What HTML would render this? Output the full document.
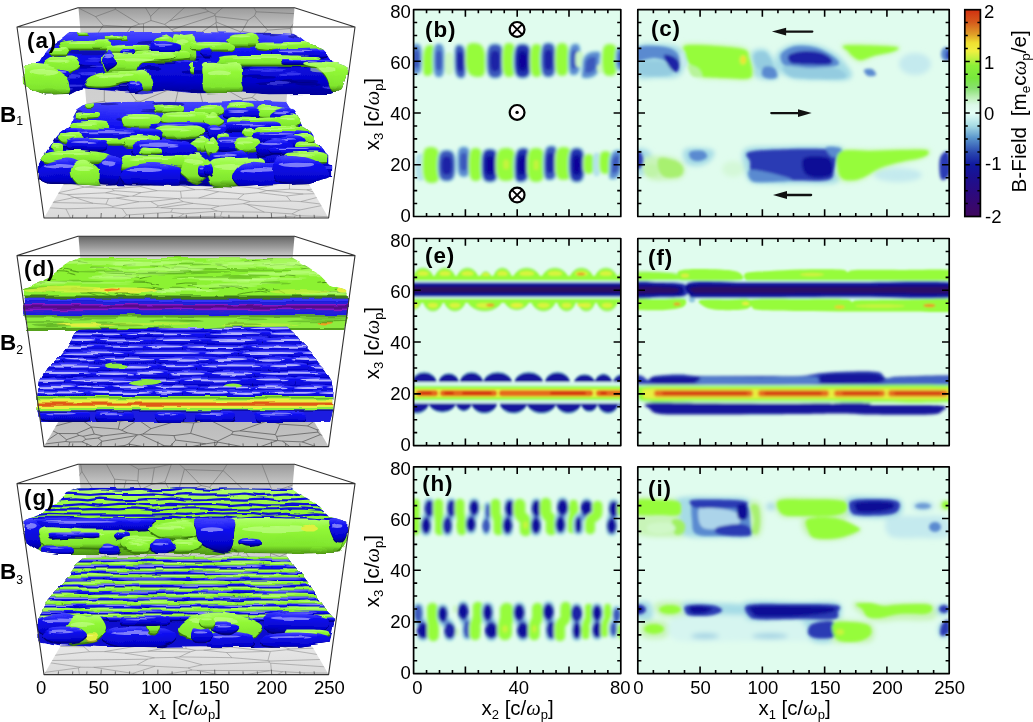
<!DOCTYPE html><html><head><meta charset="utf-8"><title>B-field figure</title>
<style>html,body{margin:0;padding:0;background:#fff;}svg{display:block;}text{font-family:'Liberation Sans', Arial, Helvetica, sans-serif;}</style></head><body>
<svg width="1033" height="722" viewBox="0 0 1033 722">
<defs>
<filter id="bl" x="-20%" y="-20%" width="140%" height="140%"><feGaussianBlur stdDeviation="1.6"/></filter>
<filter id="bl2" x="-20%" y="-20%" width="140%" height="140%"><feGaussianBlur stdDeviation="2.6"/></filter>
<filter id="bl1" x="-20%" y="-20%" width="140%" height="140%"><feGaussianBlur stdDeviation="0.8"/></filter>
<clipPath id="cm0"><rect x="413.6" y="9.6" width="207.2" height="206.9"/></clipPath>
<clipPath id="cr0"><rect x="637.8" y="9.6" width="311.4" height="206.9"/></clipPath>
<clipPath id="cm1"><rect x="413.6" y="238.5" width="207.2" height="207.1"/></clipPath>
<clipPath id="cr1"><rect x="637.8" y="238.5" width="311.4" height="207.1"/></clipPath>
<clipPath id="cm2"><rect x="413.6" y="466.8" width="207.2" height="206.8"/></clipPath>
<clipPath id="cr2"><rect x="637.8" y="466.8" width="311.4" height="206.8"/></clipPath>
<linearGradient id="cbar" x1="0" y1="0" x2="0" y2="1"><stop offset="0" stop-color="#d23010"/><stop offset="0.06" stop-color="#d65a1c"/><stop offset="0.12" stop-color="#e0a028"/><stop offset="0.16" stop-color="#f0e030"/><stop offset="0.2" stop-color="#f0f040"/><stop offset="0.23" stop-color="#c8f040"/><stop offset="0.27" stop-color="#8cf038"/><stop offset="0.33" stop-color="#78e83c"/><stop offset="0.38" stop-color="#88e070"/><stop offset="0.42" stop-color="#b8eeb0"/><stop offset="0.46" stop-color="#dcf8e8"/><stop offset="0.5" stop-color="#e4fff6"/><stop offset="0.56" stop-color="#a8dce4"/><stop offset="0.62" stop-color="#5a96cc"/><stop offset="0.69" stop-color="#2a48b0"/><stop offset="0.75" stop-color="#1018a0"/><stop offset="0.81" stop-color="#1c1090"/><stop offset="0.88" stop-color="#2a0a80"/><stop offset="0.94" stop-color="#360870"/><stop offset="1" stop-color="#40085e"/></linearGradient>
<linearGradient id="gB" x1="0" y1="0" x2="0" y2="1"><stop offset="0" stop-color="#4848ff"/><stop offset="0.3" stop-color="#1010f2"/><stop offset="0.78" stop-color="#0404cc"/><stop offset="1" stop-color="#000090"/></linearGradient><linearGradient id="gG" x1="0" y1="0" x2="0" y2="1"><stop offset="0" stop-color="#b4ff70"/><stop offset="0.3" stop-color="#92f836"/><stop offset="0.78" stop-color="#80e62e"/><stop offset="1" stop-color="#4a9010"/></linearGradient><linearGradient id="wallA" x1="0" y1="0" x2="0" y2="1"><stop offset="0" stop-color="#9a9a9a"/><stop offset="0.16" stop-color="#cacaca"/><stop offset="1" stop-color="#d4d4d4"/></linearGradient><linearGradient id="floorD" x1="0" y1="0" x2="0" y2="1"><stop offset="0" stop-color="#a0a0a0"/><stop offset="0.7" stop-color="#bcbcbc"/><stop offset="1" stop-color="#c4c4c4"/></linearGradient><linearGradient id="wallD" x1="0" y1="0" x2="0" y2="1"><stop offset="0" stop-color="#666"/><stop offset="0.08" stop-color="#9a9a9a"/><stop offset="0.16" stop-color="#d2d2d2"/><stop offset="1" stop-color="#d8d8d8"/></linearGradient><linearGradient id="floor" x1="0" y1="0" x2="0" y2="1"><stop offset="0" stop-color="#cccccc"/><stop offset="0.6" stop-color="#e8e8e8"/><stop offset="1" stop-color="#dadada"/></linearGradient><filter id="soft3" x="-5%" y="-5%" width="110%" height="110%"><feTurbulence type="fractalNoise" baseFrequency="0.035 0.09" numOctaves="2" seed="4" result="n"/><feDisplacementMap in="SourceGraphic" in2="n" scale="5" xChannelSelector="R" yChannelSelector="G" result="d"/><feGaussianBlur in="d" stdDeviation="0.4"/></filter>
<clipPath id="wallclip"><path d="M78.5 7.7H294.5L283.1 140H89.3Z"/></clipPath><clipPath id="floorclip"><path d="M89.3 140H283.1L328.6 218H44Z"/></clipPath>
</defs>
<rect width="1033" height="722" fill="#fff"/>
<g transform="translate(0 0)"><path d="M78.5 7.7H294.5L283.1 140H89.3Z" fill="url(#wallA)"/><path clip-path="url(#wallclip)" d="M-435.7 73.8L-318.7 -17.8M-318.7 -17.8L-188.5 -124.8M187.4 -406.7L126.6 -364.7M126.6 -364.7L-117.2 -182.7M-188.5 -124.8L-117.2 -182.7M-117.2 -182.7L113.2 -1.8M126.6 -364.7L143.8 4.8M143.8 4.8L113.2 -1.8M187.4 -406.7L238.6 -367.6M238.6 -367.6L325.6 -303.8M325.6 -303.8L543.5 -145.1M543.5 -145.1L816.1 73.9M113.2 -1.8L115.5 9.3M-188.5 -124.8L95.6 16.6M115.5 9.3L95.6 16.6M325.6 -303.8L244.1 -10.6M299.5 13.9L543.5 -145.1M299.5 13.9L256.1 11.8M256.1 11.8L244.1 -10.6M185.3 552.1L222.3 496.3M816.1 73.9L767.3 94.7M767.3 94.7L432.1 293.8M222.3 496.3L432.1 293.8M103.2 25.3L95.6 16.6M115.5 9.3L139.5 24.1M103.2 25.3L130.9 27M139.5 24.1L130.9 27M-435.7 73.8L-212 187M185.3 552.1L148.5 497.1M148.5 497.1L-60.9 296.6M-212 187L-60.9 296.6M-318.7 -17.8L37.9 44.8M-24.1 138.8L-212 187M37.9 44.8L88.1 83.2M-24.1 138.8L41.1 112.1M88.1 83.2L41.1 112.1M143.8 4.8L150.6 16.3M139.5 24.1L143.5 23.7M143.5 23.7L151 20.5M150.6 16.3L151 20.5M299.5 13.9L290.4 28.5M767.3 94.7L521.1 84.3M521.1 84.3L293.2 43.2M293.2 43.2L290.4 28.5M256.1 11.8L254.6 15.7M254.6 15.7L267.7 30.1M290.4 28.5L267.7 30.1M145.3 161.1L129.8 145.6M148.5 497.1L145.3 161.1M-60.9 296.6L116.3 138.7M129.8 145.6L116.3 138.7M41.1 133.1L111.4 135.1M41.1 133.1L105 116.5M105 116.5L112.2 131.2M111.4 135.1L112.2 131.2M-24.1 138.8L41.1 133.1M116.3 138.7L111.4 135.1M113.2 108.6L104.3 101.2M41.1 112.1L104.3 101.2M113.2 108.6L105 116.5M432.1 293.8L309.6 162.1M309.6 162.1L276.5 145.8M222.3 496.3L220.7 197.3M220.7 197.3L244.4 137.2M276.5 145.8L244.4 137.2M223.4 115.1L204.1 108.1M223.4 115.1L221.6 122.9M221.6 122.9L214.2 124.5M214.2 124.5L201.8 117.7M204.1 108.1L201.8 117.7M134.9 102.1L114.1 108.7M134.9 102.1L132.4 122.7M114.1 108.7L122.4 120.8M122.4 120.8L131 123.3M132.4 122.7L131 123.3M113.2 108.6L114.1 108.7M112.2 131.2L122.4 120.8M129.8 145.6L131 123.3M145.3 161.1L163.3 135.9M139.1 122.7L163.3 135.9M139.1 122.7L132.4 122.7M88.1 83.2L93.1 82.3M104.3 101.2L104.3 85.3M93.1 82.3L104.3 85.3M136.6 101.1L120.2 79.2M136.6 101.1L134.9 102.1M104.3 85.3L120.2 79.2M55.1 46.5L90.3 66.1M55.1 46.5L91.8 42.5M91.8 42.5L98.3 45.2M98.3 45.2L103.6 63.6M90.3 66.1L103.6 63.6M37.9 44.8L55.1 46.5M93.1 82.3L90.3 66.1M103.2 25.3L91.8 42.5M130.9 27L116.9 47.2M116.9 47.2L98.3 45.2M121 51.3L114.7 67.6M114.7 67.6L103.6 63.6M116.9 47.2L121 51.3M248.1 20.2L242.1 31.2M254.6 15.7L248.1 20.2M267.7 30.1L260.8 35.5M260.8 35.5L242.1 31.2M248.1 20.2L215.6 16.5M216.3 22.1L215.6 16.5M216.3 22.1L240.6 31.9M242.1 31.2L240.6 31.9M309.6 162.1L278.4 117M521.1 84.3L455.2 85.3M455.2 85.3L278.4 117M245.1 128.7L259.1 125M245.1 128.7L240.1 106.7M259.1 125L276.3 115.4M240.1 106.7L242.8 98.9M276.3 115.4L275.7 111M275.7 111L252 97.5M242.8 98.9L252 97.5M276.5 145.8L259.1 125M244.4 137.2L243.3 131M243.3 131L245.1 128.7M233.7 130.3L221.6 122.9M233.7 130.3L243.3 131M223.4 115.1L240.1 106.7M278.4 117L276.3 115.4M455.2 85.3L307.3 84M307.3 84L275.7 111M242.8 98.9L230.2 91.9M204.1 108.1L198.5 86.2M230.2 91.9L198.5 86.2M174.3 36.1L199 58.2M174.3 36.1L161 53M161 53L186 82.8M199 58.2L191.8 78.5M186 82.8L190.1 82.2M191.8 78.5L190.1 82.2M269.1 67.4L256.3 68.7M269.1 67.4L285.4 82.5M256.3 68.7L262 87.2M285.4 82.5L262 87.2M252 97.5L262 87.2M306.4 83.6L307.3 84M306.4 83.6L285.4 82.5M279 51.2L275.3 63.3M279 51.2L281.4 49.2M281.4 49.2L289.8 46.2M289.8 46.2L295.8 70.2M295.8 70.2L275.3 63.3M293.2 43.2L289.8 46.2M260.8 35.5L260.3 41.2M260.3 41.2L281.4 49.2M306.4 83.6L295.8 70.2M269.1 67.4L275.3 63.3M211.8 133.2L219.7 136.6M211.8 133.2L210.6 133.6M210.6 133.6L210.7 171.4M219.7 136.6L216.8 184.2M216.8 184.2L210.7 171.4M214.2 124.5L211.8 133.2M233.7 130.3L219.7 136.6M195.9 135.4L208 166.7M195.9 135.4L210.6 133.6M208 166.7L210.7 171.4M220.7 197.3L216.8 184.2M139.1 122.7L146.2 110.5M136.6 101.1L140.8 101.4M140.8 101.4L146.2 110.5M190.8 132.2L167.9 132.9M190.8 132.2L201 118.3M201 118.3L172.7 114.4M167.3 132.8L167 125.8M167.3 132.8L167.9 132.9M167 125.8L172.7 114.4M208 166.7L167.9 132.9M195.9 135.4L190.8 132.2M201.8 117.7L201 118.3M179.7 85.1L186 82.8M179.7 85.1L179.3 85.4M198.3 86L190.1 82.2M179.3 85.4L172.7 114.4M198.5 86.2L198.3 86M146.2 110.5L167 125.8M163.3 135.9L167.3 132.8M179.3 85.4L140.8 101.4M143.5 23.7L143.5 51.3M121 51.3L133.6 53.5M133.6 53.5L143.5 51.3M201.6 32.1L215.9 22.8M201.6 32.1L208.7 52M215.9 22.8L221.5 48.1M208.7 52L221.5 48.1M173 31.4L201.6 32.1M174.3 36.1L173 31.4M199 58.2L208.7 52M238.6 -367.6L196.6 -99.5M150.6 16.3L181.1 -12.7M196.6 -99.5L181.1 -12.7M143.5 51.3L147 53.1M161 53L147 53.1M151 20.5L164.6 24.4M173 31.4L171.6 29.7M164.6 24.4L171.6 29.7M215.6 16.5L215.1 15.5M216.3 22.1L215.9 22.8M171.6 29.7L215.1 15.5M244.1 -10.6L215 14.2M215 14.2L215.1 15.5M224.2 48.1L235.2 42.9M224.2 48.1L236.7 60.6M235.2 42.9L252.8 47.3M252.8 47.3L255.2 56.5M236.7 60.6L242.7 64.3M255.2 56.5L250.2 65.5M242.7 64.3L248.6 65.8M250.2 65.5L248.6 65.8M221.5 48.1L224.2 48.1M240.6 31.9L235.2 42.9M191.8 78.5L236.7 60.6M260.3 41.2L252.8 47.3M279 51.2L255.2 56.5M198.3 86L242.7 64.3M256.3 68.7L250.2 65.5M230.2 91.9L248.6 65.8M133.5 62.8L148 66.4M133.5 62.8L121.2 77.4M121.2 77.5L121.2 77.4M121.2 77.5L152.7 75.3M152.7 75.3L148 66.4M133.6 53.5L133.5 62.8M147 53.1L148 66.4M114.7 67.6L121.2 77.4M120.2 79.2L121.2 77.5M179.7 85.1L152.7 75.3M188.7 3.8L205.5 9.2M188.7 3.8L169.7 20.9M169.7 20.9L208.6 11.4M205.5 9.2L208.6 11.4M181.1 -12.7L188.7 3.8M196.6 -99.5L205.5 9.2M164.6 24.4L169.7 20.9M215 14.2L208.6 11.4" stroke="#6a6a6a" stroke-width="0.8" fill="none" opacity="0.7"/><path d="M89.3 140H283.1L328.6 218H44Z" fill="url(#floor)"/><path clip-path="url(#floorclip)" d="M186.1 45.8L160.5 58.9M160.5 58.9L-406 150.1M-778.9 179L-766.9 178.2M-406 150.1L-766.9 178.2M-778.9 179L-687.8 192.7M186.4 315.5L105.1 304.9M105.1 304.9L-601.9 206.8M-687.8 192.7L-601.9 206.8M160.5 58.9L154.6 103.7M-406 150.1L-69.5 150.8M154.6 103.7L121.8 133.9M121.8 133.9L61.7 145M-69.5 150.8L61.7 145M-9.5 173.2L-4 172.9M-9.5 173.2L65.5 177.5M65.5 177.5L103 175.1M103 175.1L64 170M-4 172.9L64 170M-174.6 209.6L21.6 206.2M-174.6 209.6L71.6 220.1M71.6 220.1L65.9 208.8M21.6 206.2L65.9 208.8M346.8 296.1L285.6 239.2M346.8 296.1L815.1 231.8M815.1 231.8L297.6 215.7M297.6 215.7L294.9 216.1M285.6 239.2L294.9 216.1M200.6 135.8L192.8 142.1M175.2 123.7L200.6 135.8M175.2 123.7L168.4 143M192.8 142.1L168.4 143M-766.9 178.2L-9.5 173.2M76.8 163.3L-4 172.9M-69.5 150.8L-34.3 152.5M76.8 163.3L57.4 158.6M57.4 158.6L-34.3 152.5M61.7 145L115.8 147.9M-34.3 152.5L113.2 152.3M115.8 147.9L113.2 152.3M121.8 133.9L131.6 145.1M115.8 147.9L131.6 145.1M285.6 239.2L245.9 222.2M294.9 216.1L271.6 217.5M245.9 222.2L271.6 217.5M111.4 261.3L110.7 226.5M111.4 261.3L221.7 220.4M110.7 226.5L220.7 220.2M221.7 220.4L220.7 220.2M-601.9 206.8L-174.6 209.6M105.1 304.9L111.4 261.3M71.6 220.1L108.4 224M108.4 224L110.7 226.5M186.4 315.5L346.8 296.1M245.9 222.2L221.7 220.4M65.9 208.8L112.8 207.6M108.4 224L116.9 222.2M122.2 208.6L112.8 207.6M122.2 208.6L126.7 215M116.9 222.2L126.7 215M64 170L95.7 166.7M103 175.1L118.5 174.7M118.5 174.7L95.7 166.7M76.8 163.3L98 164.9M95.7 166.7L98 164.9M110.8 160.9L75.8 157.6M110.8 160.9L105.2 164.1M57.4 158.6L75.8 157.6M105.2 164.1L98 164.9M154.6 103.7L175.2 123.7M168.4 143L165.3 143.8M131.6 145.1L152.7 145.7M165.3 143.8L152.7 145.7M75.8 157.6L113.8 153.7M113.2 152.3L113.6 152.6M113.8 153.7L113.6 152.6M110.8 160.9L124.5 156.9M113.8 153.7L124.5 156.9M152.7 145.7L155.6 146.4M155.6 146.4L171.3 151.5M113.6 152.6L171.3 151.5M112.9 206.4L112.8 207.6M21.6 206.2L50.2 202.5M106 204.2L93 203.3M106 204.2L112.9 206.4M50.2 202.5L93 203.3M-687.8 192.7L-130.9 190.6M65.5 177.5L68.8 180.9M68.8 180.9L-113.6 190.1M-130.9 190.6L-113.6 190.1M56.9 193L-130.9 190.6M56.9 193L67.2 194.6M50.2 202.5L74.4 197.5M67.2 194.6L74.4 197.5M93 203.3L74.5 197.5M74.4 197.5L74.5 197.5M106 204.2L108.5 198.5M74.5 197.5L108.5 198.5M112.9 206.4L138.9 201.7M138.9 201.7L116.3 198.1M116.3 198.1L108.5 198.5M220.7 220.2L220.4 219.9M116.9 222.2L169.5 218M169.5 218L220.4 219.9M271.6 217.5L224.5 217M224.5 217L220.4 219.9M243.4 147.8L261.6 144.5M243.4 147.8L237 147.7M223.3 143L255.3 140M223.3 143L221.7 146M237 147.7L221.7 146M261.6 144.5L255.3 140M215.8 138.8L223.3 143M215.8 138.8L256.1 138.7M256.1 138.7L255.3 140M186.1 45.8L350.3 94.4M200.6 135.8L215.8 138.8M256.1 138.7L350.3 94.4M205.8 148.1L214.7 146.2M205.8 148.1L185.4 149.7M185.4 149.7L185.7 146.5M185.7 146.5L191 145.4M214.7 146.2L201.2 144.9M201.2 144.9L191 145.4M237 147.7L218.4 155.6M209.5 156.2L218.4 155.6M209.5 156.2L205.8 148.1M221.7 146L214.7 146.2M155.6 146.4L185.7 146.5M172.6 151.7L171.3 151.5M172.6 151.7L185.4 149.7M165.3 143.8L191 145.4M192.8 142.1L201.2 144.9M125.2 164.7L105.2 164.1M125.2 164.7L158.7 161.1M124.5 156.9L136 157.3M158.7 161.1L136 157.3M172.6 151.7L174 152.6M136 157.3L174 152.6M209.5 156.2L200.7 157.2M174 152.6L200.7 157.2M169.5 218L179 216.9M224.5 217L220.5 216.3M179 216.9L220.5 216.3M126.7 215L170.8 212.2M170.8 212.2L183.9 213.8M179 216.9L183.9 213.8M118.5 174.7L125.8 175.1M125.8 175.1L139.8 174.2M125.2 164.7L140 167.2M139.8 174.2L140 167.2M261.6 144.5L285 145.3M350.3 94.4L395.9 102.6M285 145.3L395.9 102.6M1136.9 179L1019.7 171.7M395.9 102.6L1019.7 171.7M243.4 147.8L265.1 151.9M285 145.3L292.2 147.9M292.2 147.9L267.7 151.9M265.1 151.9L267.7 151.9M292.2 147.9L338.7 152.2M338.7 152.2L278.6 153.6M267.7 151.9L278.6 153.6M334 162.4L621.3 165.5M334 162.4L281.9 155.6M338.7 152.2L621.3 165.5M281.9 155.6L278.6 153.6M200.7 157.2L199 158.6M199 158.6L198.9 158.6M158.7 161.1L162.3 161.3M162.3 161.3L198.9 158.6M140 167.2L163.9 165.2M162.3 161.3L163.9 165.2M147.5 174.2L139.8 174.2M147.5 174.2L168.9 166.1M168.9 166.1L163.9 165.2M199 158.6L228.5 160.7M228.5 160.7L249.5 164.2M249.5 164.2L208.5 165.1M198.9 158.6L208.5 165.1M123.3 179.3L129.2 182.1M123.3 179.3L74.3 183.6M129.2 182.1L85.2 187.1M74.3 183.6L73.7 184.1M73.7 184.1L84.7 187.1M84.7 187.1L85.2 187.1M125.8 175.1L123.3 179.3M68.8 180.9L74.3 183.6M-113.6 190.1L73.7 184.1M56.9 193L84.7 187.1M67.2 194.6L105.5 192.8M116.3 198.1L128.7 196.3M105.5 192.8L128.7 196.3M150.6 201.5L177.5 198.6M138.9 201.7L150.6 201.5M177.5 198.6L132.6 196.1M128.7 196.3L132.6 196.1M1019.7 171.7L995.9 171.6M621.3 165.5L777.1 169.3M995.9 171.6L777.1 169.3M194.9 189.7L180.5 191.2M181.5 198.1L180.5 191.2M198.5 198.1L181.5 198.1M198.5 198.1L218.6 191.7M194.9 189.7L203.7 189.6M203.7 189.6L218.6 191.7M259.3 164.5L249.5 164.2M208.5 165.1L208.3 165.3M259.3 164.5L243.2 169.2M243.2 169.2L208.3 165.3M230.5 185.5L203.7 189.6M230.5 185.5L230.5 185.5M194.9 189.7L180.6 185.2M230.5 185.5L206.9 180.8M206.9 180.8L180.6 185.2M240.8 160.2L261.5 159.7M240.8 160.2L218.8 155.6M218.8 155.6L246.3 156.3M246.3 156.3L261.3 159.6M261.3 159.6L261.5 159.7M228.5 160.7L240.8 160.2M218.4 155.6L218.8 155.6M265.1 151.9L246.3 156.3M281.9 155.6L261.3 159.6M193 203.4L183.2 201.6M193 203.4L160.8 207.7M183.2 201.6L158.5 205.9M158.5 205.9L156.2 207.5M160.8 207.7L156.2 207.5M150.6 201.5L158.5 205.9M177.9 198.6L183.2 201.6M177.5 198.6L177.9 198.6M122.2 208.6L156.2 207.5M172.7 208.6L170.8 212.2M172.7 208.6L160.8 207.7M141 192.6L114.3 190.7M141 192.6L157.4 190.7M157.4 190.7L140.2 186.6M140.2 186.6L111.8 188.8M111.8 188.8L114.3 190.7M132.6 196.1L141 192.6M105.5 192.8L114.3 190.7M177.9 198.6L181.5 198.1M180.5 191.2L157.4 190.7M180.6 185.2L159.5 183.9M143.6 184.5L159.5 183.9M143.6 184.5L140.2 186.6M129.2 182.1L143.6 184.5M85.2 187.1L111.8 188.8M224.2 175.1L208 165.3M224.2 175.1L202 176.4M202 176.4L186.4 175.8M189 167.3L208 165.3M189 167.3L179.7 175.1M179.7 175.1L186.4 175.8M243.2 169.2L243.2 173.3M243.2 173.3L228.1 175M228.1 175L224.2 175.1M208.3 165.3L208 165.3M206.9 180.8L202 176.4M230.5 185.5L263.4 181.2M228.1 175L263.4 181.2M159.5 183.9L186.4 175.8M168.9 166.1L189 167.3M147.5 174.2L179.7 175.1M815.1 231.8L953.4 209.6M1136.9 179L1050.9 194.1M953.4 209.6L1050.9 194.1M328.6 194.5L1050.9 194.1M328.6 194.5L300.8 201.6M953.4 209.6L326 204.7M326 204.7L300.8 201.6M310.1 176L281.2 181.6M281.2 181.6L283.5 182.5M995.9 171.6L333.6 186.3M777.1 169.3L344.9 175.3M344.9 175.3L310.1 176M333.6 186.3L289.6 183.6M283.5 182.5L289.6 183.6M263.4 181.2L281.2 181.6M230.5 185.5L257.6 188.4M283.5 182.5L257.6 188.4M273 173L280.7 173.4M273 173L269.4 163.9M280.7 173.4L289.5 168.5M289.5 168.5L285.8 163.6M285.8 163.6L273 163.4M269.4 163.9L273 163.4M243.2 173.3L273 173M310.1 176L280.7 173.4M259.3 164.5L269.4 163.9M344.9 175.3L289.5 168.5M334 162.4L285.8 163.6M261.5 159.7L273 163.4M172.7 208.6L210.8 208.7M193 203.4L219.1 206.1M219.1 206.1L210.8 208.7M183.9 213.8L217.4 211.1M210.8 208.7L217.4 211.1M220.5 216.3L221.9 211.7M221.9 211.7L217.4 211.1M198.5 198.1L237.8 199M218.6 191.7L244 194M244 194L237.8 199M219.1 206.1L243.4 203.7M243.4 203.7L250.3 201.5M237.8 199L250.3 201.5M333.6 186.3L306.8 189.8M289.6 183.6L289.4 189.2M289.4 189.2L306.8 189.8M328.6 194.5L318.2 193.6M318.2 193.6L306.8 189.8M299.6 210L247.3 204.5M299.6 210L291.9 213.9M247.3 204.5L264.5 212.2M291.9 213.9L264.5 212.2M250.3 201.5L290.8 201.1M300.8 201.6L290.8 201.1M326 204.7L299.6 210M243.4 203.7L247.3 204.5M297.6 215.7L291.9 213.9M221.9 211.7L264.5 212.2M266.9 190.6L267.1 190.6M266.9 190.6L259.2 192.6M267.1 190.6L303.3 194M259.2 192.6L286.5 196M286.5 196L303.3 194M257.6 188.4L266.9 190.6M289.4 189.2L267.1 190.6M244 194L259.2 192.6M318.2 193.6L303.3 194M290.8 201.1L286.5 196" stroke="#8a8a8a" stroke-width="0.8" fill="none" opacity="0.7"/><path d="M58.2 218l0.3 -3.2M72.5 218l0.3 -3.2M86.7 218l0.3 -3.2M100.9 218l0.4 -5M115.2 218l0.2 -3.2M129.4 218l0.2 -3.2M143.6 218l0.1 -3.2M157.8 218l0.1 -5M172.1 218l0 -3.2M186.3 218l-0 -3.2M200.5 218l-0 -3.2M214.8 218l-0.1 -5M229 218l-0.1 -3.2M243.2 218l-0.2 -3.2M257.5 218l-0.2 -3.2M271.7 218l-0.4 -5M285.9 218l-0.3 -3.2M300.1 218l-0.3 -3.2M314.4 218l-0.3 -3.2" stroke="#555" stroke-width="0.8"/><g filter="url(#soft3)"><clipPath id="a_top"><path d="M70.4 32.8L120 31.9L195 31.9L250 32.5L280 33L293.3 33.8L301 37.7L306.9 42.5L322.4 48.4L327.2 54.2L332 61L347.6 66.8L346.6 74.6L341.8 89.1L331 94L270 94.5L241 92.5L195 93.5L168 90.5L143 93.5L127 92.5L105 90.5L83 88.5L70.4 95L44.2 95.5L31.6 91L23.9 82.3L23.9 65.8L39.4 61L44.2 53.2L49 47.4L60.7 40.6Z"/></clipPath><clipPath id="a_bot"><path d="M84.9 104.2L93 103L120 101.7L200 101.7L250 100.5L286.2 101.7L290 108L293.7 109.8L296 114.2L301 123L302.4 128L311 131.6L313.6 135.4L314.8 142.8L319.8 144L324.8 151.5L328.5 155.3L328.5 164L332.3 165.2L332.3 177.7L307.4 184L270 185.2L233.7 187.5L182 185.5L97.3 185.5L47.5 182.8L38.7 179L38.7 164L42.5 156.6L46.2 151.6L51.2 144.1L57.4 135.4L60 133L70 125.4L72.4 118L77.4 109.2Z"/></clipPath><g clip-path="url(#a_top)"><path d="M70.4 32.8L120 31.9L195 31.9L250 32.5L280 33L293.3 33.8L301 37.7L306.9 42.5L322.4 48.4L327.2 54.2L332 61L347.6 66.8L346.6 74.6L341.8 89.1L331 94L270 94.5L241 92.5L195 93.5L168 90.5L143 93.5L127 92.5L105 90.5L83 88.5L70.4 95L44.2 95.5L31.6 91L23.9 82.3L23.9 65.8L39.4 61L44.2 53.2L49 47.4L60.7 40.6Z" fill="url(#gB)"/><ellipse cx="68" cy="84.7" rx="18.2" ry="1.2" fill="#5a5aff" opacity="0.55"/><ellipse cx="183.5" cy="60.4" rx="16.4" ry="2.3" fill="#00006e" opacity="0.45"/><ellipse cx="55" cy="34.7" rx="19.4" ry="1.4" fill="#5a5aff" opacity="0.55"/><ellipse cx="268.9" cy="33.1" rx="13.1" ry="2.2" fill="#00006e" opacity="0.45"/><ellipse cx="98.2" cy="90.7" rx="20.4" ry="0.8" fill="#5a5aff" opacity="0.55"/><ellipse cx="33.1" cy="66" rx="21" ry="1.6" fill="#00006e" opacity="0.45"/><ellipse cx="94.3" cy="58.7" rx="6.5" ry="1.1" fill="#5a5aff" opacity="0.55"/><ellipse cx="165.1" cy="63.2" rx="9.7" ry="1.3" fill="#00006e" opacity="0.45"/><ellipse cx="95" cy="61" rx="10.6" ry="0.8" fill="#5a5aff" opacity="0.55"/><ellipse cx="293" cy="66.9" rx="16.3" ry="1.3" fill="#00006e" opacity="0.45"/><ellipse cx="342.6" cy="85.5" rx="7.9" ry="1.3" fill="#5a5aff" opacity="0.55"/><ellipse cx="255.9" cy="76.4" rx="21" ry="1.7" fill="#00006e" opacity="0.45"/><ellipse cx="290.6" cy="73.9" rx="10.9" ry="1.6" fill="#5a5aff" opacity="0.55"/><ellipse cx="307.4" cy="84.6" rx="14.1" ry="1.9" fill="#00006e" opacity="0.45"/><ellipse cx="36" cy="47.8" rx="18.8" ry="1.4" fill="#5a5aff" opacity="0.55"/><ellipse cx="80.4" cy="66.5" rx="17.2" ry="2.1" fill="#00006e" opacity="0.45"/><ellipse cx="144.9" cy="59.8" rx="14.1" ry="1.9" fill="#5a5aff" opacity="0.55"/><ellipse cx="191.7" cy="57" rx="13.8" ry="1" fill="#00006e" opacity="0.45"/><ellipse cx="38.9" cy="75.9" rx="21.7" ry="1.6" fill="#5a5aff" opacity="0.55"/><ellipse cx="151" cy="43.4" rx="14" ry="2.6" fill="#00006e" opacity="0.45"/><ellipse cx="271.6" cy="65.9" rx="19.8" ry="1.1" fill="#5a5aff" opacity="0.55"/><ellipse cx="189.4" cy="91.1" rx="15.2" ry="1.7" fill="#00006e" opacity="0.45"/><ellipse cx="111.2" cy="66.4" rx="21.3" ry="0.8" fill="#5a5aff" opacity="0.55"/><ellipse cx="275.8" cy="83" rx="20.2" ry="2.2" fill="#00006e" opacity="0.45"/><ellipse cx="283.9" cy="64.6" rx="15" ry="1.4" fill="#5a5aff" opacity="0.55"/><ellipse cx="43" cy="86.1" rx="15.1" ry="1.3" fill="#00006e" opacity="0.45"/><ellipse cx="186.5" cy="62.6" rx="11.7" ry="1.3" fill="#5a5aff" opacity="0.55"/><ellipse cx="197.3" cy="71" rx="15.8" ry="1.7" fill="#00006e" opacity="0.45"/><ellipse cx="34" cy="47" rx="8.8" ry="1.6" fill="#5a5aff" opacity="0.55"/><ellipse cx="300.5" cy="81.7" rx="18.8" ry="2.3" fill="#00006e" opacity="0.45"/><ellipse cx="106.7" cy="84.3" rx="16.8" ry="0.9" fill="#5a5aff" opacity="0.55"/><ellipse cx="30.3" cy="33.9" rx="18.1" ry="1.4" fill="#00006e" opacity="0.45"/><ellipse cx="60" cy="71.1" rx="11.5" ry="0.9" fill="#5a5aff" opacity="0.55"/><ellipse cx="76.1" cy="65.2" rx="8.7" ry="1.4" fill="#00006e" opacity="0.45"/><ellipse cx="252.7" cy="60.7" rx="11.2" ry="1.5" fill="#5a5aff" opacity="0.55"/><ellipse cx="32.6" cy="56.6" rx="12.7" ry="1.3" fill="#00006e" opacity="0.45"/><ellipse cx="59.8" cy="87.9" rx="14.2" ry="1.1" fill="#5a5aff" opacity="0.55"/><ellipse cx="218.8" cy="82.8" rx="6.3" ry="1" fill="#00006e" opacity="0.45"/><ellipse cx="71.9" cy="76.8" rx="8.6" ry="1.8" fill="#5a5aff" opacity="0.55"/><ellipse cx="242" cy="66.2" rx="9.5" ry="2.6" fill="#00006e" opacity="0.45"/><ellipse cx="280.3" cy="64.5" rx="9.6" ry="1.7" fill="#5a5aff" opacity="0.55"/><ellipse cx="151.4" cy="68.1" rx="11.1" ry="2" fill="#00006e" opacity="0.45"/><ellipse cx="43.8" cy="51.2" rx="21.5" ry="2" fill="#5a5aff" opacity="0.55"/><ellipse cx="123" cy="85.4" rx="11" ry="2.5" fill="#00006e" opacity="0.45"/><ellipse cx="263" cy="58.4" rx="10" ry="0.8" fill="#5a5aff" opacity="0.55"/><ellipse cx="306.2" cy="35.3" rx="19.1" ry="2.6" fill="#00006e" opacity="0.45"/><ellipse cx="207.5" cy="43.5" rx="19.9" ry="2.2" fill="#5a5aff" opacity="0.55"/><ellipse cx="250.3" cy="64" rx="12" ry="1.5" fill="#00006e" opacity="0.45"/><ellipse cx="90.8" cy="74.1" rx="12.9" ry="1.1" fill="#5a5aff" opacity="0.55"/><ellipse cx="58.4" cy="73.6" rx="10.7" ry="1.8" fill="#00006e" opacity="0.45"/><ellipse cx="129.1" cy="86.2" rx="20.4" ry="0.8" fill="#5a5aff" opacity="0.55"/><ellipse cx="89.3" cy="53" rx="21.8" ry="2.3" fill="#00006e" opacity="0.45"/><ellipse cx="133.5" cy="46" rx="16.8" ry="2" fill="#5a5aff" opacity="0.55"/><ellipse cx="323.3" cy="54" rx="20.1" ry="2.1" fill="#00006e" opacity="0.45"/><ellipse cx="180" cy="93.1" rx="9.8" ry="1.8" fill="#5a5aff" opacity="0.55"/><ellipse cx="52.1" cy="43.4" rx="20.6" ry="1.3" fill="#00006e" opacity="0.45"/><ellipse cx="267.9" cy="69.6" rx="19.5" ry="1.3" fill="#5a5aff" opacity="0.55"/><ellipse cx="133.9" cy="50.8" rx="19.9" ry="2" fill="#00006e" opacity="0.45"/><ellipse cx="330.4" cy="87.1" rx="8.2" ry="1.6" fill="#5a5aff" opacity="0.55"/><ellipse cx="58.4" cy="35.4" rx="7.2" ry="2.4" fill="#00006e" opacity="0.45"/><ellipse cx="277.2" cy="83.5" rx="11.5" ry="1.7" fill="#5a5aff" opacity="0.55"/><ellipse cx="275.2" cy="56.1" rx="15.1" ry="1.3" fill="#00006e" opacity="0.45"/><ellipse cx="51.2" cy="49.3" rx="20.3" ry="1.6" fill="#5a5aff" opacity="0.55"/><ellipse cx="321" cy="60.9" rx="10.4" ry="2.3" fill="#00006e" opacity="0.45"/><ellipse cx="289.9" cy="33.8" rx="16.7" ry="0.9" fill="#5a5aff" opacity="0.55"/><ellipse cx="61.8" cy="87" rx="6.6" ry="1.4" fill="#00006e" opacity="0.45"/><ellipse cx="341.2" cy="58.7" rx="7.8" ry="1" fill="#5a5aff" opacity="0.55"/><ellipse cx="102.3" cy="78.4" rx="7.6" ry="2.5" fill="#00006e" opacity="0.45"/><ellipse cx="146" cy="92.2" rx="20.5" ry="1.2" fill="#5a5aff" opacity="0.55"/><ellipse cx="106.1" cy="62.1" rx="7.6" ry="2.1" fill="#00006e" opacity="0.45"/><defs><path id="q1" d="M78 34C78 33 78 33 79 33C80 32 82 32 83 32C84 32 86 32 86 33C87 33 88 33 88 34C88 34 88 35 87 35C86 35 85 35 83 35C82 35 80 35 79 35C78 35 78 34 78 34Z"/></defs><use href="#q1" fill="#3a7a0c" y="0.9"/><use href="#q1" fill="url(#gG)"/><ellipse cx="82" cy="32.9" rx="3" ry="0.6" fill="#d4ffa8" opacity="0.5"/><defs><path id="q2" d="M105 38C105 37 104 36 106 36C108 36 114 35 117 35C121 35 126 36 128 36C130 36 129 37 129 37C129 37 130 38 128 39C126 39 121 39 117 39C114 39 109 39 106 39C104 39 105 38 105 38Z"/></defs><use href="#q2" fill="#3a7a0c" y="1"/><use href="#q2" fill="url(#gG)"/><ellipse cx="115.1" cy="36.5" rx="7.1" ry="0.6" fill="#d4ffa8" opacity="0.5"/><defs><path id="q3" d="M153 41C153 40 156 38 157 37C159 36 163 35 164 35C166 34 166 35 168 36C170 37 174 39 174 41C175 42 171 44 169 45C167 45 165 45 163 46C161 46 159 46 157 45C155 44 153 43 153 41Z"/></defs><use href="#q3" fill="#3a7a0c" y="1.6"/><use href="#q3" fill="url(#gG)"/><ellipse cx="162.1" cy="37.9" rx="6.3" ry="1" fill="#d4ffa8" opacity="0.5"/><defs><path id="q4" d="M227 40C227 39 230 36 233 35C236 34 240 34 244 34C247 33 251 31 253 33C256 34 259 38 259 40C259 43 257 44 254 45C251 46 247 45 243 45C240 45 236 46 233 45C231 44 227 42 227 40Z"/></defs><use href="#q4" fill="#3a7a0c" y="1.6"/><use href="#q4" fill="url(#gG)"/><ellipse cx="240.7" cy="36.3" rx="9.6" ry="1.1" fill="#d4ffa8" opacity="0.5"/><defs><path id="q5" d="M60 44C60 43 62 43 66 42C70 41 78 41 85 41C92 41 103 40 108 40C112 41 111 44 111 46C112 47 113 48 109 49C105 49 94 49 87 49C80 49 70 50 66 49C61 48 60 46 60 44Z"/></defs><use href="#q5" fill="#3a7a0c" y="1.6"/><use href="#q5" fill="url(#gG)"/><ellipse cx="81.8" cy="43.1" rx="15.3" ry="0.8" fill="#d4ffa8" opacity="0.5"/><defs><path id="q6" d="M106 49C106 48 104 47 107 46C111 46 120 45 126 45C133 45 143 45 146 45C150 46 148 47 148 48C148 49 150 50 146 51C143 51 133 52 126 52C119 52 111 52 107 52C104 51 106 50 106 49Z"/></defs><use href="#q6" fill="#3a7a0c" y="1.4"/><use href="#q6" fill="url(#gG)"/><ellipse cx="123.5" cy="46.9" rx="12.7" ry="0.6" fill="#d4ffa8" opacity="0.5"/><defs><path id="q7" d="M173 35C175 33 181 35 185 36C189 36 193 34 195 36C197 38 196 46 196 50C196 54 197 58 195 60C193 62 188 61 185 60C182 59 178 54 176 52C174 50 174 48 173 45C172 42 171 37 173 35Z"/></defs><use href="#q7" fill="#3a7a0c" y="1.6"/><use href="#q7" fill="url(#gG)"/><ellipse cx="182.7" cy="42.5" rx="6.9" ry="2.2" fill="#d4ffa8" opacity="0.5"/><defs><path id="q8" d="M191 46C191 45 190 44 193 43C197 42 206 42 212 42C218 42 227 42 230 43C234 44 235 45 235 46C235 48 234 50 230 50C226 51 217 50 211 50C205 50 198 51 194 50C191 49 191 47 191 46Z"/></defs><use href="#q8" fill="#3a7a0c" y="1.5"/><use href="#q8" fill="url(#gG)"/><ellipse cx="209.2" cy="44.7" rx="13.1" ry="0.7" fill="#d4ffa8" opacity="0.5"/><defs><path id="q9" d="M256 45C256 44 254 44 259 43C264 42 278 43 288 42C298 42 313 42 319 42C325 43 322 45 322 46C322 47 325 49 319 49C314 50 300 51 289 51C279 51 264 50 258 49C253 48 256 46 256 45Z"/></defs><use href="#q9" fill="#3a7a0c" y="1.5"/><use href="#q9" fill="url(#gG)"/><ellipse cx="283.9" cy="44.7" rx="19.9" ry="0.8" fill="#d4ffa8" opacity="0.5"/><defs><path id="q10" d="M49 52C49 51 50 49 52 48C53 47 57 47 60 47C62 47 65 47 67 47C69 48 70 50 70 51C70 53 68 54 67 55C65 55 63 55 60 55C58 55 54 56 52 55C51 55 50 53 49 52Z"/></defs><use href="#q10" fill="#3a7a0c" y="1.5"/><use href="#q10" fill="url(#gG)"/><ellipse cx="58.1" cy="49.3" rx="6.2" ry="0.8" fill="#d4ffa8" opacity="0.5"/><defs><path id="q11" d="M119 52C119 51 121 50 122 49C124 49 125 49 126 49C128 49 131 49 132 49C133 50 134 51 134 52C134 53 133 54 132 55C131 55 129 55 127 55C126 55 123 56 122 55C120 55 119 53 119 52Z"/></defs><use href="#q11" fill="#00007a" y="1.2"/><use href="#q11" fill="url(#gB)"/><ellipse cx="125.3" cy="50.8" rx="4.4" ry="0.6" fill="#c4c4ff" opacity="0.6"/><defs><path id="q12" d="M150 47C150 46 149 43 152 42C155 41 161 41 166 41C170 42 177 43 179 44C182 45 182 45 182 47C182 48 182 51 179 52C177 53 171 52 166 52C162 52 154 52 152 51C149 50 150 49 150 47Z"/></defs><use href="#q12" fill="#00007a" y="1.6"/><use href="#q12" fill="url(#gB)"/><ellipse cx="163.1" cy="44.7" rx="9.6" ry="1" fill="#c4c4ff" opacity="0.6"/><defs><path id="q13" d="M200 52C200 51 201 49 202 49C203 48 204 48 205 48C207 48 209 47 210 48C211 49 210 52 210 53C210 54 211 56 210 57C209 57 206 57 205 57C204 57 204 56 203 55C202 54 201 53 200 52Z"/></defs><use href="#q13" fill="#00007a" y="1.6"/><use href="#q13" fill="url(#gB)"/><defs><path id="q14" d="M271 54C270 52 269 51 274 50C278 49 290 49 298 49C306 49 318 48 323 49C328 50 327 52 327 53C327 54 329 55 324 56C320 57 308 57 299 58C291 58 279 58 274 57C269 57 271 55 271 54Z"/></defs><use href="#q14" fill="#00007a" y="1.6"/><use href="#q14" fill="url(#gB)"/><ellipse cx="294.3" cy="51.4" rx="17" ry="0.8" fill="#c4c4ff" opacity="0.6"/><defs><path id="q15" d="M135 56C135 54 132 53 136 52C141 51 153 51 161 51C170 51 182 51 187 52C192 53 190 55 190 56C190 58 191 59 187 59C182 60 170 61 161 61C153 61 142 61 138 60C133 59 135 57 135 56Z"/></defs><use href="#q15" fill="#3a7a0c" y="1.6"/><use href="#q15" fill="url(#gG)"/><ellipse cx="158" cy="53.7" rx="16.4" ry="0.9" fill="#d4ffa8" opacity="0.5"/><defs><path id="q16" d="M219 59C219 58 215 57 223 56C231 55 252 55 268 55C283 55 307 56 316 56C324 57 320 57 319 59C319 60 323 64 315 65C306 66 283 65 267 65C252 65 231 65 222 64C214 64 218 61 219 59Z"/></defs><use href="#q16" fill="#3a7a0c" y="1.6"/><use href="#q16" fill="url(#gG)"/><ellipse cx="260.9" cy="58.2" rx="30.3" ry="0.9" fill="#d4ffa8" opacity="0.5"/><defs><path id="q17" d="M105 54C111 51 129 54 140 54C151 54 168 53 173 54C178 55 177 57 173 58C169 59 156 59 150 60C144 61 142 61 140 63C138 65 139 69 136 71C133 72 125 71 120 71C115 71 108 74 105 71C102 68 99 57 105 54Z"/></defs><use href="#q17" fill="#3a7a0c" y="1.6"/><use href="#q17" fill="url(#gG)"/><ellipse cx="133.6" cy="58.8" rx="20.4" ry="1.6" fill="#d4ffa8" opacity="0.5"/><defs><path id="q18" d="M103 60C103 57 106 53 107 51C107 49 106 50 107 50C107 50 109 49 110 51C112 53 117 59 117 62C117 64 112 67 110 68C109 69 109 68 108 69C107 69 106 70 105 68C104 67 102 63 103 60Z"/></defs><use href="#q18" fill="#00007a" y="1.6"/><use href="#q18" fill="url(#gB)"/><ellipse cx="108.7" cy="55.5" rx="4.3" ry="1.7" fill="#c4c4ff" opacity="0.6"/><defs><path id="q19" d="M282 61C282 61 279 59 283 59C287 59 298 59 306 59C314 59 326 59 330 59C334 59 331 60 331 61C331 62 334 63 330 64C326 64 315 64 307 64C300 64 288 64 284 64C280 63 282 62 282 61Z"/></defs><use href="#q19" fill="#00007a" y="1.1"/><use href="#q19" fill="url(#gB)"/><ellipse cx="302.6" cy="60.4" rx="14.9" ry="0.6" fill="#c4c4ff" opacity="0.6"/><defs><path id="q20" d="M44 64C43 62 47 60 50 58C53 57 58 57 62 57C66 57 70 56 74 57C77 58 80 63 80 65C80 67 75 70 72 71C69 72 65 74 62 74C58 74 55 72 52 71C49 69 44 66 44 64Z"/></defs><use href="#q20" fill="#3a7a0c" y="1.6"/><use href="#q20" fill="url(#gG)"/><ellipse cx="59" cy="62" rx="10.9" ry="1.5" fill="#d4ffa8" opacity="0.5"/><defs><path id="q21" d="M55 74C55 73 56 70 56 69C57 68 59 69 60 69C62 69 64 69 66 70C67 71 69 73 69 74C69 75 68 77 66 78C65 79 62 79 60 79C58 79 57 78 56 77C55 76 55 76 55 74Z"/></defs><use href="#q21" fill="#00007a" y="1.6"/><use href="#q21" fill="url(#gB)"/><ellipse cx="61.1" cy="71.9" rx="4.3" ry="0.9" fill="#c4c4ff" opacity="0.6"/><defs><path id="q22" d="M24 66C26 63 32 63 35 63C38 63 42 63 45 64C48 65 52 67 54 68C56 69 58 70 60 72C62 74 66 76 68 78C70 80 70 83 70 85C71 87 72 90 70 92C69 94 64 94 60 95C56 96 49 96 44 95C39 94 35 93 32 91C29 89 25 86 24 82C23 78 22 69 24 66Z"/></defs><use href="#q22" fill="#3a7a0c" y="1.6"/><use href="#q22" fill="url(#gG)"/><ellipse cx="43.5" cy="72.6" rx="13.9" ry="2.9" fill="#d4ffa8" opacity="0.5"/><defs><path id="q23" d="M190 68C189 67 189 65 189 65C190 64 192 64 193 64C193 64 193 65 193 66C193 67 194 68 194 69C194 70 194 71 194 72C194 72 193 72 193 72C192 72 191 71 191 71C190 70 190 69 190 68Z"/></defs><use href="#q23" fill="#3a7a0c" y="1.4"/><use href="#q23" fill="url(#gG)"/><defs><path id="q24" d="M204 64C207 62 216 63 222 64C228 64 238 62 241 64C245 67 242 75 242 80C242 85 246 90 242 92C238 94 221 93 215 93C209 93 206 93 204 90C202 87 203 80 203 76C203 72 201 66 204 64Z"/></defs><use href="#q24" fill="#3a7a0c" y="1.6"/><use href="#q24" fill="url(#gG)"/><ellipse cx="219.4" cy="72.3" rx="11.7" ry="2.7" fill="#d4ffa8" opacity="0.5"/><defs><path id="q25" d="M305 62C310 61 325 61 332 62C339 62 345 65 348 67C350 69 348 71 347 75C346 78 344 87 342 89C340 92 335 92 333 90C331 88 330 82 328 78C326 74 322 70 318 68C314 66 307 66 305 65C303 64 300 63 305 62Z"/></defs><use href="#q25" fill="#3a7a0c" y="1.6"/><use href="#q25" fill="url(#gG)"/><ellipse cx="322.9" cy="70" rx="12.8" ry="2.6" fill="#d4ffa8" opacity="0.5"/><defs><path id="q26" d="M88 78C91 76 98 73 105 72C112 71 123 71 130 71C137 71 142 69 145 70C148 71 149 73 150 76C151 79 154 86 153 88C152 90 147 90 143 89C139 88 132 82 127 82C122 82 116 85 110 86C104 87 92 87 88 86C84 85 85 81 88 78Z"/></defs><use href="#q26" fill="#3a7a0c" y="1.6"/><use href="#q26" fill="url(#gG)"/><ellipse cx="115.3" cy="75.7" rx="19.5" ry="1.7" fill="#d4ffa8" opacity="0.5"/><defs><path id="q27" d="M128 87C128 86 130 83 131 82C132 81 135 83 136 83C137 83 137 82 138 82C139 83 143 87 143 88C143 90 140 90 139 91C137 92 136 93 134 93C133 93 132 93 131 92C130 91 128 89 128 87Z"/></defs><use href="#q27" fill="#00007a" y="1.6"/><use href="#q27" fill="url(#gB)"/><ellipse cx="134.3" cy="85.3" rx="4.5" ry="1" fill="#c4c4ff" opacity="0.6"/></g><g clip-path="url(#a_bot)"><path d="M84.9 104.2L93 103L120 101.7L200 101.7L250 100.5L286.2 101.7L290 108L293.7 109.8L296 114.2L301 123L302.4 128L311 131.6L313.6 135.4L314.8 142.8L319.8 144L324.8 151.5L328.5 155.3L328.5 164L332.3 165.2L332.3 177.7L307.4 184L270 185.2L233.7 187.5L182 185.5L97.3 185.5L47.5 182.8L38.7 179L38.7 164L42.5 156.6L46.2 151.6L51.2 144.1L57.4 135.4L60 133L70 125.4L72.4 118L77.4 109.2Z" fill="url(#gB)"/><ellipse cx="317.2" cy="180.7" rx="6.9" ry="0.9" fill="#5a5aff" opacity="0.55"/><ellipse cx="282.3" cy="163.1" rx="16.7" ry="1.5" fill="#00006e" opacity="0.45"/><ellipse cx="215.7" cy="152.4" rx="15.3" ry="1" fill="#5a5aff" opacity="0.55"/><ellipse cx="164.9" cy="134.7" rx="17.6" ry="2.6" fill="#00006e" opacity="0.45"/><ellipse cx="315.3" cy="147.2" rx="13.1" ry="1.2" fill="#5a5aff" opacity="0.55"/><ellipse cx="50.4" cy="104.3" rx="13.4" ry="1.5" fill="#00006e" opacity="0.45"/><ellipse cx="150.2" cy="176" rx="14.4" ry="1.6" fill="#5a5aff" opacity="0.55"/><ellipse cx="108.5" cy="104" rx="11.2" ry="1.2" fill="#00006e" opacity="0.45"/><ellipse cx="188" cy="184.9" rx="16.8" ry="1.1" fill="#5a5aff" opacity="0.55"/><ellipse cx="299.1" cy="168.1" rx="17.8" ry="2.5" fill="#00006e" opacity="0.45"/><ellipse cx="261.2" cy="167.5" rx="11.7" ry="2.2" fill="#5a5aff" opacity="0.55"/><ellipse cx="319" cy="115.4" rx="18.1" ry="2.2" fill="#00006e" opacity="0.45"/><ellipse cx="173.8" cy="146" rx="13.8" ry="2.1" fill="#5a5aff" opacity="0.55"/><ellipse cx="185.2" cy="171" rx="11.7" ry="2.4" fill="#00006e" opacity="0.45"/><ellipse cx="300.9" cy="140.3" rx="15.1" ry="2.1" fill="#5a5aff" opacity="0.55"/><ellipse cx="249.9" cy="142.4" rx="9.5" ry="1.5" fill="#00006e" opacity="0.45"/><ellipse cx="242.9" cy="115.8" rx="20.5" ry="1.2" fill="#5a5aff" opacity="0.55"/><ellipse cx="304.3" cy="127.7" rx="21.3" ry="2.1" fill="#00006e" opacity="0.45"/><ellipse cx="186.2" cy="145" rx="16.4" ry="1.6" fill="#5a5aff" opacity="0.55"/><ellipse cx="130.4" cy="119.2" rx="14.2" ry="2.5" fill="#00006e" opacity="0.45"/><ellipse cx="220.7" cy="108.3" rx="19.1" ry="1.8" fill="#5a5aff" opacity="0.55"/><ellipse cx="303.2" cy="117.9" rx="17.9" ry="1.1" fill="#00006e" opacity="0.45"/><ellipse cx="229.3" cy="124.7" rx="9.6" ry="2" fill="#5a5aff" opacity="0.55"/><ellipse cx="70.8" cy="145.4" rx="19.7" ry="1.4" fill="#00006e" opacity="0.45"/><ellipse cx="101" cy="175.1" rx="12.8" ry="1.8" fill="#5a5aff" opacity="0.55"/><ellipse cx="49.2" cy="132.1" rx="8.8" ry="2.1" fill="#00006e" opacity="0.45"/><ellipse cx="64" cy="181.2" rx="6.4" ry="1.8" fill="#5a5aff" opacity="0.55"/><ellipse cx="46.1" cy="123.2" rx="19" ry="1.2" fill="#00006e" opacity="0.45"/><ellipse cx="93.3" cy="159.4" rx="12.2" ry="0.9" fill="#5a5aff" opacity="0.55"/><ellipse cx="327.1" cy="114.6" rx="6.6" ry="1.5" fill="#00006e" opacity="0.45"/><ellipse cx="218.4" cy="163.6" rx="7.8" ry="1.3" fill="#5a5aff" opacity="0.55"/><ellipse cx="48.9" cy="139.2" rx="18.3" ry="2.2" fill="#00006e" opacity="0.45"/><ellipse cx="301.6" cy="164.7" rx="19.8" ry="1.8" fill="#5a5aff" opacity="0.55"/><ellipse cx="177.1" cy="120.7" rx="16.6" ry="1.5" fill="#00006e" opacity="0.45"/><ellipse cx="69.6" cy="139.2" rx="20" ry="1" fill="#5a5aff" opacity="0.55"/><ellipse cx="209.6" cy="134.6" rx="14.2" ry="1.2" fill="#00006e" opacity="0.45"/><ellipse cx="318.3" cy="123.5" rx="15.7" ry="1.4" fill="#5a5aff" opacity="0.55"/><ellipse cx="45.2" cy="148.3" rx="8.2" ry="1.1" fill="#00006e" opacity="0.45"/><ellipse cx="49.7" cy="115.4" rx="7.5" ry="1.7" fill="#5a5aff" opacity="0.55"/><ellipse cx="187.4" cy="183.6" rx="20.9" ry="2.6" fill="#00006e" opacity="0.45"/><ellipse cx="107.4" cy="138.9" rx="10" ry="1.6" fill="#5a5aff" opacity="0.55"/><ellipse cx="221" cy="168.4" rx="17.4" ry="1.4" fill="#00006e" opacity="0.45"/><ellipse cx="162.7" cy="145.7" rx="6.1" ry="0.8" fill="#5a5aff" opacity="0.55"/><ellipse cx="158.5" cy="111.2" rx="17.6" ry="1.4" fill="#00006e" opacity="0.45"/><ellipse cx="68.9" cy="117.1" rx="9.7" ry="1.1" fill="#5a5aff" opacity="0.55"/><ellipse cx="191" cy="140.5" rx="11" ry="2" fill="#00006e" opacity="0.45"/><ellipse cx="101.6" cy="177.2" rx="21.4" ry="1.8" fill="#5a5aff" opacity="0.55"/><ellipse cx="165.8" cy="144.5" rx="15.3" ry="1" fill="#00006e" opacity="0.45"/><ellipse cx="161.2" cy="145.6" rx="8.9" ry="0.9" fill="#5a5aff" opacity="0.55"/><ellipse cx="272.8" cy="132.4" rx="14.3" ry="2.5" fill="#00006e" opacity="0.45"/><ellipse cx="217" cy="126" rx="21.7" ry="1.3" fill="#5a5aff" opacity="0.55"/><ellipse cx="45.5" cy="158.9" rx="7.6" ry="1.5" fill="#00006e" opacity="0.45"/><ellipse cx="283.8" cy="157.8" rx="6.3" ry="1.4" fill="#5a5aff" opacity="0.55"/><ellipse cx="159.1" cy="142.3" rx="9.3" ry="1.9" fill="#00006e" opacity="0.45"/><ellipse cx="61.4" cy="125.6" rx="12" ry="2.1" fill="#5a5aff" opacity="0.55"/><ellipse cx="62.2" cy="164.7" rx="9.1" ry="1.9" fill="#00006e" opacity="0.45"/><ellipse cx="153.6" cy="140.4" rx="18.1" ry="1.4" fill="#5a5aff" opacity="0.55"/><ellipse cx="75.3" cy="112.1" rx="7.3" ry="2.4" fill="#00006e" opacity="0.45"/><ellipse cx="225.9" cy="181.7" rx="17.1" ry="0.8" fill="#5a5aff" opacity="0.55"/><ellipse cx="231.2" cy="166.5" rx="17.6" ry="1.8" fill="#00006e" opacity="0.45"/><ellipse cx="143.7" cy="139.9" rx="18.8" ry="1.2" fill="#5a5aff" opacity="0.55"/><ellipse cx="192.6" cy="141.6" rx="21.3" ry="2.3" fill="#00006e" opacity="0.45"/><ellipse cx="310.3" cy="171.4" rx="10.7" ry="1.1" fill="#5a5aff" opacity="0.55"/><ellipse cx="181.7" cy="123.5" rx="12.8" ry="2.1" fill="#00006e" opacity="0.45"/><ellipse cx="306.4" cy="150.6" rx="19.1" ry="0.9" fill="#5a5aff" opacity="0.55"/><ellipse cx="143.3" cy="184.8" rx="8.3" ry="1.7" fill="#00006e" opacity="0.45"/><ellipse cx="59.4" cy="109.2" rx="20.3" ry="2.2" fill="#5a5aff" opacity="0.55"/><ellipse cx="227.9" cy="112.7" rx="10.7" ry="1.3" fill="#00006e" opacity="0.45"/><ellipse cx="234.5" cy="158.5" rx="13" ry="1.5" fill="#5a5aff" opacity="0.55"/><ellipse cx="72.5" cy="146.9" rx="21.2" ry="2.2" fill="#00006e" opacity="0.45"/><ellipse cx="67.9" cy="144.9" rx="17.4" ry="1.2" fill="#5a5aff" opacity="0.55"/><ellipse cx="299.5" cy="140.3" rx="17.3" ry="1.6" fill="#00006e" opacity="0.45"/><ellipse cx="328.6" cy="167" rx="15.2" ry="1" fill="#5a5aff" opacity="0.55"/><ellipse cx="167.9" cy="104.4" rx="15.5" ry="2.4" fill="#00006e" opacity="0.45"/><ellipse cx="92.3" cy="144.3" rx="13.7" ry="1.4" fill="#5a5aff" opacity="0.55"/><ellipse cx="246" cy="179.7" rx="17.3" ry="1.8" fill="#00006e" opacity="0.45"/><ellipse cx="319" cy="129.5" rx="17.9" ry="1.7" fill="#5a5aff" opacity="0.55"/><ellipse cx="260.9" cy="172.7" rx="9.6" ry="2" fill="#00006e" opacity="0.45"/><ellipse cx="156.8" cy="157.4" rx="21.6" ry="1.7" fill="#5a5aff" opacity="0.55"/><ellipse cx="43.4" cy="140.6" rx="17.4" ry="2.4" fill="#00006e" opacity="0.45"/><defs><path id="q28" d="M85 105C85 105 86 104 87 103C87 103 88 103 89 103C90 103 92 103 92 103C93 104 94 104 94 105C94 106 93 108 92 108C91 109 90 108 90 108C89 108 88 108 87 108C86 107 85 106 85 105Z"/></defs><use href="#q28" fill="#3a7a0c" y="1.1"/><use href="#q28" fill="url(#gG)"/><defs><path id="q29" d="M153 108C153 107 152 107 154 106C157 106 165 105 169 105C174 105 180 106 182 106C185 107 184 107 184 108C184 109 184 111 182 112C179 112 173 111 168 112C164 112 158 113 155 112C153 111 153 109 153 108Z"/></defs><use href="#q29" fill="#3a7a0c" y="1.3"/><use href="#q29" fill="url(#gG)"/><ellipse cx="166.2" cy="107.3" rx="9.3" ry="0.6" fill="#d4ffa8" opacity="0.5"/><defs><path id="q30" d="M194 110C194 109 196 108 198 107C201 106 206 105 209 105C213 104 217 104 219 105C222 106 224 108 224 110C224 111 222 113 219 114C217 114 212 115 209 115C205 115 200 115 198 115C195 114 194 112 194 110Z"/></defs><use href="#q30" fill="#3a7a0c" y="1.6"/><use href="#q30" fill="url(#gG)"/><ellipse cx="206.6" cy="107.8" rx="8.8" ry="0.9" fill="#d4ffa8" opacity="0.5"/><defs><path id="q31" d="M227 107C227 106 228 105 230 104C233 103 237 103 241 103C244 103 247 103 249 104C251 104 253 105 253 107C253 108 252 110 250 111C248 111 243 110 240 110C237 110 232 111 230 110C228 110 227 108 227 107Z"/></defs><use href="#q31" fill="#3a7a0c" y="1.5"/><use href="#q31" fill="url(#gG)"/><ellipse cx="238.2" cy="105.2" rx="7.7" ry="0.7" fill="#d4ffa8" opacity="0.5"/><defs><path id="q32" d="M254 113C254 111 256 108 259 107C262 105 267 106 271 106C275 106 282 107 285 108C288 109 291 111 291 113C291 114 288 116 285 117C282 118 276 117 271 117C267 117 261 116 258 115C256 115 254 114 254 113Z"/></defs><use href="#q32" fill="#3a7a0c" y="1.6"/><use href="#q32" fill="url(#gG)"/><ellipse cx="269.6" cy="109.1" rx="11.1" ry="1" fill="#d4ffa8" opacity="0.5"/><defs><path id="q33" d="M224 114C224 112 225 109 229 108C232 107 238 108 243 108C247 108 252 107 254 108C257 109 260 111 260 113C260 115 258 117 255 118C252 119 248 118 244 118C240 118 233 117 229 117C226 116 224 115 224 114Z"/></defs><use href="#q33" fill="#00007a" y="1.6"/><use href="#q33" fill="url(#gB)"/><ellipse cx="238.9" cy="111" rx="10.8" ry="0.9" fill="#c4c4ff" opacity="0.6"/><defs><path id="q34" d="M270 115C270 114 272 112 274 111C277 110 282 108 285 108C288 108 291 109 293 110C295 111 297 114 297 116C297 117 293 119 291 120C289 121 287 121 284 121C281 121 277 121 275 120C273 119 270 117 270 115Z"/></defs><use href="#q34" fill="#00007a" y="1.6"/><use href="#q34" fill="url(#gB)"/><ellipse cx="281.4" cy="112.1" rx="8" ry="1.2" fill="#c4c4ff" opacity="0.6"/><defs><path id="q35" d="M76 116C76 115 75 113 77 113C79 112 84 113 87 113C91 113 96 113 98 113C100 114 100 114 100 115C100 116 100 117 98 118C96 118 91 119 87 119C84 118 79 118 77 117C75 117 76 116 76 116Z"/></defs><use href="#q35" fill="#3a7a0c" y="1.2"/><use href="#q35" fill="url(#gG)"/><ellipse cx="85.9" cy="114.4" rx="7.3" ry="0.6" fill="#d4ffa8" opacity="0.5"/><defs><path id="q36" d="M122 120C121 118 122 116 125 115C128 114 136 114 141 114C146 114 153 114 156 115C159 116 161 118 160 120C160 122 157 126 154 127C151 128 146 128 141 128C137 127 130 127 126 126C123 125 122 121 122 120Z"/></defs><use href="#q36" fill="#3a7a0c" y="1.6"/><use href="#q36" fill="url(#gG)"/><ellipse cx="137.9" cy="117.9" rx="11.6" ry="1.2" fill="#d4ffa8" opacity="0.5"/><defs><path id="q37" d="M160 118C161 116 162 113 166 113C170 112 179 112 186 112C192 112 203 112 207 113C211 114 210 116 210 118C209 119 210 122 206 123C202 124 192 124 185 124C178 124 168 123 164 122C160 121 160 119 160 118Z"/></defs><use href="#q37" fill="#3a7a0c" y="1.6"/><use href="#q37" fill="url(#gG)"/><ellipse cx="181" cy="115.7" rx="14.8" ry="1.1" fill="#d4ffa8" opacity="0.5"/><defs><path id="q38" d="M203 119C204 117 208 116 210 114C211 113 211 112 213 112C214 112 217 113 218 114C220 116 224 119 224 121C224 122 221 124 219 125C217 126 215 126 213 126C212 126 210 127 209 126C207 125 203 121 203 119Z"/></defs><use href="#q38" fill="#3a7a0c" y="1.6"/><use href="#q38" fill="url(#gG)"/><ellipse cx="212" cy="115.9" rx="6.1" ry="1.3" fill="#d4ffa8" opacity="0.5"/><defs><path id="q39" d="M227 121C227 119 227 117 232 116C236 116 247 117 254 117C262 117 273 116 277 117C282 118 280 120 280 121C280 123 281 125 276 126C272 127 261 125 254 125C247 125 237 126 232 125C227 124 227 122 227 121Z"/></defs><use href="#q39" fill="#3a7a0c" y="1.6"/><use href="#q39" fill="url(#gG)"/><ellipse cx="249" cy="119.1" rx="16" ry="0.9" fill="#d4ffa8" opacity="0.5"/><defs><path id="q40" d="M276 122C276 120 277 117 280 116C282 114 287 114 290 114C293 113 295 114 297 115C299 116 302 119 301 121C301 123 297 126 295 127C293 128 292 128 290 128C288 128 284 130 282 129C280 128 277 124 276 122Z"/></defs><use href="#q40" fill="#3a7a0c" y="1.6"/><use href="#q40" fill="url(#gG)"/><ellipse cx="286.8" cy="118.1" rx="7.4" ry="1.4" fill="#d4ffa8" opacity="0.5"/><defs><path id="q41" d="M150 126C150 125 148 124 152 124C157 123 169 123 178 122C187 122 201 122 206 123C212 124 210 126 210 127C210 129 212 130 207 131C201 131 189 130 180 130C171 130 158 131 153 130C148 130 150 127 150 126Z"/></defs><use href="#q41" fill="#00007a" y="1.5"/><use href="#q41" fill="url(#gB)"/><ellipse cx="175" cy="124.9" rx="18.2" ry="0.7" fill="#c4c4ff" opacity="0.6"/><defs><path id="q42" d="M225 127C225 126 224 123 229 122C233 121 245 122 253 122C261 122 272 121 277 122C281 123 281 125 281 127C280 128 279 129 274 130C269 131 258 131 251 131C243 132 231 132 227 131C223 130 225 129 225 127Z"/></defs><use href="#q42" fill="#00007a" y="1.6"/><use href="#q42" fill="url(#gB)"/><ellipse cx="248.3" cy="124.7" rx="16.7" ry="0.9" fill="#c4c4ff" opacity="0.6"/><defs><path id="q43" d="M70 126C70 125 70 123 73 122C77 122 84 121 89 121C95 121 104 121 107 122C110 123 109 126 109 127C109 128 110 129 107 130C103 130 95 131 90 131C84 131 77 130 74 129C71 129 71 127 70 126Z"/></defs><use href="#q43" fill="#3a7a0c" y="1.6"/><use href="#q43" fill="url(#gG)"/><ellipse cx="86.7" cy="124.1" rx="11.6" ry="0.8" fill="#d4ffa8" opacity="0.5"/><defs><path id="q44" d="M153 132C154 130 156 127 161 126C165 125 173 125 180 126C186 126 195 125 199 126C203 127 205 130 204 132C204 133 203 135 199 136C194 138 186 138 179 138C172 138 163 137 158 136C154 135 153 133 153 132Z"/></defs><use href="#q44" fill="#3a7a0c" y="1.6"/><use href="#q44" fill="url(#gG)"/><ellipse cx="174.8" cy="129.3" rx="15.3" ry="1.2" fill="#d4ffa8" opacity="0.5"/><defs><path id="q45" d="M255 130C255 129 254 127 259 126C263 126 275 126 283 126C291 126 302 127 307 128C311 128 310 129 310 130C311 131 312 133 308 133C303 134 292 134 283 134C275 134 262 134 257 133C253 132 255 131 255 130Z"/></defs><use href="#q45" fill="#3a7a0c" y="1.5"/><use href="#q45" fill="url(#gG)"/><ellipse cx="278.2" cy="128.6" rx="16.7" ry="0.7" fill="#d4ffa8" opacity="0.5"/><defs><path id="q46" d="M242 133C242 132 244 130 245 129C247 129 249 128 250 128C252 128 252 128 253 129C255 130 258 132 258 134C258 135 255 136 254 137C252 138 251 139 250 139C248 139 246 138 245 137C243 136 242 134 242 133Z"/></defs><use href="#q46" fill="#3a7a0c" y="1.6"/><use href="#q46" fill="url(#gG)"/><ellipse cx="248.6" cy="131.5" rx="5" ry="1" fill="#d4ffa8" opacity="0.5"/><defs><path id="q47" d="M66 134C66 132 63 129 71 128C79 128 98 129 112 129C126 129 148 128 157 129C165 130 162 133 162 135C162 137 164 140 156 141C148 142 129 140 115 140C101 139 80 141 72 140C63 139 66 136 66 134Z"/></defs><use href="#q47" fill="#00007a" y="1.6"/><use href="#q47" fill="url(#gB)"/><ellipse cx="106.1" cy="132.2" rx="28.7" ry="1.1" fill="#c4c4ff" opacity="0.6"/><defs><path id="q48" d="M207 131C206 129 207 128 208 127C209 126 211 125 213 125C215 125 217 125 219 127C221 128 225 129 225 131C226 133 222 137 221 138C219 139 217 139 216 139C214 138 212 138 210 137C209 136 207 132 207 131Z"/></defs><use href="#q48" fill="#00007a" y="1.6"/><use href="#q48" fill="url(#gB)"/><ellipse cx="214.4" cy="128.8" rx="5.6" ry="1.3" fill="#c4c4ff" opacity="0.6"/><defs><path id="q49" d="M252 136C252 134 253 133 257 132C262 131 273 131 281 131C289 131 302 131 307 132C313 133 312 135 312 136C311 138 312 140 307 140C302 141 291 141 282 141C274 141 261 142 256 142C251 141 252 138 252 136Z"/></defs><use href="#q49" fill="#00007a" y="1.6"/><use href="#q49" fill="url(#gB)"/><ellipse cx="277.1" cy="133.9" rx="17.8" ry="1" fill="#c4c4ff" opacity="0.6"/><defs><path id="q50" d="M58 137C58 136 59 135 61 134C63 134 67 134 70 133C73 133 77 133 79 133C81 134 84 137 84 139C83 140 80 141 78 142C75 143 71 143 69 143C66 143 65 143 63 142C61 141 58 138 58 137Z"/></defs><use href="#q50" fill="#3a7a0c" y="1.6"/><use href="#q50" fill="url(#gG)"/><ellipse cx="68.7" cy="136.3" rx="7.7" ry="0.9" fill="#d4ffa8" opacity="0.5"/><defs><path id="q51" d="M120 140C120 138 120 137 123 136C126 135 134 134 139 134C145 134 151 135 155 136C158 137 160 138 160 139C160 141 159 145 155 146C152 147 144 146 139 146C134 146 127 147 124 146C121 144 120 141 120 140Z"/></defs><use href="#q51" fill="#3a7a0c" y="1.6"/><use href="#q51" fill="url(#gG)"/><ellipse cx="137" cy="137.6" rx="12" ry="1.1" fill="#d4ffa8" opacity="0.5"/><defs><path id="q52" d="M83 141C83 140 82 139 85 138C88 137 97 137 103 137C109 137 120 137 123 138C127 139 124 141 124 142C124 143 125 144 122 144C118 145 109 144 103 144C97 144 88 145 84 144C81 144 82 142 83 141Z"/></defs><use href="#q52" fill="#3a7a0c" y="1.3"/><use href="#q52" fill="url(#gG)"/><ellipse cx="100.1" cy="139.3" rx="12.5" ry="0.6" fill="#d4ffa8" opacity="0.5"/><defs><path id="q53" d="M190 145C190 143 193 141 195 140C196 138 198 138 199 138C201 137 204 136 206 138C208 139 211 143 211 144C211 146 209 148 207 149C205 150 202 151 200 151C198 151 196 150 195 149C193 148 190 146 190 145Z"/></defs><use href="#q53" fill="#3a7a0c" y="1.6"/><use href="#q53" fill="url(#gG)"/><ellipse cx="199" cy="141.5" rx="6.3" ry="1.2" fill="#d4ffa8" opacity="0.5"/><defs><path id="q54" d="M217 137C217 136 218 134 219 134C220 133 223 132 224 133C226 133 227 133 228 134C229 134 229 136 229 137C229 138 230 140 229 141C228 142 225 141 224 141C222 141 221 141 219 141C218 140 217 138 217 137Z"/></defs><use href="#q54" fill="#3a7a0c" y="1.5"/><use href="#q54" fill="url(#gG)"/><ellipse cx="222.2" cy="135.1" rx="3.7" ry="0.8" fill="#d4ffa8" opacity="0.5"/><defs><path id="q55" d="M291 139C291 138 293 136 295 135C296 135 300 135 302 134C305 134 308 134 310 134C312 135 315 138 315 139C315 141 313 142 311 142C309 143 305 143 302 143C300 143 297 144 295 143C293 142 291 140 291 139Z"/></defs><use href="#q55" fill="#3a7a0c" y="1.6"/><use href="#q55" fill="url(#gG)"/><ellipse cx="301" cy="136.9" rx="7.1" ry="0.8" fill="#d4ffa8" opacity="0.5"/><defs><path id="q56" d="M67 146C66 144 67 140 71 139C75 137 84 138 89 138C95 138 102 139 105 140C108 141 108 144 108 145C108 147 108 149 104 150C101 151 93 151 88 151C83 151 77 150 73 149C69 148 67 148 67 146Z"/></defs><use href="#q56" fill="#00007a" y="1.6"/><use href="#q56" fill="url(#gB)"/><ellipse cx="84.2" cy="142" rx="12.5" ry="1.2" fill="#c4c4ff" opacity="0.6"/><defs><path id="q57" d="M131 148C130 145 134 141 139 140C145 138 154 140 162 141C170 141 183 141 188 143C194 145 197 148 197 151C197 153 193 154 187 156C181 157 171 158 163 158C155 159 145 159 140 157C135 156 131 151 131 148Z"/></defs><use href="#q57" fill="#00007a" y="1.6"/><use href="#q57" fill="url(#gB)"/><ellipse cx="158.5" cy="145.3" rx="20" ry="1.7" fill="#c4c4ff" opacity="0.6"/><defs><path id="q58" d="M214 145C215 143 216 140 219 139C223 137 231 138 236 138C241 138 246 137 249 138C252 139 256 141 256 143C256 145 252 149 248 150C245 151 240 150 235 150C230 150 222 150 219 149C215 148 214 147 214 145Z"/></defs><use href="#q58" fill="#00007a" y="1.6"/><use href="#q58" fill="url(#gB)"/><ellipse cx="232" cy="141.5" rx="12.5" ry="1.1" fill="#c4c4ff" opacity="0.6"/><defs><path id="q59" d="M271 143C271 141 273 140 276 139C279 138 285 137 289 136C293 136 297 136 300 137C303 138 305 141 305 142C305 144 303 147 300 147C296 148 291 148 286 148C282 148 276 149 273 148C271 147 270 144 271 143Z"/></defs><use href="#q59" fill="#00007a" y="1.6"/><use href="#q59" fill="url(#gB)"/><ellipse cx="285.1" cy="139.9" rx="10.2" ry="1" fill="#c4c4ff" opacity="0.6"/><defs><path id="q60" d="M51 147C51 146 52 144 53 143C54 143 56 143 58 143C59 143 61 143 62 144C63 145 63 145 63 147C63 148 63 151 62 152C61 153 59 153 57 152C56 152 55 152 54 151C53 150 51 148 51 147Z"/></defs><use href="#q60" fill="#3a7a0c" y="1.6"/><use href="#q60" fill="url(#gG)"/><ellipse cx="56.1" cy="145.8" rx="3.6" ry="0.9" fill="#d4ffa8" opacity="0.5"/><defs><path id="q61" d="M204 144C204 142 207 141 208 140C210 139 212 137 213 137C214 137 215 139 216 140C217 142 219 144 219 146C219 148 216 151 215 152C213 153 211 152 210 152C209 153 209 155 208 154C207 152 204 146 204 144Z"/></defs><use href="#q61" fill="#3a7a0c" y="1.6"/><use href="#q61" fill="url(#gG)"/><ellipse cx="210" cy="142.2" rx="4.6" ry="1.5" fill="#d4ffa8" opacity="0.5"/><defs><path id="q62" d="M234 144C234 143 236 140 238 139C240 138 245 139 248 138C252 138 256 138 258 139C260 140 261 143 260 145C260 147 258 150 256 151C254 152 251 152 248 152C246 151 241 150 239 149C236 147 234 146 234 144Z"/></defs><use href="#q62" fill="#3a7a0c" y="1.6"/><use href="#q62" fill="url(#gG)"/><ellipse cx="245" cy="142.4" rx="8" ry="1.2" fill="#d4ffa8" opacity="0.5"/><defs><path id="q63" d="M295 147C295 146 296 143 298 143C300 142 305 143 308 143C311 143 314 143 316 143C318 144 319 145 320 147C320 148 319 150 318 151C316 151 311 150 308 150C305 150 301 150 299 149C297 149 295 148 295 147Z"/></defs><use href="#q63" fill="#3a7a0c" y="1.4"/><use href="#q63" fill="url(#gG)"/><ellipse cx="305.4" cy="145.2" rx="7.3" ry="0.7" fill="#d4ffa8" opacity="0.5"/><defs><path id="q64" d="M138 151C139 151 139 149 141 148C143 147 148 148 151 148C154 148 156 148 158 148C160 149 161 149 161 151C161 152 160 154 158 154C156 155 152 154 149 154C146 154 142 154 141 153C139 153 138 152 138 151Z"/></defs><use href="#q64" fill="#3a7a0c" y="1.3"/><use href="#q64" fill="url(#gG)"/><ellipse cx="147.8" cy="149.9" rx="6.6" ry="0.6" fill="#d4ffa8" opacity="0.5"/><defs><path id="q65" d="M255 149C256 146 259 143 263 142C266 140 272 138 276 138C281 138 285 141 288 143C291 144 293 145 293 147C293 149 292 153 289 154C286 155 280 154 275 154C270 155 264 157 260 156C257 155 255 151 255 149Z"/></defs><use href="#q65" fill="#00007a" y="1.6"/><use href="#q65" fill="url(#gB)"/><ellipse cx="271.1" cy="143.6" rx="11.4" ry="1.6" fill="#c4c4ff" opacity="0.6"/><defs><path id="q66" d="M269 151C269 151 267 149 272 149C277 148 289 148 298 148C306 148 317 147 322 148C326 148 325 149 325 150C325 152 326 154 322 154C317 155 306 154 298 154C290 154 278 154 273 154C269 153 270 152 269 151Z"/></defs><use href="#q66" fill="#00007a" y="1.3"/><use href="#q66" fill="url(#gB)"/><ellipse cx="292.8" cy="149.5" rx="16.8" ry="0.6" fill="#c4c4ff" opacity="0.6"/><defs><path id="q67" d="M46 152C46 151 47 151 48 151C48 151 49 150 50 150C51 150 52 150 53 150C54 151 55 152 55 153C55 153 54 153 53 154C52 154 52 154 51 154C50 155 49 154 48 154C47 153 46 152 46 152Z"/></defs><use href="#q67" fill="#00007a" y="1"/><use href="#q67" fill="url(#gB)"/><defs><path id="q68" d="M42 158C42 157 42 154 47 153C53 151 66 150 76 150C85 150 99 152 105 153C110 154 111 156 111 157C111 159 111 162 105 163C99 164 85 164 76 163C67 163 54 163 48 162C43 161 42 160 42 158Z"/></defs><use href="#q68" fill="#3a7a0c" y="1.6"/><use href="#q68" fill="url(#gG)"/><ellipse cx="70.9" cy="154" rx="20.6" ry="1.2" fill="#d4ffa8" opacity="0.5"/><defs><path id="q69" d="M120 163C121 161 120 156 126 155C133 154 149 156 159 156C169 156 183 155 188 155C194 156 193 158 194 160C194 162 197 166 191 167C185 168 170 167 159 167C147 167 130 169 123 168C117 167 120 165 120 163Z"/></defs><use href="#q69" fill="#3a7a0c" y="1.6"/><use href="#q69" fill="url(#gG)"/><ellipse cx="151.2" cy="159.1" rx="22" ry="1.2" fill="#d4ffa8" opacity="0.5"/><defs><path id="q70" d="M283 159C284 157 283 155 287 153C291 152 300 152 306 152C312 151 321 152 324 153C328 154 328 156 327 158C327 160 328 162 324 162C320 163 311 163 305 163C299 163 290 163 286 163C283 162 283 160 283 159Z"/></defs><use href="#q70" fill="#3a7a0c" y="1.6"/><use href="#q70" fill="url(#gG)"/><ellipse cx="301.9" cy="154.9" rx="13.2" ry="1" fill="#d4ffa8" opacity="0.5"/><defs><path id="q71" d="M207 159C207 157 210 154 213 152C216 151 221 152 226 151C231 151 238 149 241 150C245 151 249 156 249 159C249 161 245 164 242 165C238 166 231 167 226 167C221 167 214 166 211 164C208 163 207 161 207 159Z"/></defs><use href="#q71" fill="#00007a" y="1.6"/><use href="#q71" fill="url(#gB)"/><ellipse cx="224.5" cy="155.1" rx="12.5" ry="1.6" fill="#c4c4ff" opacity="0.6"/><defs><path id="q72" d="M180 169C181 165 187 158 190 155C192 153 193 154 195 154C196 154 198 152 201 155C204 157 213 164 213 168C212 172 204 177 201 180C197 182 197 183 194 182C192 182 188 179 185 176C183 174 179 172 180 169Z"/></defs><use href="#q72" fill="#3a7a0c" y="1.6"/><use href="#q72" fill="url(#gG)"/><ellipse cx="193.8" cy="162.2" rx="9.7" ry="2.6" fill="#d4ffa8" opacity="0.5"/><defs><path id="q73" d="M211 160C216 157 228 158 236 158C244 158 256 157 261 158C266 159 267 162 265 165C263 168 254 172 250 175C246 178 246 183 240 185C234 187 220 188 215 186C210 184 208 179 207 175C206 171 206 163 211 160Z"/></defs><use href="#q73" fill="#3a7a0c" y="1.6"/><use href="#q73" fill="url(#gG)"/><ellipse cx="231.4" cy="166.4" rx="17.4" ry="2.5" fill="#d4ffa8" opacity="0.5"/><defs><path id="q74" d="M39 173C39 170 43 166 48 163C52 161 60 159 64 159C69 158 73 159 77 161C80 163 86 167 87 171C87 175 83 182 79 183C75 185 69 182 64 182C58 181 50 182 46 181C42 180 39 176 39 173Z"/></defs><use href="#q74" fill="#00007a" y="1.6"/><use href="#q74" fill="url(#gB)"/><ellipse cx="59.1" cy="166.2" rx="14.3" ry="2.2" fill="#c4c4ff" opacity="0.6"/><defs><path id="q75" d="M71 173C70 170 72 166 74 164C76 162 81 160 85 161C88 161 93 165 96 167C99 170 102 173 103 176C103 180 100 185 98 187C95 189 92 187 89 187C86 186 81 186 78 184C75 181 71 177 71 173Z"/></defs><use href="#q75" fill="#3a7a0c" y="1.6"/><use href="#q75" fill="url(#gG)"/><ellipse cx="84.1" cy="168.7" rx="9.5" ry="2.4" fill="#d4ffa8" opacity="0.5"/><defs><path id="q76" d="M99 171C99 167 100 164 102 162C104 159 106 155 109 155C112 155 119 158 121 160C124 162 122 165 122 169C121 172 119 178 118 181C116 184 116 184 113 184C110 185 103 185 100 183C98 181 99 175 99 171Z"/></defs><use href="#q76" fill="#00007a" y="1.6"/><use href="#q76" fill="url(#gB)"/><ellipse cx="108.5" cy="163.8" rx="6.8" ry="2.6" fill="#c4c4ff" opacity="0.6"/><defs><path id="q77" d="M120 175C120 172 124 169 129 167C134 165 143 163 151 163C159 163 172 165 177 167C182 169 180 172 180 175C180 178 181 185 175 186C170 188 156 184 149 184C141 183 133 185 128 184C124 183 120 178 120 175Z"/></defs><use href="#q77" fill="#00007a" y="1.6"/><use href="#q77" fill="url(#gB)"/><ellipse cx="145.2" cy="169.9" rx="18" ry="2.1" fill="#c4c4ff" opacity="0.6"/><defs><path id="q78" d="M198 171C198 170 198 167 199 166C200 165 203 166 204 166C205 166 206 165 206 166C207 166 209 169 209 171C209 172 207 175 206 176C205 177 205 176 204 176C202 176 199 175 199 174C198 173 198 172 198 171Z"/></defs><use href="#q78" fill="#00007a" y="1.6"/><use href="#q78" fill="url(#gB)"/><ellipse cx="202.6" cy="168.6" rx="3.2" ry="0.9" fill="#c4c4ff" opacity="0.6"/><defs><path id="q79" d="M233 177C233 173 238 165 244 163C251 160 263 163 270 163C278 163 285 160 290 162C294 165 299 173 299 177C298 182 292 185 287 187C282 188 275 187 268 188C261 188 252 191 246 189C240 187 234 182 233 177Z"/></defs><use href="#q79" fill="#00007a" y="1.6"/><use href="#q79" fill="url(#gB)"/><ellipse cx="260.8" cy="170.3" rx="19.5" ry="2.4" fill="#c4c4ff" opacity="0.6"/><defs><path id="q80" d="M273 173C273 169 275 159 279 157C284 154 294 155 301 156C307 156 313 158 318 161C323 164 329 170 330 173C331 177 329 180 324 182C320 184 312 185 304 185C297 185 285 184 279 182C274 180 273 177 273 173Z"/></defs><use href="#q80" fill="#00007a" y="1.6"/><use href="#q80" fill="url(#gB)"/><ellipse cx="296.9" cy="164.5" rx="17.2" ry="2.7" fill="#c4c4ff" opacity="0.6"/><defs><path id="q81" d="M204 170C204 169 205 167 206 166C208 165 209 164 210 164C211 163 211 164 212 165C212 166 213 168 213 169C213 171 212 174 211 175C211 176 210 175 209 174C208 174 207 175 206 174C205 174 204 171 204 170Z"/></defs><use href="#q81" fill="#00007a" y="1.6"/><use href="#q81" fill="url(#gB)"/></g></g><path d="M17 27L78 7.7H294.5L355 27ZM17 27L44 218H328.6L355 27" fill="none" stroke="#333" stroke-width="1.1" stroke-linejoin="round"/></g>
<g transform="translate(0 228.6)"><path d="M78.5 7.7H294.5L283.1 140H89.3Z" fill="url(#wallD)"/><path d="M89.3 140H283.1L328.6 218H44Z" fill="url(#floorD)"/><path clip-path="url(#floorclip)" d="M185.9 -88.9L194.5 -42.1M-544.6 179L-512.1 174.4M194.5 -42.1L-512.1 174.4M194.5 -42.1L108.3 129.2M108.3 129.2L15.2 157M-512.1 174.4L-60.3 165.1M15.2 157L-52.8 164.6M-60.3 165.1L-52.8 164.6M15.2 157L50 155.2M108.3 129.2L111.2 136.6M50 155.2L111.2 136.6M50 155.2L50.4 155.2M50.4 155.2L101 147.9M101 147.9L111.9 143M111.2 136.6L114 139.2M114 139.2L111.9 143M-544.6 179L-526 223.3M186.6 447.2L-53.4 396M-526 223.3L-399.9 295.4M-399.9 295.4L-203.1 357.1M-53.4 396L-203.1 357.1M-526 223.3L47.6 199.6M-399.9 295.4L41.4 215.8M47.6 199.6L57.8 204.7M41.4 215.8L57.8 204.7M111.9 143L123.8 153.4M101 147.9L101.2 152.6M123.8 153.4L101.2 152.6M147.7 135.5L161.4 139.2M147.7 135.5L137.3 140.1M161.4 139.2L150.1 143.7M150.1 143.7L139.2 142.2M137.3 140.1L139.2 142.2M185.9 -62L192 108.5M185.9 -62L147.7 135.5M192 108.5L162.5 139.3M162.5 139.3L161.4 139.2M185.9 -88.9L185.6 -88.4M185.6 -88.4L185.9 -62M114 139.2L137.3 140.1M170.2 143.1L158.3 148.3M158.3 148.3L150.1 143.7M162.5 139.3L170.2 143.1M158.3 148.3L153.8 153M135.7 156L153.8 153M135.7 156L139.2 142.2M135.7 156L131.9 157.4M123.8 153.4L131.9 157.4M186.6 447.2L196.6 445M196.6 445L404.3 400.5M404.3 400.5L916.3 225M923 179L916.3 225M76.7 205L58.9 204.9M76.7 205L79 206.8M58.9 204.9L66.5 211.1M79 206.8L66.5 211.1M41.4 215.8L65.6 212.9M57.8 204.7L58.9 204.9M65.6 212.9L66.5 211.1M-52.8 164.6L89.1 171.4M54 155.6L88.2 160.4M93 164.1L88.2 160.4M50.4 155.2L54 155.6M93 164.1L93.1 170.5M93.1 170.5L89.1 171.4M193.8 134.8L200.3 151.6M193.8 134.8L175 143.1M175 143.1L185.7 151.7M200.3 151.6L185.7 151.7M174.1 156.1L153.8 153M170.2 143.1L175 143.1M174.1 156.1L185.7 151.7M94.2 158.7L97.1 154M94.2 158.7L104.2 157.2M104.2 157.2L100.7 153M97.1 154L100.7 153M54 155.6L97.1 154M88.2 160.4L94.2 158.7M93 164.1L118.1 158.1M118.1 158.1L104.2 157.2M118.1 158.1L131.8 157.5M131.8 157.5L131.9 157.4M101.2 152.6L100.7 153M69.8 213.4L82 213.2M69.8 213.4L64.2 236.7M82 213.2L95.2 219M64.2 236.7L96 220M96 220L95.2 219M79 206.8L83 207.7M83 207.7L85.9 210.7M85.9 210.7L82 213.2M65.6 212.9L69.8 213.4M-203.1 357.1L64.2 236.7M85.9 210.7L98.1 209.4M102.2 212.7L98.1 209.4M102.2 212.7L95.2 219M129.8 222L124.6 216.9M124.6 216.9L96 220M-53.4 396L129.8 222M128.4 215.5L136.5 207M102.2 212.7L136.5 207M124.6 216.9L128.4 215.5M76.7 205L91.5 198.6M83 207.7L94.3 205.5M91.5 198.6L94.3 205.5M98.1 209.4L102.7 207.3M94.3 205.5L102.7 207.3M106.3 168.8L93.6 170.5M93.1 170.5L93.6 170.5M131.8 157.5L132.1 160.1M106.3 168.8L130.4 163M130.4 163L132.1 160.1M209.4 139.2L241.5 143.7M209.4 139.2L196.3 132.2M196.7 126.1L196.3 132.2M196.7 126.1L242.3 142.4M242.3 142.4L241.5 143.7M204.8 152.4L215.9 150.6M215.9 150.6L209.4 139.2M200.3 151.6L204.8 152.4M193.8 134.8L196.3 132.2M192 108.5L196.7 126.1M185.6 -88.4L222 6.7M752.2 153.1L889.3 174.4M912.5 177.6L889.3 174.4M923 179L912.5 177.6M752.2 153.1L413.1 81.5M222 6.7L413.1 81.5M215.9 150.6L232.9 150.6M232.9 150.6L240.5 149.1M241.5 143.7L241.2 148.6M240.5 149.1L241.2 148.6M134.8 167.7L130.4 163M106.3 168.8L117.1 174.6M134.8 167.7L124.3 172.2M124.3 172.2L117.1 174.6M174.1 156.1L174.9 159.4M204.8 152.4L205.8 160.2M174.9 159.4L188.6 160.4M188.6 160.4L205.8 160.2M228.4 166.6L232.9 150.6M228.4 166.6L206.4 160.8M205.8 160.2L206.4 160.8M181.5 167.9L173.9 161.1M181.5 167.9L163.2 171M163.2 171L158.7 169.3M158.7 169.3L162.1 163.4M162.1 163.4L173.9 161.1M135.6 168L158.7 169.3M134.8 167.7L135.6 168M132.1 160.1L162.1 163.4M174.9 159.4L173.9 161.1M254.2 220.3L277 212.1M254.2 220.3L217.7 213.5M231.5 205.8L277 212.1M231.5 205.8L217.5 212.6M217.7 213.5L217.5 212.6M281.5 176.8L288.1 178.8M288.1 178.8L269.7 192.3M235.3 183.4L239.1 178M239.1 178L281.5 176.8M235.3 183.4L267.9 192.1M267.9 192.1L269.7 192.3M281.1 151.7L249.6 137.3M281.1 151.7L282.8 149.7M282.8 149.7L257.9 128.5M249.6 137.3L257.9 128.5M241.2 148.6L280.6 152.7M280.6 152.7L281.1 151.7M242.3 142.4L249.6 137.3M413.1 81.5L282.8 149.7M222 6.7L257.9 128.5M234.1 170.1L228.4 166.6M235.4 170.6L234.1 170.1M235.4 170.6L254.9 165.6M240.5 149.1L256.9 161.2M254.9 165.6L256.9 161.2M150.4 175L162.2 173.8M150.4 175L158.8 184.5M162.2 173.8L170.7 179.8M158.8 184.5L170.7 179.8M139.2 175.3L135.6 168M139.2 175.3L150.4 175M163.2 171L162.2 173.8M235.4 170.6L239.1 178M197.9 171L203.9 179.8M234.1 170.1L197.9 171M235.3 183.4L226.1 184.9M203.9 179.8L226.1 184.9M239.9 202.2L267.9 192.1M233.2 203L239.9 202.2M233.2 203L210.9 192.1M226.1 184.9L210.9 192.1M190.6 204.8L217.5 212.6M233.2 203L231.5 205.8M193.8 194.3L198.3 193.4M193.8 194.3L190.6 204.8M210.9 192.1L198.3 193.4M203.9 179.8L185.1 179.5M198.3 193.4L180 179.9M180 179.9L185.1 179.5M205.2 161.4L190.9 164.6M205.2 161.4L197.4 170.9M190.9 164.6L181.6 167.9M197.4 170.9L194.1 170.7M194.1 170.7L184.7 169.2M181.6 167.9L184.7 169.2M188.6 160.4L190.9 164.6M206.4 160.8L205.2 161.4M197.9 171L197.4 170.9M181.5 167.9L181.6 167.9M185.1 179.5L194.1 170.7M174.7 179.5L180 179.9M174.7 179.5L184.7 169.2M170.7 179.8L174.7 179.5M404.3 400.5L338.9 306M254.2 220.3L338.9 306M196.6 445L184.2 274.6M217.7 213.5L217.6 213.5M184.2 274.6L217.6 213.5M311.6 180.3L288.1 178.8M311.6 180.3L316 181.3M269.7 192.3L272.6 193.1M272.6 193.1L316 181.3M311.6 180.3L305.1 173.4M331.3 160.8L305.1 173.4M889.3 174.4L327 183.2M752.2 153.1L331.3 160.8M327 183.2L316 181.3M325.6 244.6L282.4 212.5M338.9 306L325.6 244.6M277 212.1L277.8 211.9M282.4 212.5L277.8 211.9M305.1 173.4L300.4 170.1M331.3 160.8L302.8 160.6M300.4 170.1L302.8 160.6M286.1 157.3L275.5 159M286.1 157.3L289.6 158.5M275.5 159L272.1 168.7M289.6 158.5L280 168.9M280 168.9L277 169.8M277 169.8L272.1 168.7M280.6 152.7L286.1 157.3M256.9 161.2L275.5 159M302.8 160.6L289.6 158.5M254.9 165.6L272.1 168.7M300.4 170.1L280 168.9M281.5 176.8L277 169.8M93.6 170.5L110.1 178.9M117.1 174.6L112.5 179M110.1 178.9L112.5 179M89.1 171.4L76.2 185.4M110.1 178.9L76.2 185.4M-60.3 165.1L75.4 185.8M47.6 199.6L78.7 191.3M78.7 191.3L75.4 185.8M75.4 185.8L76.2 185.4M102.7 207.3L127.4 204.3M136.5 207L137.7 206.2M127.4 204.3L137.7 206.2M112.5 179L119.9 181.1M124.3 172.2L125.1 179.4M125.1 179.4L119.9 181.1M139.2 175.3L138.9 175.6M125.1 179.4L138.9 175.6M190.6 204.8L173.9 207M173.9 207L175.7 211.5M217.6 213.5L205.8 215.2M175.7 211.5L205.8 215.2M275.3 206L279.9 195.5M275.3 206L276.6 207.8M276.6 207.8L318 203.5M279.9 195.5L307.5 197.3M307.5 197.3L317 201.2M317 201.2L318 203.5M239.9 202.2L275.3 206M272.6 193.1L279.9 195.5M277.8 211.9L276.6 207.8M327 183.2L307.5 197.3M912.5 177.6L423.7 198.6M423.7 198.6L317 201.2M302.2 213.3L320.1 206.1M302.2 213.3L325.5 221.2M325.5 221.2L346.9 214.9M346.9 214.9L328.2 208.2M328.2 208.2L320.1 206.1M318 203.5L320.1 206.1M282.4 212.5L302.2 213.3M325.6 244.6L325.5 221.2M916.3 225L346.9 214.9M423.7 198.6L328.2 208.2M119.9 181.1L120.7 182.9M120.7 182.9L103.4 189.7M78.7 191.3L82.5 191.9M82.5 191.9L103.4 189.7M91.5 198.6L91.6 198.4M82.5 191.9L91.6 198.4M138.9 175.6L153.5 185.3M120.7 182.9L140.3 187.3M140.3 187.3L153.5 185.3M193.8 194.3L173.9 193.3M158.8 184.5L157.3 185.2M173.9 193.3L157.3 185.2M173.9 207L142.9 205.4M142.9 205.4L151 200.1M173.9 193.3L151 200.1M157.3 185.2L153.5 185.3M164.3 217.1L170.4 217.4M164.3 217.1L151.6 219.5M170.4 217.4L181.3 220.1M181.3 220.1L176.2 247.6M151.6 219.5L149.4 222.4M149.4 222.4L176.2 247.6M142.9 205.4L140.4 206M140.4 206L164.3 217.1M175.7 211.5L170.4 217.4M128.4 215.5L151.6 219.5M137.7 206.2L140.4 206M205.8 215.2L181.3 220.1M184.2 274.6L176.2 247.6M129.8 222L149.4 222.4M120 192.8L118.2 200.5M120 192.8L137.3 189.6M137.3 189.6L138.2 191.2M138.2 191.2L121.6 201.6M121.6 201.6L118.2 200.5M103.4 189.7L120 192.8M91.6 198.4L118.2 200.5M140.3 187.3L137.3 189.6M151 200.1L138.2 191.2M127.4 204.3L121.6 201.6" stroke="#555" stroke-width="0.9" fill="none" opacity="0.8"/><path d="M58.2 218l0.3 -3.2M72.5 218l0.3 -3.2M86.7 218l0.3 -3.2M100.9 218l0.4 -5M115.2 218l0.2 -3.2M129.4 218l0.2 -3.2M143.6 218l0.1 -3.2M157.8 218l0.1 -5M172.1 218l0 -3.2M186.3 218l-0 -3.2M200.5 218l-0 -3.2M214.8 218l-0.1 -5M229 218l-0.1 -3.2M243.2 218l-0.2 -3.2M257.5 218l-0.2 -3.2M271.7 218l-0.4 -5M285.9 218l-0.3 -3.2M300.1 218l-0.3 -3.2M314.4 218l-0.3 -3.2" stroke="#555" stroke-width="0.8"/><g filter="url(#soft3)"><clipPath id="d_top"><path d="M79.5 29.2L291.5 29.6L305.4 37.1L319.4 45.8L329.8 56.2L347.2 61.4L348 70L347.2 87.6L344 101.4L27.2 101.4L24.6 87.6L23.7 69L23.7 59.7L32.4 56.2L49.8 47.4L60.3 40.4L70.7 33.4Z"/></clipPath><g clip-path="url(#d_top)"><path d="M79.5 29.2L291.5 29.6L305.4 37.1L319.4 45.8L329.8 56.2L347.2 61.4L348 70L347.2 87.6L344 101.4L27.2 101.4L24.6 87.6L23.7 69L23.7 59.7L32.4 56.2L49.8 47.4L60.3 40.4L70.7 33.4Z" fill="#8cf232"/><path d="M218.1 57q13.2 -0.8 26.3 3.6M254.4 63.3q6.3 -1.4 12.5 0.3M317.4 53.7q14.1 -1.9 28.2 -2.2M170.4 39.6q10.9 -1.3 21.8 1M29.1 38.6q8.5 -0.8 17 3.4M262.4 36.6q13.2 -1.9 26.3 -2M216.4 35.4q6 -0.9 12 3.1M89.9 38.5q14.8 -0.9 29.7 3.1M114.7 64.7q10.9 -1.2 21.7 1.7M88.5 63.9q12.2 -0.7 24.4 3.8M302.1 41.5q9.3 -1.9 18.5 -1.8M70.2 33.3q8.7 -1.3 17.4 1.2M26 54.7q9 -1.7 18.1 -0.8M278.7 47.8q8.8 -1.4 17.7 0.4M243.4 33q14.8 -2.1 29.6 -2.8M257.4 60.6q6.2 -1 12.3 2.5M138.5 51.2q6.1 -2 12.2 -2.7M81.1 64.4q7.8 -1 15.5 2.3M313.2 64q9.1 -1.6 18.2 -0.5M187.7 58.1q7 -1.1 13.9 2.2M272.1 61.1q6.3 -0.8 12.7 3.6M53.3 42.9q11.5 -0.8 23 3.4M130.4 63.3q10.9 -1.7 21.8 -0.8M123.2 37.2q6.7 -1.9 13.4 -2M238.6 65.9q7.5 -2 14.9 -2.7M330.9 49.7q9.7 -1.8 19.3 -1.3M209.1 59.9q10.1 -1.5 20.2 -0M42.3 63.1q6.3 -1.4 12.6 0.5M284.9 35.6q12.6 -0.8 25.2 3.6M220.4 58.6q7 -1.5 13.9 0M71.3 60.6q8.7 -1.5 17.3 0.2M334.8 60.8q14.8 -1.5 29.6 0.2M176.3 56.5q10.3 -1.7 20.6 -1M150.2 36.1q9.4 -0.7 18.8 3.9M322.5 52.9q10.5 -1.6 21 -0.6M52.6 40.5q13 -0.9 26.1 3.1M137 58.5q13 -1.1 25.9 1.9M230.8 57.6q9.3 -1.1 18.5 1.9M112.1 48q12.9 -1.1 25.9 1.8M116.1 64.1q11.8 -1.3 23.7 1.1M28.6 50.1q8.3 -1.2 16.5 1.7M168.5 59.6q11.8 -1 23.7 2.6M132.8 53.5q12.6 -0.9 25.3 2.8M133.5 60.5q13.8 -1.1 27.7 1.8M327.6 64.5q10.7 -1.4 21.3 0.7" stroke="#3a7a10" stroke-width="1" fill="none" opacity="0.65"/><ellipse cx="81.5" cy="61.1" rx="43.1" ry="1" fill="#4e9a1c" opacity="0.45"/><ellipse cx="244.3" cy="55.4" rx="36.9" ry="1.1" fill="#c0ff88" opacity="0.45"/><ellipse cx="271.9" cy="50.4" rx="35" ry="1.3" fill="#c0ff88" opacity="0.45"/><ellipse cx="223.4" cy="57.4" rx="34.1" ry="1.7" fill="#c0ff88" opacity="0.45"/><ellipse cx="38.6" cy="36.8" rx="28.2" ry="1.2" fill="#4e9a1c" opacity="0.45"/><ellipse cx="97.9" cy="54.2" rx="33.9" ry="0.9" fill="#c0ff88" opacity="0.45"/><ellipse cx="176.2" cy="37.6" rx="16.6" ry="1" fill="#c0ff88" opacity="0.45"/><ellipse cx="128.4" cy="36" rx="20.8" ry="0.9" fill="#c0ff88" opacity="0.45"/><ellipse cx="174.3" cy="44.7" rx="33.4" ry="1.1" fill="#4e9a1c" opacity="0.45"/><ellipse cx="103.7" cy="62" rx="15" ry="1.3" fill="#c0ff88" opacity="0.45"/><ellipse cx="116.3" cy="44.3" rx="18.5" ry="1.8" fill="#c0ff88" opacity="0.45"/><ellipse cx="145.9" cy="30.8" rx="33.4" ry="1" fill="#c0ff88" opacity="0.45"/><ellipse cx="199" cy="43.2" rx="32.4" ry="1.4" fill="#4e9a1c" opacity="0.45"/><ellipse cx="283.7" cy="44.6" rx="39.4" ry="1.6" fill="#c0ff88" opacity="0.45"/><ellipse cx="144.5" cy="34.6" rx="32.9" ry="1.5" fill="#c0ff88" opacity="0.45"/><ellipse cx="326.7" cy="64.3" rx="33.3" ry="1.3" fill="#c0ff88" opacity="0.45"/><ellipse cx="307" cy="31" rx="18.2" ry="1.1" fill="#4e9a1c" opacity="0.45"/><ellipse cx="220.7" cy="34.6" rx="33.9" ry="1.9" fill="#c0ff88" opacity="0.45"/><ellipse cx="146.5" cy="45" rx="21.8" ry="1.2" fill="#c0ff88" opacity="0.45"/><ellipse cx="331.5" cy="43.2" rx="43.8" ry="1.9" fill="#c0ff88" opacity="0.45"/><ellipse cx="214.7" cy="40.4" rx="44.4" ry="1" fill="#4e9a1c" opacity="0.45"/><ellipse cx="158.8" cy="41" rx="44.5" ry="1.4" fill="#c0ff88" opacity="0.45"/><ellipse cx="118.8" cy="46.7" rx="18.7" ry="1.6" fill="#c0ff88" opacity="0.45"/><ellipse cx="167.5" cy="40.1" rx="38.5" ry="1.8" fill="#c0ff88" opacity="0.45"/><ellipse cx="34.1" cy="50.2" rx="23.2" ry="1.4" fill="#4e9a1c" opacity="0.45"/><ellipse cx="272.4" cy="38.3" rx="23" ry="1.1" fill="#c0ff88" opacity="0.45"/><ellipse cx="336.5" cy="40.1" rx="33.2" ry="1.4" fill="#c0ff88" opacity="0.45"/><ellipse cx="229.9" cy="51.2" rx="37.3" ry="1" fill="#c0ff88" opacity="0.45"/><ellipse cx="265.7" cy="41.8" rx="31" ry="0.9" fill="#4e9a1c" opacity="0.45"/><ellipse cx="122" cy="48.6" rx="28.9" ry="1.3" fill="#c0ff88" opacity="0.45"/><ellipse cx="261" cy="50.8" rx="16.1" ry="1.2" fill="#c0ff88" opacity="0.45"/><ellipse cx="171.2" cy="62.5" rx="41.6" ry="1.5" fill="#c0ff88" opacity="0.45"/><ellipse cx="34.5" cy="59" rx="27.8" ry="1.1" fill="#4e9a1c" opacity="0.45"/><ellipse cx="249.5" cy="52.3" rx="29.5" ry="1.9" fill="#c0ff88" opacity="0.45"/><ellipse cx="149.5" cy="43.6" rx="40.6" ry="1.1" fill="#c0ff88" opacity="0.45"/><ellipse cx="121.9" cy="59.4" rx="17" ry="1.8" fill="#c0ff88" opacity="0.45"/><ellipse cx="245.3" cy="46.6" rx="23.6" ry="1.3" fill="#4e9a1c" opacity="0.45"/><ellipse cx="312.3" cy="34.6" rx="29.4" ry="1.5" fill="#c0ff88" opacity="0.45"/><ellipse cx="184.3" cy="41.4" rx="19.6" ry="1.5" fill="#c0ff88" opacity="0.45"/><ellipse cx="281.7" cy="32" rx="21.9" ry="1.8" fill="#c0ff88" opacity="0.45"/><ellipse cx="275.4" cy="54.9" rx="15.8" ry="1.2" fill="#4e9a1c" opacity="0.45"/><ellipse cx="333.4" cy="65.4" rx="36" ry="0.9" fill="#c0ff88" opacity="0.45"/><ellipse cx="291" cy="37.4" rx="34.4" ry="1.9" fill="#c0ff88" opacity="0.45"/><ellipse cx="250.9" cy="34.3" rx="23.8" ry="1.9" fill="#c0ff88" opacity="0.45"/><ellipse cx="76.4" cy="53" rx="27.4" ry="0.8" fill="#4e9a1c" opacity="0.45"/><ellipse cx="222.9" cy="31.1" rx="18.2" ry="1.3" fill="#c0ff88" opacity="0.45"/><ellipse cx="52.3" cy="31.6" rx="32.3" ry="1.7" fill="#c0ff88" opacity="0.45"/><ellipse cx="302.3" cy="34.3" rx="28" ry="1.2" fill="#c0ff88" opacity="0.45"/><ellipse cx="216.1" cy="48.6" rx="43.2" ry="0.9" fill="#4e9a1c" opacity="0.45"/><ellipse cx="47.3" cy="54.6" rx="19.5" ry="1.6" fill="#c0ff88" opacity="0.45"/><ellipse cx="186.8" cy="62.3" rx="31.6" ry="1.6" fill="#c0ff88" opacity="0.45"/><ellipse cx="111.6" cy="49.4" rx="22.6" ry="1.7" fill="#c0ff88" opacity="0.45"/><ellipse cx="190.3" cy="35.8" rx="22" ry="0.9" fill="#4e9a1c" opacity="0.45"/><ellipse cx="258.4" cy="36" rx="36.4" ry="1.6" fill="#c0ff88" opacity="0.45"/><ellipse cx="56.4" cy="53.5" rx="17.7" ry="1" fill="#c0ff88" opacity="0.45"/><ellipse cx="214.1" cy="38.1" rx="41.3" ry="1.4" fill="#c0ff88" opacity="0.45"/><ellipse cx="130.2" cy="59.7" rx="15.9" ry="1.2" fill="#4e9a1c" opacity="0.45"/><ellipse cx="46.6" cy="34.9" rx="43.6" ry="1.6" fill="#c0ff88" opacity="0.45"/><ellipse cx="99.2" cy="33.7" rx="44.2" ry="1.6" fill="#c0ff88" opacity="0.45"/><ellipse cx="284.4" cy="34.5" rx="33.7" ry="1.3" fill="#c0ff88" opacity="0.45"/><ellipse cx="102.9" cy="43" rx="33.4" ry="0.9" fill="#4e9a1c" opacity="0.45"/><ellipse cx="149.6" cy="34.4" rx="39.9" ry="1.6" fill="#c0ff88" opacity="0.45"/><ellipse cx="279.4" cy="45.1" rx="40.5" ry="1.4" fill="#c0ff88" opacity="0.45"/><ellipse cx="213.7" cy="50.1" rx="37.2" ry="1.3" fill="#c0ff88" opacity="0.45"/><ellipse cx="60.1" cy="32.2" rx="21.1" ry="0.7" fill="#4e9a1c" opacity="0.45"/><ellipse cx="305.7" cy="46.8" rx="37.8" ry="0.9" fill="#c0ff88" opacity="0.45"/><ellipse cx="175.8" cy="61.5" rx="33.6" ry="1.4" fill="#c0ff88" opacity="0.45"/><ellipse cx="174.3" cy="33.1" rx="19.6" ry="1.1" fill="#c0ff88" opacity="0.45"/><ellipse cx="146.1" cy="44.9" rx="41.4" ry="0.8" fill="#4e9a1c" opacity="0.45"/><ellipse cx="108.8" cy="39.5" rx="19.8" ry="1.2" fill="#c0ff88" opacity="0.45"/><ellipse cx="70" cy="61" rx="45" ry="3" fill="#d8f040" opacity="0.8"/><ellipse cx="125" cy="61" rx="32" ry="3" fill="#e8f040" opacity="0.9"/><ellipse cx="113" cy="60.5" rx="8" ry="1.6" fill="#f08020"/><ellipse cx="300" cy="63" rx="30" ry="2.5" fill="#d0f040" opacity="0.6"/><ellipse cx="343" cy="61" rx="6" ry="3" fill="#e8f040"/><rect x="20" y="67" width="330" height="4.5" rx="2" fill="#3d7a18"/><rect x="20" y="70.2" width="330" height="17.4" rx="3" fill="#1a1ae0"/><rect x="20" y="73" width="330" height="12" rx="2" fill="#2020d8"/><rect x="20" y="75.4" width="330" height="6.2" rx="2" fill="#8416c8"/><rect x="20" y="77" width="330" height="3" rx="1" fill="#520a88"/><rect x="20" y="70.2" width="330" height="2.3" rx="1" fill="#4040ff" opacity="0.7"/><rect x="20" y="86.7" width="330" height="14.7" rx="3" fill="#8eec3e"/><rect x="20" y="86.7" width="330" height="2.3" rx="1" fill="#3d7a18" opacity="0.6"/><ellipse cx="85" cy="96.5" rx="30" ry="1.8" fill="#e8f040" opacity="0.9"/><ellipse cx="150" cy="95" rx="40" ry="1.5" fill="#d0f040" opacity="0.6"/><ellipse cx="324.6" cy="94" rx="8" ry="1.8" fill="#f0a020"/><ellipse cx="260" cy="96" rx="40" ry="1.5" fill="#d0f040" opacity="0.5"/><ellipse cx="102.9" cy="93.8" rx="10.6" ry="1" fill="#4e9a1c" opacity="0.5"/><ellipse cx="316.6" cy="92.7" rx="28.8" ry="1" fill="#4e9a1c" opacity="0.5"/><ellipse cx="243.2" cy="95.7" rx="19.4" ry="1" fill="#4e9a1c" opacity="0.5"/><ellipse cx="323.1" cy="90.2" rx="23.4" ry="1" fill="#4e9a1c" opacity="0.5"/><ellipse cx="120.2" cy="95.7" rx="24.6" ry="1" fill="#4e9a1c" opacity="0.5"/><ellipse cx="80.6" cy="91" rx="10.5" ry="1" fill="#4e9a1c" opacity="0.5"/><ellipse cx="101.4" cy="89.8" rx="18" ry="1" fill="#4e9a1c" opacity="0.5"/><ellipse cx="331.8" cy="92.6" rx="16.2" ry="1" fill="#4e9a1c" opacity="0.5"/><ellipse cx="175.1" cy="91.8" rx="24.6" ry="1" fill="#4e9a1c" opacity="0.5"/><ellipse cx="252.6" cy="90.6" rx="14.8" ry="1" fill="#4e9a1c" opacity="0.5"/><ellipse cx="238.4" cy="98.4" rx="22.9" ry="1" fill="#4e9a1c" opacity="0.5"/><ellipse cx="163.5" cy="98.8" rx="10.1" ry="1" fill="#4e9a1c" opacity="0.5"/><ellipse cx="48.9" cy="96.8" rx="18.2" ry="1" fill="#4e9a1c" opacity="0.5"/><ellipse cx="43.9" cy="94.5" rx="29.8" ry="1" fill="#4e9a1c" opacity="0.5"/><ellipse cx="190.9" cy="92.5" rx="11.9" ry="1" fill="#4e9a1c" opacity="0.5"/><ellipse cx="52.1" cy="98" rx="19.8" ry="1" fill="#4e9a1c" opacity="0.5"/><rect x="20" y="99.5" width="330" height="1.9" rx="1" fill="#4a9018" opacity="0.8"/></g><clipPath id="d_bot"><path d="M77.7 101.4L287 98L293.7 104.4L298.6 111.1L305.2 117.7L311.8 124.4L318.4 134.2L325 140.8L331.5 152.4L333.2 163.8L333.2 181.9L330 193.4L40 193.4L37.4 181.9L37.4 167.1L39.9 152.4L46.5 140.8L53 134.2L61.3 126L67.9 117.7Z"/></clipPath><g clip-path="url(#d_bot)"><path d="M77.7 101.4L287 98L293.7 104.4L298.6 111.1L305.2 117.7L311.8 124.4L318.4 134.2L325 140.8L331.5 152.4L333.2 163.8L333.2 181.9L330 193.4L40 193.4L37.4 181.9L37.4 167.1L39.9 152.4L46.5 140.8L53 134.2L61.3 126L67.9 117.7Z" fill="#0c0ca8"/><defs><path id="q82" d="M30 101C30 100 28 99 33 98C38 98 51 98 60 98C69 98 82 98 87 99C92 99 90 100 90 101C90 102 92 104 87 104C82 105 69 104 60 104C51 104 38 105 33 104C28 104 30 102 30 101Z"/></defs><use href="#q82" fill="#00007a" y="1.3"/><use href="#q82" fill="url(#gB)"/><ellipse cx="55.1" cy="99.8" rx="21.9" ry="0.9" fill="#c4c4ff" opacity="0.9"/><defs><path id="q83" d="M82 101C82 100 77 99 84 99C91 98 111 98 125 98C138 98 158 98 165 99C172 99 167 101 167 102C167 103 172 103 165 104C158 104 138 105 125 105C111 105 92 105 85 104C77 104 82 102 82 101Z"/></defs><use href="#q83" fill="#00007a" y="1.3"/><use href="#q83" fill="url(#gB)"/><ellipse cx="117.6" cy="99.6" rx="31.5" ry="1" fill="#c4c4ff" opacity="0.9"/><defs><path id="q84" d="M154 101C154 100 152 99 157 98C162 98 176 98 185 98C195 98 209 98 214 98C219 99 217 101 217 102C217 102 219 103 214 104C209 104 195 105 186 105C176 105 162 105 157 104C151 104 153 102 154 101Z"/></defs><use href="#q84" fill="#00007a" y="1.3"/><use href="#q84" fill="url(#gB)"/><ellipse cx="180.2" cy="100" rx="23.3" ry="0.9" fill="#c4c4ff" opacity="0.9"/><defs><path id="q85" d="M209 101C209 100 208 99 212 99C216 98 225 98 231 98C238 98 247 98 250 98C254 99 254 100 254 101C254 102 255 104 251 104C247 105 237 105 231 105C224 105 215 105 211 104C208 103 209 102 209 101Z"/></defs><use href="#q85" fill="#00007a" y="1.4"/><use href="#q85" fill="url(#gB)"/><ellipse cx="227.9" cy="99.8" rx="16.5" ry="1" fill="#c4c4ff" opacity="0.9"/><defs><path id="q86" d="M247 101C247 100 244 99 250 99C255 98 271 98 282 98C292 98 308 98 314 98C320 99 317 100 317 101C317 102 319 104 314 104C308 105 292 105 282 105C271 105 255 104 249 104C244 103 247 102 247 101Z"/></defs><use href="#q86" fill="#00007a" y="1.3"/><use href="#q86" fill="url(#gB)"/><ellipse cx="276.1" cy="99.8" rx="25.8" ry="1" fill="#c4c4ff" opacity="0.9"/><defs><path id="q87" d="M310 102C310 101 310 99 313 98C317 98 325 97 330 97C336 97 344 98 348 98C351 99 351 100 351 101C351 102 352 104 348 104C345 105 336 105 330 105C325 104 317 104 314 104C310 103 310 103 310 102Z"/></defs><use href="#q87" fill="#00007a" y="1.4"/><use href="#q87" fill="url(#gB)"/><ellipse cx="327.4" cy="99.5" rx="14.9" ry="1" fill="#c4c4ff" opacity="0.9"/><defs><path id="q88" d="M30 107C30 106 29 104 33 104C36 103 45 103 51 103C56 104 64 104 67 104C70 105 70 106 70 107C70 108 71 109 67 110C64 111 56 111 50 111C44 111 36 111 33 110C29 110 30 108 30 107Z"/></defs><use href="#q88" fill="#00007a" y="1.4"/><use href="#q88" fill="url(#gB)"/><ellipse cx="46.7" cy="105.8" rx="14.5" ry="1" fill="#c4c4ff" opacity="0.9"/><defs><path id="q89" d="M66 107C66 106 63 104 69 104C75 103 92 104 103 104C114 104 131 103 137 104C143 104 140 106 140 107C140 108 143 109 137 110C131 111 114 111 103 111C92 111 75 110 69 110C63 109 66 108 66 107Z"/></defs><use href="#q89" fill="#00007a" y="1.4"/><use href="#q89" fill="url(#gB)"/><ellipse cx="97.1" cy="105.7" rx="27.1" ry="1" fill="#c4c4ff" opacity="0.9"/><defs><path id="q90" d="M122 107C122 106 117 105 125 104C132 103 152 104 166 104C180 104 201 104 208 104C216 105 211 106 211 107C211 108 215 110 208 110C201 111 181 110 167 110C153 110 132 111 124 111C117 110 122 108 122 107Z"/></defs><use href="#q90" fill="#00007a" y="1.3"/><use href="#q90" fill="url(#gB)"/><ellipse cx="159" cy="105.7" rx="32.8" ry="0.9" fill="#c4c4ff" opacity="0.9"/><defs><path id="q91" d="M206 107C206 106 203 104 209 104C215 103 231 103 241 103C252 103 268 103 274 104C280 104 276 106 276 107C276 108 280 109 274 110C268 110 252 110 241 110C230 110 215 111 209 110C203 109 206 108 206 107Z"/></defs><use href="#q91" fill="#00007a" y="1.3"/><use href="#q91" fill="url(#gB)"/><ellipse cx="235.7" cy="105.5" rx="25.8" ry="0.9" fill="#c4c4ff" opacity="0.9"/><defs><path id="q92" d="M268 107C268 106 267 104 271 104C275 103 284 103 290 103C296 103 305 103 308 104C312 105 311 106 311 107C311 108 312 109 309 110C305 111 296 110 290 110C284 110 275 111 271 110C267 110 268 108 268 107Z"/></defs><use href="#q92" fill="#00007a" y="1.4"/><use href="#q92" fill="url(#gB)"/><ellipse cx="286" cy="105.1" rx="15.9" ry="1" fill="#c4c4ff" opacity="0.9"/><defs><path id="q93" d="M301 107C301 106 299 104 304 104C309 103 323 103 332 103C342 103 357 103 362 104C368 104 365 106 364 107C364 108 367 109 361 110C356 111 342 111 333 111C323 111 309 111 304 110C298 109 301 108 301 107Z"/></defs><use href="#q93" fill="#00007a" y="1.4"/><use href="#q93" fill="url(#gB)"/><ellipse cx="327.7" cy="105.5" rx="23.3" ry="1" fill="#c4c4ff" opacity="0.9"/><defs><path id="q94" d="M29 113C29 112 29 110 33 110C37 109 46 109 53 109C59 109 69 109 73 110C76 111 76 112 76 113C76 115 76 116 72 117C68 117 59 117 53 117C46 117 37 117 34 117C30 116 30 114 29 113Z"/></defs><use href="#q94" fill="#00007a" y="1.4"/><use href="#q94" fill="url(#gB)"/><ellipse cx="48.8" cy="111.3" rx="17" ry="1.1" fill="#c4c4ff" opacity="0.9"/><defs><path id="q95" d="M66 114C66 113 66 111 70 110C73 109 79 109 85 109C90 109 97 109 100 110C103 110 103 113 103 114C103 115 102 116 99 117C96 117 89 117 85 117C80 117 73 117 70 117C67 116 66 115 66 114Z"/></defs><use href="#q95" fill="#00007a" y="1.5"/><use href="#q95" fill="url(#gB)"/><ellipse cx="81.3" cy="111.3" rx="13.6" ry="1.1" fill="#c4c4ff" opacity="0.9"/><defs><path id="q96" d="M97 113C97 112 95 111 100 110C105 109 118 110 127 110C136 110 148 109 153 110C158 111 156 112 156 113C156 114 158 116 153 116C148 117 135 117 126 117C117 117 105 118 100 117C95 116 97 114 97 113Z"/></defs><use href="#q96" fill="#00007a" y="1.4"/><use href="#q96" fill="url(#gB)"/><ellipse cx="121.6" cy="111.9" rx="21.9" ry="1" fill="#c4c4ff" opacity="0.9"/><defs><path id="q97" d="M151 114C151 112 149 110 154 110C160 109 174 109 184 109C193 109 207 109 212 110C218 110 215 112 215 113C215 114 217 116 212 117C207 117 194 117 184 117C174 117 160 117 154 117C149 116 151 115 151 114Z"/></defs><use href="#q97" fill="#00007a" y="1.4"/><use href="#q97" fill="url(#gB)"/><ellipse cx="178" cy="111.5" rx="23.6" ry="1" fill="#c4c4ff" opacity="0.9"/><defs><path id="q98" d="M208 113C208 112 206 111 211 110C216 109 229 109 239 109C248 109 262 109 267 109C272 110 270 112 270 113C270 115 272 116 266 117C261 117 248 117 238 117C229 117 216 117 211 117C206 116 208 114 208 113Z"/></defs><use href="#q98" fill="#00007a" y="1.5"/><use href="#q98" fill="url(#gB)"/><ellipse cx="233.8" cy="111.5" rx="22.7" ry="1.1" fill="#c4c4ff" opacity="0.9"/><defs><path id="q99" d="M263 113C263 112 260 110 265 110C270 109 283 109 292 109C301 109 315 109 320 110C325 111 322 112 322 113C322 114 324 116 319 116C314 117 301 117 293 117C284 117 271 117 266 117C261 116 263 114 263 113Z"/></defs><use href="#q99" fill="#00007a" y="1.5"/><use href="#q99" fill="url(#gB)"/><ellipse cx="288" cy="111.4" rx="21.8" ry="1.1" fill="#c4c4ff" opacity="0.9"/><defs><path id="q100" d="M311 113C311 112 306 111 314 110C321 109 342 109 356 109C370 109 391 109 398 110C405 110 401 112 401 113C400 114 405 116 397 117C390 117 370 117 356 117C342 117 321 118 314 117C306 116 311 114 311 113Z"/></defs><use href="#q100" fill="#00007a" y="1.5"/><use href="#q100" fill="url(#gB)"/><ellipse cx="348.5" cy="111.6" rx="33" ry="1.1" fill="#c4c4ff" opacity="0.9"/><defs><path id="q101" d="M30 120C30 118 26 117 33 116C40 116 58 116 70 116C83 116 101 116 108 117C115 117 112 118 112 119C112 121 115 123 109 123C102 124 83 124 71 124C58 124 40 124 33 123C26 123 30 121 30 120Z"/></defs><use href="#q101" fill="#00007a" y="1.5"/><use href="#q101" fill="url(#gB)"/><ellipse cx="64.3" cy="118.2" rx="30" ry="1.2" fill="#c4c4ff" opacity="0.9"/><defs><path id="q102" d="M103 119C103 118 101 117 106 117C110 116 121 116 128 116C136 116 148 116 152 116C156 117 154 118 154 119C154 121 156 122 152 123C148 124 136 124 128 124C121 124 110 124 106 123C102 122 103 120 103 119Z"/></defs><use href="#q102" fill="#00007a" y="1.4"/><use href="#q102" fill="url(#gB)"/><ellipse cx="124.5" cy="118.3" rx="18.9" ry="1" fill="#c4c4ff" opacity="0.9"/><defs><path id="q103" d="M143 120C143 119 143 117 147 116C151 115 163 115 170 116C177 116 187 116 191 117C195 117 194 118 195 119C195 121 196 122 192 123C188 124 178 124 170 124C162 124 151 123 147 123C143 122 143 121 143 120Z"/></defs><use href="#q103" fill="#00007a" y="1.5"/><use href="#q103" fill="url(#gB)"/><ellipse cx="165" cy="117.9" rx="18.8" ry="1.1" fill="#c4c4ff" opacity="0.9"/><defs><path id="q104" d="M183 120C183 119 180 117 186 116C192 116 209 116 221 116C233 116 251 116 257 117C264 117 261 118 260 119C260 120 263 122 257 123C250 124 233 124 221 124C209 124 193 124 187 123C180 123 183 121 183 120Z"/></defs><use href="#q104" fill="#00007a" y="1.5"/><use href="#q104" fill="url(#gB)"/><ellipse cx="215.5" cy="118.4" rx="28.5" ry="1.1" fill="#c4c4ff" opacity="0.9"/><defs><path id="q105" d="M247 119C247 118 243 117 250 116C257 115 276 115 288 115C301 116 318 116 325 117C332 118 328 119 328 120C328 121 332 123 325 123C318 124 300 124 287 124C275 124 257 124 250 123C243 122 247 121 247 119Z"/></defs><use href="#q105" fill="#00007a" y="1.5"/><use href="#q105" fill="url(#gB)"/><ellipse cx="281.1" cy="118.1" rx="29.8" ry="1.2" fill="#c4c4ff" opacity="0.9"/><defs><path id="q106" d="M315 120C315 119 310 117 317 116C325 115 345 115 358 115C372 115 392 116 399 116C407 117 402 118 402 120C402 121 406 122 399 123C391 124 372 124 358 124C345 124 325 124 317 123C310 122 315 121 315 120Z"/></defs><use href="#q106" fill="#00007a" y="1.5"/><use href="#q106" fill="url(#gB)"/><ellipse cx="351.2" cy="117.8" rx="32" ry="1.1" fill="#c4c4ff" opacity="0.9"/><defs><path id="q107" d="M30 127C30 125 30 124 33 123C36 122 43 122 47 122C52 122 59 122 61 123C64 124 65 125 65 126C65 127 65 129 62 130C59 131 52 130 47 130C43 130 36 130 33 129C30 129 30 128 30 127Z"/></defs><use href="#q107" fill="#00007a" y="1.5"/><use href="#q107" fill="url(#gB)"/><ellipse cx="44.7" cy="124.3" rx="12.9" ry="1.1" fill="#c4c4ff" opacity="0.9"/><defs><path id="q108" d="M58 126C58 125 54 123 61 123C68 122 87 122 100 122C113 122 132 123 139 123C146 124 142 125 142 127C142 128 146 129 139 130C132 130 113 130 100 130C87 130 68 131 61 130C54 129 58 127 58 126Z"/></defs><use href="#q108" fill="#00007a" y="1.4"/><use href="#q108" fill="url(#gB)"/><ellipse cx="93.3" cy="124.7" rx="31.1" ry="1" fill="#c4c4ff" opacity="0.9"/><defs><path id="q109" d="M130 127C130 125 126 123 133 122C141 122 160 122 174 122C188 122 208 122 216 123C223 124 219 125 219 127C219 128 223 129 216 130C209 130 188 130 174 130C160 130 140 131 132 130C125 129 130 128 130 127Z"/></defs><use href="#q109" fill="#00007a" y="1.5"/><use href="#q109" fill="url(#gB)"/><ellipse cx="167.2" cy="124.4" rx="32.6" ry="1.1" fill="#c4c4ff" opacity="0.9"/><defs><path id="q110" d="M203 126C203 125 203 123 207 123C210 122 218 122 223 122C228 122 236 122 239 123C242 124 242 125 242 126C242 127 243 129 240 129C237 130 229 130 223 130C218 131 210 131 207 130C203 129 203 127 203 126Z"/></defs><use href="#q110" fill="#00007a" y="1.5"/><use href="#q110" fill="url(#gB)"/><ellipse cx="219.2" cy="124.4" rx="14.3" ry="1.2" fill="#c4c4ff" opacity="0.9"/><defs><path id="q111" d="M238 126C238 125 234 124 240 123C247 122 265 122 277 122C289 122 306 122 312 123C319 123 316 125 316 126C316 127 319 129 312 130C306 130 288 130 276 130C264 130 247 131 241 130C235 129 238 127 238 126Z"/></defs><use href="#q111" fill="#00007a" y="1.5"/><use href="#q111" fill="url(#gB)"/><ellipse cx="270.5" cy="124.5" rx="28.7" ry="1.1" fill="#c4c4ff" opacity="0.9"/><defs><path id="q112" d="M300 126C300 125 299 124 303 123C306 123 314 122 320 122C326 122 333 122 337 123C340 124 340 125 340 126C340 127 340 129 337 130C334 130 325 130 320 130C314 130 307 130 304 130C300 129 300 127 300 126Z"/></defs><use href="#q112" fill="#00007a" y="1.4"/><use href="#q112" fill="url(#gB)"/><ellipse cx="316.5" cy="124.4" rx="14.6" ry="1" fill="#c4c4ff" opacity="0.9"/><defs><path id="q113" d="M333 126C333 125 329 124 336 123C343 122 363 122 376 122C390 122 410 122 417 123C425 124 420 126 420 127C420 128 425 129 418 130C410 130 390 130 377 130C363 130 343 130 336 130C328 129 333 127 333 126Z"/></defs><use href="#q113" fill="#00007a" y="1.5"/><use href="#q113" fill="url(#gB)"/><ellipse cx="369.5" cy="124.4" rx="32.2" ry="1.1" fill="#c4c4ff" opacity="0.9"/><defs><path id="q114" d="M30 133C30 132 30 130 34 129C37 128 45 129 51 129C57 129 65 128 69 129C72 130 71 132 71 133C71 134 72 135 69 136C65 136 56 136 50 136C45 136 37 137 33 136C30 136 30 134 30 133Z"/></defs><use href="#q114" fill="#00007a" y="1.4"/><use href="#q114" fill="url(#gB)"/><ellipse cx="47.4" cy="130.9" rx="15.2" ry="1.1" fill="#c4c4ff" opacity="0.9"/><defs><path id="q115" d="M63 132C62 131 62 130 66 130C69 129 78 129 83 129C89 129 97 129 100 130C104 130 104 132 104 133C104 134 103 136 100 136C97 137 89 136 83 136C78 136 70 137 67 136C63 135 63 133 63 132Z"/></defs><use href="#q115" fill="#00007a" y="1.4"/><use href="#q115" fill="url(#gB)"/><ellipse cx="80" cy="131" rx="15.3" ry="1" fill="#c4c4ff" opacity="0.9"/><defs><path id="q116" d="M94 133C94 132 91 130 97 129C104 129 122 129 134 129C146 129 163 128 170 129C176 130 173 131 173 133C173 134 176 135 170 136C163 137 145 136 133 136C121 136 103 136 97 136C90 135 94 134 94 133Z"/></defs><use href="#q116" fill="#00007a" y="1.4"/><use href="#q116" fill="url(#gB)"/><ellipse cx="127.1" cy="131" rx="29.1" ry="1" fill="#c4c4ff" opacity="0.9"/><defs><path id="q117" d="M156 133C156 132 153 130 159 130C164 129 179 128 189 128C199 128 213 128 219 129C224 130 222 131 222 132C222 134 224 135 218 136C213 137 199 137 189 137C179 137 165 137 159 136C154 135 156 134 156 133Z"/></defs><use href="#q117" fill="#00007a" y="1.5"/><use href="#q117" fill="url(#gB)"/><ellipse cx="184.1" cy="130.9" rx="24.2" ry="1.2" fill="#c4c4ff" opacity="0.9"/><defs><path id="q118" d="M211 133C211 132 210 130 214 130C218 129 228 129 234 129C241 129 250 129 254 129C258 130 257 131 257 133C257 134 257 135 253 136C249 137 240 137 234 137C227 137 218 137 214 136C210 136 211 134 211 133Z"/></defs><use href="#q118" fill="#00007a" y="1.4"/><use href="#q118" fill="url(#gB)"/><ellipse cx="230.5" cy="131.5" rx="17" ry="1.1" fill="#c4c4ff" opacity="0.9"/><defs><path id="q119" d="M252 133C252 132 252 130 255 130C259 129 268 128 273 128C279 128 287 128 291 129C294 130 294 132 294 133C294 134 295 136 291 136C288 137 280 137 274 137C268 137 259 137 255 136C251 135 252 134 252 133Z"/></defs><use href="#q119" fill="#00007a" y="1.5"/><use href="#q119" fill="url(#gB)"/><ellipse cx="269.6" cy="130.9" rx="15.5" ry="1.2" fill="#c4c4ff" opacity="0.9"/><defs><path id="q120" d="M289 133C289 132 289 130 292 129C295 128 304 129 310 128C316 128 324 128 328 129C331 130 331 132 331 133C331 134 330 135 327 136C323 137 315 137 310 137C304 137 296 137 293 136C289 136 289 134 289 133Z"/></defs><use href="#q120" fill="#00007a" y="1.5"/><use href="#q120" fill="url(#gB)"/><ellipse cx="306.7" cy="131.1" rx="15.2" ry="1.2" fill="#c4c4ff" opacity="0.9"/><defs><path id="q121" d="M324 133C324 132 322 130 326 130C330 129 341 129 347 129C354 129 364 129 367 129C371 130 370 132 370 133C370 134 371 136 367 136C363 137 354 137 347 137C340 137 330 137 327 136C323 135 324 134 324 133Z"/></defs><use href="#q121" fill="#00007a" y="1.4"/><use href="#q121" fill="url(#gB)"/><ellipse cx="343.3" cy="131.5" rx="16.9" ry="1.1" fill="#c4c4ff" opacity="0.9"/><defs><path id="q122" d="M31 140C30 138 26 137 33 136C40 135 60 135 74 135C88 135 108 135 115 136C123 136 119 139 119 140C119 141 123 142 115 143C108 144 87 144 74 144C60 144 41 144 34 143C27 143 31 141 31 140Z"/></defs><use href="#q122" fill="#00007a" y="1.5"/><use href="#q122" fill="url(#gB)"/><ellipse cx="67.7" cy="137.9" rx="32.5" ry="1.2" fill="#c4c4ff" opacity="0.9"/><defs><path id="q123" d="M110 140C110 139 110 137 114 136C118 135 129 135 136 135C144 135 155 135 159 136C163 137 163 138 163 139C163 140 163 143 159 144C155 144 144 144 137 144C129 144 119 143 114 143C110 142 110 141 110 140Z"/></defs><use href="#q123" fill="#00007a" y="1.5"/><use href="#q123" fill="url(#gB)"/><ellipse cx="132.3" cy="137.7" rx="19.4" ry="1.2" fill="#c4c4ff" opacity="0.9"/><defs><path id="q124" d="M159 140C159 138 158 137 162 136C166 135 175 135 182 135C189 135 198 135 202 136C206 136 206 139 206 140C206 141 206 143 202 143C198 144 188 144 182 144C175 144 165 144 161 143C158 143 159 141 159 140Z"/></defs><use href="#q124" fill="#00007a" y="1.6"/><use href="#q124" fill="url(#gB)"/><ellipse cx="178.5" cy="137.5" rx="17.2" ry="1.2" fill="#c4c4ff" opacity="0.9"/><defs><path id="q125" d="M197 140C197 139 193 137 200 136C207 135 225 135 237 135C250 135 269 135 276 135C283 136 279 139 279 140C279 141 283 142 276 143C269 144 251 144 238 144C226 144 208 144 201 143C194 142 198 141 197 140Z"/></defs><use href="#q125" fill="#00007a" y="1.5"/><use href="#q125" fill="url(#gB)"/><ellipse cx="231.7" cy="137.8" rx="30" ry="1.1" fill="#c4c4ff" opacity="0.9"/><defs><path id="q126" d="M269 140C268 139 268 137 272 136C275 135 284 135 290 135C295 135 303 135 306 136C310 137 310 138 310 139C310 141 310 143 307 143C303 144 295 144 289 144C284 144 276 144 272 143C269 142 269 141 269 140Z"/></defs><use href="#q126" fill="#00007a" y="1.6"/><use href="#q126" fill="url(#gB)"/><ellipse cx="285.8" cy="137.5" rx="15.1" ry="1.2" fill="#c4c4ff" opacity="0.9"/><defs><path id="q127" d="M308 140C308 139 306 136 310 136C314 135 324 135 331 135C337 135 346 135 350 136C354 136 354 138 355 139C355 140 355 142 351 143C348 144 338 144 331 144C325 144 314 144 310 143C307 143 308 141 308 140Z"/></defs><use href="#q127" fill="#00007a" y="1.5"/><use href="#q127" fill="url(#gB)"/><ellipse cx="327.6" cy="138" rx="17.1" ry="1.2" fill="#c4c4ff" opacity="0.9"/><defs><path id="q128" d="M30 146C30 145 26 144 33 143C39 142 57 142 69 142C81 142 98 142 105 143C111 143 108 145 107 146C107 147 110 150 104 150C98 151 81 150 69 150C57 150 39 151 33 150C27 150 30 147 30 146Z"/></defs><use href="#q128" fill="#00007a" y="1.5"/><use href="#q128" fill="url(#gB)"/><ellipse cx="62.5" cy="144.5" rx="28.5" ry="1.1" fill="#c4c4ff" opacity="0.9"/><defs><path id="q129" d="M93 147C93 146 92 144 96 143C100 143 112 143 119 142C127 142 137 142 141 142C145 143 144 145 144 147C144 148 145 149 141 150C136 150 126 151 119 151C112 151 101 151 97 150C93 150 93 148 93 147Z"/></defs><use href="#q129" fill="#00007a" y="1.5"/><use href="#q129" fill="url(#gB)"/><ellipse cx="114.4" cy="145.1" rx="18.8" ry="1.2" fill="#c4c4ff" opacity="0.9"/><defs><path id="q130" d="M133 147C133 146 133 144 136 143C139 142 147 142 152 142C158 142 165 142 169 143C172 143 172 145 172 146C173 147 173 149 170 150C166 151 158 151 153 151C147 151 139 151 135 150C132 150 132 148 133 147Z"/></defs><use href="#q130" fill="#00007a" y="1.6"/><use href="#q130" fill="url(#gB)"/><ellipse cx="149.3" cy="144.5" rx="14.6" ry="1.3" fill="#c4c4ff" opacity="0.9"/><defs><path id="q131" d="M168 146C168 145 166 144 170 143C174 143 185 142 192 142C199 142 208 142 212 143C216 144 215 145 215 146C215 147 216 150 212 150C208 151 198 151 191 151C184 151 174 151 170 151C166 150 168 148 168 146Z"/></defs><use href="#q131" fill="#00007a" y="1.5"/><use href="#q131" fill="url(#gB)"/><ellipse cx="187.5" cy="145.1" rx="17.4" ry="1.2" fill="#c4c4ff" opacity="0.9"/><defs><path id="q132" d="M209 147C209 146 208 144 213 143C218 143 229 142 237 142C245 142 256 142 261 143C266 144 264 146 264 147C264 148 266 149 261 150C257 150 246 151 237 151C229 151 217 150 212 150C207 149 209 148 209 147Z"/></defs><use href="#q132" fill="#00007a" y="1.5"/><use href="#q132" fill="url(#gB)"/><ellipse cx="232" cy="144.8" rx="20.3" ry="1.1" fill="#c4c4ff" opacity="0.9"/><defs><path id="q133" d="M255 146C255 145 252 144 259 143C267 143 286 143 300 143C313 142 333 142 341 143C348 144 344 145 343 146C343 147 347 149 340 150C332 151 313 151 299 151C286 151 266 151 259 150C252 149 255 147 255 146Z"/></defs><use href="#q133" fill="#00007a" y="1.5"/><use href="#q133" fill="url(#gB)"/><ellipse cx="292.2" cy="145.1" rx="32.4" ry="1.1" fill="#c4c4ff" opacity="0.9"/><defs><path id="q134" d="M330 147C330 145 327 143 333 143C339 142 354 142 364 142C374 142 388 143 394 143C399 144 397 146 397 147C397 148 399 150 393 151C388 151 373 151 363 151C353 151 339 151 334 150C328 149 330 148 330 147Z"/></defs><use href="#q134" fill="#00007a" y="1.6"/><use href="#q134" fill="url(#gB)"/><ellipse cx="358" cy="144.6" rx="24.4" ry="1.2" fill="#c4c4ff" opacity="0.9"/><defs><path id="q135" d="M30 154C30 152 29 151 33 150C37 149 47 150 53 149C60 149 68 149 72 150C76 150 75 152 75 154C75 155 76 156 72 157C68 157 59 158 52 158C46 158 37 158 33 157C30 157 30 155 30 154Z"/></defs><use href="#q135" fill="#00007a" y="1.5"/><use href="#q135" fill="url(#gB)"/><ellipse cx="49" cy="152.1" rx="16.6" ry="1.2" fill="#c4c4ff" opacity="0.9"/><defs><path id="q136" d="M65 153C65 152 61 151 68 150C76 149 95 149 108 149C121 149 140 149 147 150C154 150 150 152 150 154C150 155 154 157 147 157C140 158 120 158 107 158C94 158 76 158 69 157C62 156 65 155 65 153Z"/></defs><use href="#q136" fill="#00007a" y="1.6"/><use href="#q136" fill="url(#gB)"/><ellipse cx="101" cy="151.9" rx="31.3" ry="1.2" fill="#c4c4ff" opacity="0.9"/><defs><path id="q137" d="M143 153C143 152 142 151 146 150C150 150 160 150 167 150C174 149 184 149 188 150C192 150 191 152 191 153C191 155 192 156 188 157C184 158 175 158 167 158C160 158 150 158 146 157C142 157 143 154 143 153Z"/></defs><use href="#q137" fill="#00007a" y="1.5"/><use href="#q137" fill="url(#gB)"/><ellipse cx="163.2" cy="152" rx="17.9" ry="1.1" fill="#c4c4ff" opacity="0.9"/><defs><path id="q138" d="M181 154C181 152 178 150 184 149C191 149 207 149 219 149C231 149 247 149 254 150C260 151 258 153 257 154C257 155 259 156 253 157C247 157 231 158 220 158C208 158 191 157 184 157C178 156 181 155 181 154Z"/></defs><use href="#q138" fill="#00007a" y="1.5"/><use href="#q138" fill="url(#gB)"/><ellipse cx="212.9" cy="151.7" rx="28.2" ry="1.1" fill="#c4c4ff" opacity="0.9"/><defs><path id="q139" d="M252 153C252 152 252 151 255 150C259 149 268 149 275 149C282 149 291 149 295 150C299 151 298 152 298 154C298 155 298 157 294 157C291 158 282 158 275 158C269 158 259 158 256 157C252 157 252 154 252 153Z"/></defs><use href="#q139" fill="#00007a" y="1.5"/><use href="#q139" fill="url(#gB)"/><ellipse cx="271.6" cy="151.9" rx="16.8" ry="1.1" fill="#c4c4ff" opacity="0.9"/><defs><path id="q140" d="M295 154C295 152 292 150 299 149C306 149 324 150 337 150C349 150 368 150 375 150C382 151 379 152 379 153C379 154 382 156 376 157C369 157 350 157 337 158C325 158 306 158 299 157C292 157 295 155 295 154Z"/></defs><use href="#q140" fill="#00007a" y="1.5"/><use href="#q140" fill="url(#gB)"/><ellipse cx="330.1" cy="151.9" rx="30.9" ry="1.1" fill="#c4c4ff" opacity="0.9"/><defs><path id="q141" d="M30 160C30 159 28 158 33 157C38 156 50 156 59 156C67 156 80 156 85 157C89 158 88 159 88 160C88 161 90 163 85 164C80 164 68 165 59 165C50 165 38 164 33 164C28 163 30 161 30 160Z"/></defs><use href="#q141" fill="#00007a" y="1.6"/><use href="#q141" fill="url(#gB)"/><ellipse cx="54.1" cy="158.5" rx="21.4" ry="1.2" fill="#c4c4ff" opacity="0.9"/><defs><path id="q142" d="M75 160C75 159 75 158 78 157C81 157 88 157 93 157C98 156 106 156 109 157C112 157 112 159 112 160C112 161 112 163 109 164C106 164 98 164 93 164C88 164 81 165 78 164C75 163 75 161 75 160Z"/></defs><use href="#q142" fill="#00007a" y="1.4"/><use href="#q142" fill="url(#gB)"/><ellipse cx="90.6" cy="158.8" rx="13.4" ry="1" fill="#c4c4ff" opacity="0.9"/><defs><path id="q143" d="M109 160C109 159 109 158 113 157C117 156 127 156 134 156C141 156 150 156 154 157C159 158 158 159 158 160C158 161 159 163 155 164C150 165 140 164 134 164C127 164 117 165 113 164C109 163 109 161 109 160Z"/></defs><use href="#q143" fill="#00007a" y="1.4"/><use href="#q143" fill="url(#gB)"/><ellipse cx="130" cy="158.5" rx="18" ry="1.1" fill="#c4c4ff" opacity="0.9"/><defs><path id="q144" d="M153 160C153 159 152 157 156 157C160 156 170 157 177 157C184 157 195 156 199 157C203 158 201 160 201 161C201 162 203 163 199 163C195 164 185 165 178 165C170 165 159 164 155 164C151 163 153 161 153 160Z"/></defs><use href="#q144" fill="#00007a" y="1.5"/><use href="#q144" fill="url(#gB)"/><ellipse cx="173.2" cy="159" rx="17.8" ry="1.1" fill="#c4c4ff" opacity="0.9"/><defs><path id="q145" d="M198 160C198 159 195 158 201 157C206 157 221 157 231 157C242 157 257 157 263 157C268 158 266 159 266 160C266 161 268 163 263 164C257 164 242 164 232 164C221 164 206 164 201 163C195 163 198 161 198 160Z"/></defs><use href="#q145" fill="#00007a" y="1.4"/><use href="#q145" fill="url(#gB)"/><ellipse cx="226.5" cy="158.9" rx="24.8" ry="1" fill="#c4c4ff" opacity="0.9"/><defs><path id="q146" d="M253 160C253 159 252 158 255 157C259 157 268 156 275 156C281 156 290 156 294 157C297 157 297 159 297 161C297 162 297 163 294 164C290 165 281 165 275 165C268 165 259 164 255 164C252 163 253 161 253 160Z"/></defs><use href="#q146" fill="#00007a" y="1.5"/><use href="#q146" fill="url(#gB)"/><ellipse cx="271.4" cy="158.8" rx="16.1" ry="1.1" fill="#c4c4ff" opacity="0.9"/><defs><path id="q147" d="M292 160C292 159 292 157 296 157C299 156 306 156 312 156C317 156 325 156 328 157C331 157 332 159 332 160C332 161 331 163 328 164C325 165 317 164 312 164C307 164 299 164 296 163C293 163 292 161 292 160Z"/></defs><use href="#q147" fill="#00007a" y="1.5"/><use href="#q147" fill="url(#gB)"/><ellipse cx="308.6" cy="158.4" rx="14.6" ry="1.1" fill="#c4c4ff" opacity="0.9"/><defs><path id="q148" d="M323 160C323 159 321 158 326 157C332 157 346 156 356 156C366 156 381 156 386 156C392 157 389 159 388 160C388 162 391 163 385 164C380 164 365 164 356 164C346 164 332 164 327 164C321 163 323 161 323 160Z"/></defs><use href="#q148" fill="#00007a" y="1.5"/><use href="#q148" fill="url(#gB)"/><ellipse cx="350.4" cy="158.5" rx="24.1" ry="1.1" fill="#c4c4ff" opacity="0.9"/><defs><path id="q149" d="M30 166C30 165 28 163 33 162C39 161 54 162 64 162C74 162 90 162 96 162C101 163 99 164 99 166C99 167 102 168 96 169C90 170 75 169 64 169C53 169 38 169 33 169C27 168 30 167 30 166Z"/></defs><use href="#q149" fill="#00007a" y="1.4"/><use href="#q149" fill="url(#gB)"/><ellipse cx="58.8" cy="163.9" rx="25.4" ry="1" fill="#c4c4ff" opacity="0.9"/><defs><path id="q150" d="M86 166C86 165 81 163 89 163C96 162 116 162 129 162C142 162 160 162 167 162C174 163 171 164 171 166C171 167 175 168 168 169C160 170 141 170 128 170C115 170 96 170 89 169C82 168 86 167 86 166Z"/></defs><use href="#q150" fill="#00007a" y="1.5"/><use href="#q150" fill="url(#gB)"/><ellipse cx="121.6" cy="164.3" rx="31.2" ry="1.1" fill="#c4c4ff" opacity="0.9"/><defs><path id="q151" d="M153 166C153 165 153 163 156 162C159 161 167 162 171 162C176 162 183 162 186 163C189 163 189 165 189 166C189 167 188 168 185 169C182 170 176 170 171 170C166 170 159 170 156 169C153 169 153 167 153 166Z"/></defs><use href="#q151" fill="#00007a" y="1.5"/><use href="#q151" fill="url(#gB)"/><ellipse cx="168.2" cy="164.1" rx="13.3" ry="1.1" fill="#c4c4ff" opacity="0.9"/><defs><path id="q152" d="M182 166C182 165 180 163 185 162C190 161 203 162 212 162C221 162 233 162 238 162C243 163 241 164 241 166C241 167 244 169 239 170C234 170 221 170 212 169C203 169 190 169 185 169C180 168 182 167 182 166Z"/></defs><use href="#q152" fill="#00007a" y="1.4"/><use href="#q152" fill="url(#gB)"/><ellipse cx="206.5" cy="164" rx="21.8" ry="1.1" fill="#c4c4ff" opacity="0.9"/><defs><path id="q153" d="M227 166C227 165 226 163 230 162C234 162 243 162 250 162C256 162 265 162 269 162C273 163 272 164 272 166C272 167 273 169 269 169C265 170 255 170 249 170C243 170 234 169 230 169C227 168 227 167 227 166Z"/></defs><use href="#q153" fill="#00007a" y="1.4"/><use href="#q153" fill="url(#gB)"/><ellipse cx="246" cy="164.2" rx="16.5" ry="1.1" fill="#c4c4ff" opacity="0.9"/><defs><path id="q154" d="M264 166C264 165 261 163 267 162C273 161 287 162 297 162C307 162 322 162 327 162C333 163 330 164 330 165C330 167 333 168 327 169C322 170 307 170 297 170C287 170 272 170 267 170C261 169 264 167 264 166Z"/></defs><use href="#q154" fill="#00007a" y="1.5"/><use href="#q154" fill="url(#gB)"/><ellipse cx="291.7" cy="164.1" rx="24.5" ry="1.1" fill="#c4c4ff" opacity="0.9"/><defs><path id="q155" d="M316 165C316 164 315 163 319 162C323 162 335 162 343 162C351 162 363 162 368 163C373 163 371 165 371 166C371 167 372 169 367 169C363 170 351 170 343 170C335 170 324 170 319 169C315 168 316 167 316 165Z"/></defs><use href="#q155" fill="#00007a" y="1.5"/><use href="#q155" fill="url(#gB)"/><ellipse cx="339.1" cy="164.4" rx="20" ry="1.1" fill="#c4c4ff" opacity="0.9"/><ellipse cx="116" cy="136.5" rx="12" ry="2.5" fill="#8eec3e"/><ellipse cx="145" cy="154" rx="16" ry="3.5" fill="#8eec3e"/><ellipse cx="233" cy="157" rx="9" ry="2" fill="#8eec3e"/><rect x="30" y="167.5" width="310" height="15" rx="2" fill="#8eec3e"/><rect x="30" y="171" width="310" height="8.5" rx="2" fill="#e8f040"/><rect x="30" y="173.8" width="310" height="3.4" rx="1.5" fill="#e05a18"/><rect x="30" y="168.5" width="310" height="1.5" rx="0.8" fill="#5aa822" opacity="0.7"/><rect x="30" y="181.9" width="310" height="11.5" rx="3" fill="#1a1ae0"/><defs><path id="q156" d="M95 188C95 186 97 184 100 182C104 181 110 182 115 182C120 182 127 182 130 183C133 184 135 186 135 188C135 190 134 192 130 193C127 194 120 194 115 194C110 194 103 194 100 193C96 192 95 190 95 188Z"/></defs><use href="#q156" fill="#00007a" y="1.6"/><use href="#q156" fill="url(#gB)"/><ellipse cx="111.7" cy="185.6" rx="12.1" ry="1.1" fill="#c4c4ff" opacity="0.6"/><defs><path id="q157" d="M155 188C155 187 157 184 160 183C162 182 167 182 170 183C174 183 178 183 180 184C183 185 185 187 185 188C185 190 183 192 180 193C178 194 173 194 170 194C166 194 162 194 160 193C157 192 155 190 155 188Z"/></defs><use href="#q157" fill="#00007a" y="1.6"/><use href="#q157" fill="url(#gB)"/><ellipse cx="167.7" cy="186" rx="9" ry="1" fill="#c4c4ff" opacity="0.6"/><defs><path id="q158" d="M195 188C195 186 196 184 200 183C203 182 210 182 215 182C220 182 227 182 230 183C233 184 235 186 235 188C235 190 233 192 230 193C227 194 220 194 215 194C210 194 203 194 200 193C196 192 195 190 195 188Z"/></defs><use href="#q158" fill="#00007a" y="1.6"/><use href="#q158" fill="url(#gB)"/><ellipse cx="211.4" cy="185.4" rx="12" ry="1.1" fill="#c4c4ff" opacity="0.6"/><defs><path id="q159" d="M255 188C255 187 256 184 260 183C264 182 274 182 280 182C287 182 296 182 300 183C304 184 305 187 305 189C305 190 304 193 300 194C296 195 287 194 280 194C274 194 264 194 260 193C256 192 255 190 255 188Z"/></defs><use href="#q159" fill="#00007a" y="1.6"/><use href="#q159" fill="url(#gB)"/><ellipse cx="276.1" cy="185.9" rx="15.2" ry="1.1" fill="#c4c4ff" opacity="0.6"/><defs><path id="q160" d="M40 187C40 185 40 183 44 182C48 181 58 182 65 182C72 182 82 181 86 182C90 183 90 185 90 187C90 188 90 191 86 192C82 193 72 192 65 192C58 192 48 192 44 191C40 191 40 189 40 187Z"/></defs><use href="#q160" fill="#00007a" y="1.6"/><use href="#q160" fill="url(#gB)"/><ellipse cx="61" cy="184.9" rx="14.8" ry="1" fill="#c4c4ff" opacity="0.6"/><rect x="30" y="181.9" width="310" height="1.6" rx="0.8" fill="#08088a" opacity="0.7"/></g></g><path d="M17 27L78 7.7H294.5L355 27ZM17 27L44 218H328.6L355 27" fill="none" stroke="#333" stroke-width="1.1" stroke-linejoin="round"/></g>
<g transform="translate(0 456.6)"><path d="M78.5 7.7H294.5L283.1 140H89.3Z" fill="url(#wallA)"/><path clip-path="url(#wallclip)" d="M-68.9 -211.8L125.1 -356.4M187.4 -402.9L125.1 -356.4M-441.5 73.9L-432.8 67M-68.9 -211.8L-420.5 56.3M-420.5 56.3L-432.8 67M99.9 44L81.9 14.9M81.9 14.9L66.1 38.6M99.9 44L95.1 47.7M95.1 47.7L66.1 38.6M-68.9 -211.8L74.5 -29.3M-420.5 56.3L-13.2 49.4M74.5 -29.3L81.9 14.9M-13.2 49.4L66.1 38.6M99.9 128L100.2 121.7M99.9 128L-60.6 118.3M100.2 121.7L73.2 108.1M-60.6 118.3L73.2 108.1M-441.5 73.9L-349 120M185.3 551L178.1 539.9M-349 120L88.2 422.4M178.1 539.9L88.2 422.4M-349 120L-60.6 118.3M110.5 209.9L88.2 422.4M99.9 128L101.3 131M110.5 209.9L110.3 153.6M101.3 131L110.3 153.6M71.9 58.8L91.9 56.4M71.9 58.8L74.5 84M91.9 56.4L103.4 80.2M74.5 84L85.9 86.1M85.9 86.1L101.5 85.2M103.4 80.2L101.5 85.2M95.1 47.7L91.9 56.4M-13.2 49.4L71.9 58.8M-432.8 67L74.5 84M73.2 108.1L85.9 86.1M101.3 131L141.3 118.4M110.3 153.6L146.9 123.9M141.3 118.4L146.9 123.9M252.7 -16.2L271.6 32.9M342.9 -289.2L252.7 -16.2M342.9 -289.2L620.9 -87.6M271.6 32.9L271.8 33.1M620.9 -87.6L277.5 33.8M271.8 33.1L277.5 33.8M185.3 551L189.1 544.8M189.1 544.8L251.7 467.8M251.7 467.8L621.1 173.5M621.1 173.5L673.5 141.3M673.5 141.3L819.9 73.8M187.4 -402.9L342.9 -289.2M620.9 -87.6L774.6 34.2M819.9 73.8L774.6 34.2M100.2 121.7L107.2 109.9M141.3 118.4L136.2 112M136.2 112L107.2 109.9M101.5 85.2L102.9 87M107.2 109.9L102.9 87M146.9 123.9L151.4 124.4M110.5 209.9L163.8 136M151.4 124.4L163.8 136M178.1 539.9L172.1 142.7M172.1 142.7L170.7 136.4M163.8 136L170.7 136.4M259.9 51.7L271.4 67.3M271.4 67.3L284.4 65.8M277.5 33.8L291.6 49.4M271.8 33.1L259.9 51.7M291.6 49.4L284.4 65.8M774.6 34.2L294.9 50.3M291.6 49.4L294.9 50.3M392.6 111.9L673.5 141.3M392.6 111.9L325.6 90.1M294.9 50.3L325.6 90.1M284.4 65.8L296.4 83.3M325.6 90.1L308.2 87.1M296.4 83.3L308.2 87.1M219 119.5L197.7 114.2M219 119.5L232 116.7M197.7 114.2L194.5 104.8M194.5 104.8L239.7 93M239.7 93L232 116.7M103.4 80.2L128.4 69.2M102.3 43.7L114.3 48.7M99.9 44L102.3 43.7M128.4 69.2L114.3 48.7M170.7 136.4L182 133.9M172.1 142.7L193.7 167.4M182 133.9L193.7 167.4M169.2 32.9L157.8 46.2M157.8 46.2L180.5 46.8M178.9 32.9L169.2 32.9M178.9 32.9L186.2 36.2M186.2 36.2L185.9 41.4M180.5 46.8L185.9 41.4M177.8 6.1L184.5 12.3M177.8 6.1L230.7 2M230.7 2L223.1 14M184.5 12.3L185.6 13M185.6 13L222.8 14.2M223.1 14L222.8 14.2M175.5 4.9L171.4 7.5M175.5 4.9L177.8 6.1M178.9 32.9L184.5 12.3M171.4 7.5L165 25.2M169.2 32.9L165 25.2M125.1 -356.4L175.5 4.9M252.7 -16.2L230.7 2M271.6 32.9L245 34.5M245 34.5L223.1 14M186.2 36.2L201 28.9M201 28.9L185.6 13M201 28.9L209.7 30.6M209.7 30.6L222.8 14.2M265.3 78.1L241.2 89.3M265.3 78.1L266 72.7M266 72.7L244.2 62.7M241.2 89.3L234.6 75.5M234.6 75.5L236.4 65.5M236.4 65.5L244.2 62.7M281.5 84.6L296.4 83.3M271.4 67.3L266 72.7M281.5 84.6L265.3 78.1M259.9 51.7L244.2 62.7M194.5 104.8L188.7 100.5M188.7 100.5L204.3 78.6M204.3 78.6L205.8 78.1M205.8 78.1L234.6 75.5M239.7 93L240.7 92.5M240.7 92.5L241.2 89.3M215.5 59.8L205.8 78.1M229.4 60.5L215.5 59.8M229.4 60.5L236.4 65.5M229.3 40L229.4 60.5M245 34.5L229.3 40M233.7 138.2L233.4 141.1M233.7 138.2L241.4 127.8M241.4 127.8L262.9 133.5M233.4 141.1L235.4 148.1M235.4 148.1L258.5 141.5M262.9 133.5L258.5 141.5M392.6 111.9L295.2 123.6M621.1 173.5L275.6 148.7M295.2 123.6L275.6 148.7M251.7 467.8L272.4 150.9M272.4 150.9L275.6 148.7M262.9 133.5L273.2 122.1M295.2 123.6L275.5 121.1M258.5 141.5L272.4 150.9M275.5 121.1L273.2 122.1M168.7 76.1L150.9 66.3M168.7 76.1L193.1 62.6M185.6 54.8L194.3 59.9M185.6 54.8L151.2 64.4M151.2 64.4L150.9 66.3M193.1 62.6L194.3 59.9M183.3 99.2L168.7 76.1M188.7 100.5L183.3 99.2M204.3 78.6L193.1 62.6M180.5 46.8L185.6 54.8M157.8 46.2L150.5 49.1M150.2 49.8L151.2 64.4M150.5 49.1L150.2 49.8M150.2 49.8L114.3 48.7M128.4 69.2L150.3 66.5M150.3 66.5L150.9 66.3M141.8 102.1L114 89M141.8 102.1L147.7 98.5M147.7 98.5L142.1 87.6M114 89L142.1 87.6M136.2 112L141.8 102.1M102.9 87L114 89M151.4 124.4L180.1 100.1M180.1 100.1L147.7 98.5M180.1 100.1L183.3 99.2M150.3 66.5L142.1 87.6M211.5 216.4L220.2 181.2M211.5 216.4L203 190.7M203 190.7L193.8 125.5M220.2 181.2L202.1 130.8M202.1 130.8L195.1 124.3M195.1 124.3L193.8 125.5M189.1 544.8L211.5 216.4M235.4 148.1L220.2 181.2M193.7 167.4L203 190.7M182 133.9L193.8 125.5M233.4 141.1L202.1 130.8M197.7 114.2L195.1 124.3M219 119.5L233.7 138.2M185.9 41.4L197.3 45.2M194.3 59.9L196.7 58.8M197.3 45.2L196.7 58.8M215.5 59.8L208.6 57.4M208.6 57.4L196.7 58.8M281.5 84.6L268.8 94.2M240.7 92.5L245.2 95.2M268.8 94.2L245.2 95.2M260.4 121.1L247.5 112.9M260.4 121.1L242.2 125.8M247.5 112.9L239.6 119.9M242.2 125.8L239.6 119.9M241.4 127.8L242.2 125.8M273.2 122.1L260.4 121.1M245.2 95.2L248.3 99.8M248.3 99.8L247.5 112.9M232 116.7L239.6 119.9M171.4 7.5L154.4 11.1M165 25.2L151.6 27.8M151.6 27.8L154.4 11.1M150.5 49.1L140.6 34.9M140.6 34.9L141.1 32.6M151.6 27.8L141.1 32.6M102.3 43.7L114.7 34.9M140.6 34.9L123.2 34.8M114.7 34.9L123.2 34.8M209.6 52.1L203.6 42.5M209.6 52.1L223 38.6M203.6 42.5L211.3 32.8M223 38.6L211.3 32.8M197.3 45.2L203.6 42.5M208.6 57.4L209.6 52.1M229.3 40L223 38.6M209.7 30.6L211.3 32.8M272.5 115L269.8 112.1M272.5 115L279.7 100M269.8 112.1L270.6 96.7M279.7 100L270.6 96.7M248.3 99.8L269.8 112.1M275.5 121.1L272.5 115M308.2 87.1L279.7 100M268.8 94.2L270.6 96.7M138.6 12.6L137.8 24.2M138.6 12.6L96.4 -10.8M137.8 24.2L126.1 23.5M126.1 23.5L114.5 22.6M96.4 -10.8L114.5 22.6M141.1 32.6L137.8 24.2M154.4 11.1L138.6 12.6M74.5 -29.3L96.4 -10.8M123.2 34.8L126.1 23.5M114.7 34.9L114.5 22.6" stroke="#6a6a6a" stroke-width="0.8" fill="none" opacity="0.7"/><path d="M89.3 140H283.1L328.6 218H44Z" fill="url(#floor)"/><path clip-path="url(#floorclip)" d="M169.3 49.1L-132.8 119.1M186.1 39.1L169.3 49.1M-782.3 179L-686.1 172.9M-686.1 172.9L-455.1 154.2M-455.1 154.2L-132.8 119.1M537.1 124.2L248.2 135.5M537.1 124.2L270.9 72.9M248.2 135.5L270.9 72.9M-64 154.3L83 150.8M-64 154.3L62.5 156.6M62.5 156.6L89.3 151.3M83 150.8L89.3 151.3M-455.1 154.2L-64 154.3M-132.8 119.1L1.2 133.1M1.2 133.1L65.8 144.8M65.8 144.8L83 150.8M-782.3 179L-620.9 202.6M-620.9 202.6L-313.7 256.5M104.5 308.5L-313.7 256.5M186.1 39.1L266.4 71.6M166.8 70.1L206.2 136.4M169.3 49.1L166.8 70.1M266.4 71.6L222 137.8M206.2 136.4L222 137.8M-686.1 172.9L-286 172.6M62.5 156.6L82.5 159.4M-286 172.6L-181.8 170.4M82.5 159.4L-181.8 170.4M230.3 312.2L877.5 220.6M877.5 220.6L960 206.6M1144.7 179L960 206.6M65.8 144.8L109.5 146.9M89.3 151.3L92.8 151.2M92.8 151.2L109.5 146.9M166.8 70.1L150.8 134.7M206.2 136.4L175 137.6M150.8 134.7L175 137.6M1.2 133.1L121.9 139.9M150.8 134.7L121.9 139.9M109.5 146.9L125.6 144.4M121.9 139.9L125.6 144.4M104.5 308.5L86.4 222.8M-313.7 256.5L48.3 221.4M86.4 222.8L80.2 222.2M48.3 221.4L80.2 222.2M82.5 159.4L87 159.8M87 159.8L106.8 157.3M92.8 151.2L94.3 151.6M106.8 157.3L94.3 151.6M-45.4 216.1L45.5 215.7M-45.4 216.1L42.3 220.6M42.3 220.6L45.5 215.7M-620.9 202.6L-472.7 202.8M-472.7 202.8L-45.4 216.1M48.3 221.4L42.3 220.6M78.3 211.3L80.2 222.2M78.3 211.3L45.5 215.7M86.4 222.8L123.3 220.5M230.3 312.2L230.2 234.9M230.2 234.9L123.3 220.5M188 211.3L155 209.7M192.1 213.5L188 211.3M192.1 213.5L166.9 217.6M166.9 217.6L138.5 218.1M138.5 218.1L132.7 216.8M132.7 216.8L155 209.7M87 159.8L85.9 160.7M-181.8 170.4L55.1 166.2M55.1 166.2L79.7 162.6M85.9 160.7L79.7 162.6M55.1 166.2L78.2 169M96.1 167.4L78.2 169M96.1 167.4L99.9 166.6M79.7 162.6L99.9 166.6M248.2 135.5L238.3 139.8M266.4 71.6L270.9 72.9M222 137.8L233.5 140.1M238.3 139.8L233.5 140.1M160.3 162.2L135.3 157.7M160.3 162.2L124.3 164.9M124.3 164.9L112.7 164.9M135.1 157.7L135.3 157.7M135.1 157.7L112.1 164.3M112.1 164.3L112.7 164.9M85.9 160.7L112.1 164.3M106.8 157.3L135.1 157.7M109 165.9L112.7 164.9M99.9 166.6L109 165.9M125.6 144.4L143 146.8M94.3 151.6L140.1 151.9M143 146.8L140.1 151.9M135.3 157.7L143.1 155M140.1 151.9L143.1 155M287.3 225.4L297.6 222.7M287.3 225.4L456.5 217.8M297.6 222.7L411.5 217.3M456.5 217.8L430.6 217.3M430.6 217.3L411.5 217.3M304.9 216.3L411.5 217.3M304.9 216.3L297.6 222.7M282.8 215.1L271.4 214M282.8 215.1L255.2 229.3M230.7 220.5L269.6 214.1M230.7 220.5L222.1 228.3M271.4 214L269.6 214.1M222.1 228.3L231.8 233.4M255.2 229.3L231.8 233.4M270.7 206.6L271.4 214M270.7 206.6L430.6 217.3M304.9 216.3L282.8 215.1M287.3 225.4L255.2 229.3M196.9 213.8L230.7 220.5M196.9 213.8L269.6 214.1M192.1 213.5L196.9 213.8M166.9 217.6L222.1 228.3M123.3 220.5L138.5 218.1M230.2 234.9L231.8 233.4M877.5 220.6L456.5 217.8M9.4 177L71.1 177.4M9.4 177L80.3 171.1M71.1 177.4L88.6 172.4M80.3 171.1L88.6 172.4M3.6 177.1L9.4 177M3.6 177.1L67.2 184.4M67.2 184.4L86.3 179M86.3 179L71.1 177.4M-286 172.6L3.6 177.1M78.2 169L80.3 171.1M86.3 179L118.1 178.9M118.1 178.9L97 172.5M97 172.5L88.6 172.4M96.1 167.4L113 170.9M113 170.9L97 172.5M270.7 206.6L268.4 205.4M188 211.3L202.1 208.2M202.1 208.2L268.4 205.4M68.8 185.3L84.6 187M68.8 185.3L17.7 189.3M17.7 189.3L83.8 190.2M84.6 187L83.8 190.2M126 179.3L118.1 178.9M139.8 182.5L84.6 187M139.8 182.5L126 179.3M67.2 184.4L68.8 185.3M-472.7 202.8L-216.3 201.2M-216.3 201.2L17.7 189.3M-216.3 201.2L18.6 202.3M18.6 202.3L89.6 195.1M89.6 195.1L83.8 190.2M147.6 202.6L137.1 208.2M147.6 202.6L35.8 204.1M137.1 208.2L93.7 210.7M35.8 204.1L80.3 210.6M80.3 210.6L93.7 210.7M132.7 216.8L93.7 210.7M155 209.7L137.1 208.2M78.3 211.3L80.3 210.6M18.6 202.3L35.8 204.1M344 202.1L287.1 193.1M344 202.1L270.1 204.5M270.1 204.5L267.9 204M267.9 204L270.3 194.8M270.3 194.8L287.1 193.1M960 206.6L799.2 204.4M268.4 205.4L270.1 204.5M799.2 204.4L344 202.1M537.1 124.2L586.3 131.3M238.3 139.8L289 140.6M586.3 131.3L289 140.6M1144.7 179L825.4 157.9M586.3 131.3L825.4 157.9M114.4 167L131.2 167.5M114.4 167L115.8 170.8M115.8 170.8L144.2 171.3M131.2 167.5L151.8 169.7M151.8 169.7L144.2 171.3M109 165.9L114.4 167M124.3 164.9L131.2 167.5M113 170.9L115.8 170.8M126 179.3L144 171.8M144 171.8L144.2 171.3M289.7 192.4L324.1 191.3M289.7 192.4L281.3 189.6M281.3 189.6L308.2 184.1M324.1 191.3L308.2 184.1M799.2 204.4L324.1 191.3M287.1 193.1L289.7 192.4M825.4 157.9L667.8 160.7M545.9 166.1L667.8 160.7M545.9 166.1L310.6 180.8M310.6 180.8L308.2 184.1M270.3 194.8L269 194.8M267.9 204L232 201.1M269 194.8L226.4 195.9M232 201.1L226.4 195.9M265.5 146L269.7 145.6M265.5 146L267.8 152.4M269.7 145.6L297.6 156.1M267.8 152.4L283.2 156M297.6 156.1L283.2 156M667.8 160.7L297.6 156.1M289 140.6L269.7 145.6M266.9 164.1L276.1 166.8M276.1 166.8L291.3 167.9M545.9 166.1L443.1 167.5M443.1 167.5L291.3 167.9M270.7 156.9L283.2 156M270.7 156.9L266.9 164.1M143 146.8L169.2 146.4M143.1 155L181.1 153.1M181.1 153.1L187 150.9M187 150.9L169.2 146.4M175 137.6L180.9 143.7M180.9 143.7L169.2 146.4M181.1 153.1L186.7 155.4M160.3 162.2L163.2 162.5M186.7 155.4L163.2 162.5M163.2 162.5L168 163.5M151.8 169.7L165.5 168M165.5 168L168 163.5M186.7 155.4L220.1 158.5M220.1 158.5L192.5 162.6M168 163.5L192.5 162.6M443.1 167.5L269.1 173.5M291.3 167.9L268.6 170.3M268.6 170.3L264 173.1M269.1 173.5L264 173.1M310.6 180.8L296.1 180.6M269.1 173.5L296.1 180.6M269 194.8L230.6 190.5M226.4 195.9L203.6 193.6M203.6 193.6L230.6 190.5M213.1 150.4L236.3 146.3M213.1 150.4L212.3 150.4M212.3 150.4L198.2 143.8M236.5 145.9L231.4 141.3M236.5 145.9L236.3 146.3M231.4 141.3L198.2 143.8M267.8 152.4L236.3 146.3M270.7 156.9L240.9 157.7M240.9 157.7L239 157.6M239 157.6L213.1 150.4M239 157.6L220.1 158.5M187 150.9L212.3 150.4M180.9 143.7L198.2 143.8M233.5 140.1L231.4 141.3M265.5 146L236.5 145.9M220 166.3L221.9 170.2M220 166.3L237.7 163.4M237.7 163.4L251.4 166.2M225.7 170.5L252.8 167.4M225.7 170.5L221.9 170.2M251.4 166.2L252.9 167.4M252.9 167.4L252.8 167.4M191.8 170.7L206.3 170.6M191.8 170.7L165.5 168M206.3 170.6L221.9 170.2M192.5 162.6L220 166.3M240.9 157.7L237.7 163.4M266.9 164.1L251.4 166.2M237.7 173.3L225.7 170.5M208.1 176.7L237.7 173.3M208.1 176.7L206.3 170.6M276.1 166.8L252.9 167.4M268.6 170.3L252.8 167.4M237.7 173.3L241.3 173.6M264 173.1L243.8 173.7M241.3 173.6L243.8 173.7M277.6 181.2L296.1 180.6M277.6 181.2L268.2 180.1M243.8 173.7L268.2 180.1M281.3 189.6L254.3 185.9M277.6 181.2L257.9 184.5M257.9 184.5L254.3 185.9M230.6 190.5L233.3 187.6M233.3 187.6L239.7 186.9M254.3 185.9L239.7 186.9M144 171.8L182.5 176.9M191.8 170.7L186.1 176.6M182.5 176.9L186.1 176.6M208.1 176.7L206.2 177M186.1 176.6L206.2 177M155 182.3L201.7 183.2M155 182.3L175.6 178.6M175.6 178.6L211 180.6M201.7 183.2L210.1 181.9M210.1 181.9L211 180.6M233.3 187.6L212.9 186.4M201.7 183.2L212.9 186.4M239.7 186.9L221.8 182.3M210.1 181.9L221.8 182.3M257.9 184.5L234.7 181.4M221.8 182.3L234.7 181.4M203.6 193.6L195.5 193.7M212.9 186.4L185.4 188.6M195.5 193.7L186.2 192.1M185.4 188.6L186.2 192.1M155 182.3L148.5 182.7M185.4 188.6L148.5 182.7M182.5 176.9L175.6 178.6M139.8 182.5L143.7 182.8M143.7 182.8L148.5 182.7M232 201.1L179.5 200.3M195.5 193.7L190.2 195.3M179.5 200.3L190.2 195.3M202.1 208.2L174.3 200.8M179.5 200.3L174.3 200.8M147.6 202.6L154.6 201.2M174.3 200.8L154.6 201.2M212.4 178.4L214.2 179.3M212.4 178.4L236.2 177.1M214.2 179.3L234 179.8M236.2 177.1L238.2 179.1M238.2 179.1L234 179.8M206.2 177L212.4 178.4M211 180.6L214.2 179.3M241.3 173.6L236.2 177.1M234.7 181.4L234 179.8M268.2 180.1L238.2 179.1M138.2 189.3L163.3 191.8M138.2 189.3L104.4 195M163.3 191.8L148 194.6M148 194.6L124.8 196.6M104.4 195L124.8 196.6M186.2 192.1L163.3 191.8M143.7 182.8L138.2 189.3M89.6 195.1L104.4 195M190.2 195.3L148 194.6M154.6 201.2L124.8 196.6" stroke="#8a8a8a" stroke-width="0.8" fill="none" opacity="0.7"/><path d="M58.2 218l0.3 -3.2M72.5 218l0.3 -3.2M86.7 218l0.3 -3.2M100.9 218l0.4 -5M115.2 218l0.2 -3.2M129.4 218l0.2 -3.2M143.6 218l0.1 -3.2M157.8 218l0.1 -5M172.1 218l0 -3.2M186.3 218l-0 -3.2M200.5 218l-0 -3.2M214.8 218l-0.1 -5M229 218l-0.1 -3.2M243.2 218l-0.2 -3.2M257.5 218l-0.2 -3.2M271.7 218l-0.4 -5M285.9 218l-0.3 -3.2M300.1 218l-0.3 -3.2M314.4 218l-0.3 -3.2" stroke="#555" stroke-width="0.8"/><g filter="url(#soft3)"><clipPath id="g_top"><path d="M79.5 31.2L291.5 32.1L305.4 40.8L319.4 49.4L329.8 60L347.2 65.2L347.2 84L340 96L300 97L250 96.5L200 98L150 97.5L100 98.5L60 98.5L40 96L28 88L23.7 72L23.7 63.4L41 56.4L49.8 49.4L60.3 44.4L67.3 36.4Z"/></clipPath><clipPath id="g_bot"><path d="M84.3 101.4L200 100L287 100L293.7 109.9L302 118.1L308.5 126.4L315 136.2L321.7 146.1L328.2 155.9L334.8 162.4L332 178L330 186L300 190L250 190.5L200 190L150 190.5L100 190.5L60 189L38.2 185L38.2 162.4L43.2 154.4L46.5 144.4L54.7 134.4L63 126.4L69.5 118.1L76 108.2Z"/></clipPath><g clip-path="url(#g_top)"><path d="M79.5 31.2L291.5 32.1L305.4 40.8L319.4 49.4L329.8 60L347.2 65.2L347.2 84L340 96L300 97L250 96.5L200 98L150 97.5L100 98.5L60 98.5L40 96L28 88L23.7 72L23.7 63.4L41 56.4L49.8 49.4L60.3 44.4L67.3 36.4Z" fill="url(#gG)"/><path d="M20 31.8L38.3 32.8L54 31.9L73.5 33.1L89.7 32.5L102.5 31.5L117 32.7L127.8 33.1L140.6 32L151.1 33.5L170 33.3L187.4 31.6L201.3 32.5L212.7 33.4L227.1 31.8L246.9 31.7L268.1 32.4L284.7 32.2L300.5 31.9L310.9 33.2L323.8 33.1L336.3 33.4M20 38.1L37 38.1L48.4 37.6L68.4 37L89.4 38.4L104.4 37.3L119.8 37.4L141.7 37.4L152 36.8L170.6 38.6L186.6 37.6L203.2 38.1L215.9 37.8L232.5 37.9L244.7 36.9L258.9 38.5L273.1 37.8L286.7 36.8L297.5 38.2L316.8 37.4L335 38M20 42.8L41.9 43.9L59 43.7L74.8 42.7L87.8 43.7L99.8 42.1L119.4 43.5L135.2 43.6L145.8 42.5L159.3 42.8L171.4 42.1L185.4 43.8L207.2 43.4L223 42.5L244.5 43L263.2 42L275.8 43.6L295.3 43.7L312.5 42.8L329.5 43.7L343.2 43M20 47.1L38.2 49L48.5 48.3L66.2 48.8L83.2 47.6L98.1 49L119 47.3L130.1 47.3L140.4 48L152.1 48.8L170 47.3L186.4 47.7L202.4 47.5L214.4 47.4L228.9 48.5L245.5 47.2L264 48.8L283.3 48.7L293.4 48L304.2 48.6L316.3 48.5L329.3 48.5L343.1 47.2M20 53.5L33.5 52.7L50.1 53.5L61.3 52.9L77.4 53.1L99 52.3L117.4 52.7L134.1 51.8L153.9 53.6L168.2 52.3L190.1 51.9L201 51.8L220.8 53.2L236.2 52.9L246.4 52.9L261.7 52.7L276.4 52.5L289.1 51.7L304.3 52.1L322.7 53.3L341.4 52.6M20 57.3L37.6 58.2L48.6 57.3L64.5 57.7L85.2 57.9L102.7 57.8L120.7 58L139.1 57.7L152.1 58.1L166.7 57.5L186.6 58.2L208.5 56.3L222.2 56.9L236.9 56.6L253.6 56.5L267.2 58.2L286.1 57.2L297.4 58.2L315.8 56.7L329.9 57.6L348 56.8M20 61.4L40.1 61.2L58.3 61.3L75.5 61.5L90 62.8L105.6 61.8L123.1 61.5L135.1 61.7L148.4 61.3L169.9 61L189.7 62.8L208.1 60.9L224.1 61L241.4 62.3L254.3 60.9L270.8 61.1L284.6 61.8L305.3 61.6L316.9 62.5L336.8 62L347.4 61.3" stroke="#1010d8" stroke-width="2.2" fill="none" stroke-linejoin="round"/><defs><path id="q161" d="M25 69C26 67 20 64 31 63C41 62 70 62 90 62C110 61 140 61 151 62C161 63 153 65 153 67C152 69 158 72 147 73C137 74 109 74 89 74C69 74 39 73 28 72C17 71 25 70 25 69Z"/></defs><use href="#q161" fill="#00007a" y="1.6"/><use href="#q161" fill="url(#gB)"/><ellipse cx="78.8" cy="65.2" rx="38.2" ry="1.1" fill="#c4c4ff" opacity="0.6"/><defs><path id="q162" d="M40 76C40 75 38 74 43 74C48 73 60 72 69 72C78 72 92 73 97 74C102 74 100 76 100 76C100 77 103 78 98 78C93 79 80 79 71 79C61 79 48 79 43 79C38 78 40 77 40 76Z"/></defs><use href="#q162" fill="#00007a" y="1.3"/><use href="#q162" fill="url(#gB)"/><ellipse cx="65.2" cy="74.4" rx="18.1" ry="0.6" fill="#c4c4ff" opacity="0.6"/><defs><path id="q163" d="M22 75C22 70 21 64 23 62C25 60 31 61 33 61C35 61 33 60 35 63C36 65 42 71 43 75C43 80 40 88 38 91C36 94 35 93 32 93C30 93 25 94 23 91C21 88 22 80 22 75Z"/></defs><use href="#q163" fill="#00007a" y="1.6"/><use href="#q163" fill="url(#gB)"/><ellipse cx="30.6" cy="70.2" rx="6.2" ry="2.9" fill="#c4c4ff" opacity="0.6"/><defs><path id="q164" d="M40 81C39 78 35 73 43 71C50 70 71 72 84 73C97 73 114 72 122 73C129 74 128 76 128 80C128 83 129 89 121 91C113 93 94 91 81 91C69 91 54 91 47 90C40 88 41 84 40 81Z"/></defs><use href="#q164" fill="#3a7a0c" y="1.6"/><use href="#q164" fill="url(#gG)"/><ellipse cx="77" cy="77.2" rx="26.5" ry="1.8" fill="#d4ffa8" opacity="0.5"/><defs><path id="q165" d="M149 73C149 71 153 70 158 68C162 67 171 65 177 65C183 65 191 66 194 68C198 70 200 73 199 75C199 77 197 79 193 80C188 82 179 83 173 83C167 83 162 81 158 80C154 78 149 75 149 73Z"/></defs><use href="#q165" fill="#3a7a0c" y="1.6"/><use href="#q165" fill="url(#gG)"/><ellipse cx="170.4" cy="70.5" rx="15" ry="1.6" fill="#d4ffa8" opacity="0.5"/><defs><path id="q166" d="M49 78C49 77 47 77 52 76C56 76 66 76 74 76C81 76 92 76 96 76C100 76 98 77 98 78C98 79 100 80 96 80C92 81 81 80 74 80C67 80 57 81 52 81C48 80 50 79 49 78Z"/></defs><use href="#q166" fill="#00007a" y="1.1"/><use href="#q166" fill="url(#gB)"/><ellipse cx="70" cy="77.3" rx="14.7" ry="0.6" fill="#c4c4ff" opacity="0.6"/><defs><path id="q167" d="M114 79C114 78 116 77 117 76C118 75 119 76 121 76C123 76 126 75 128 76C130 76 131 78 131 79C131 80 130 82 128 83C127 83 123 82 122 82C120 82 119 83 117 83C116 82 114 80 114 79Z"/></defs><use href="#q167" fill="#00007a" y="1.4"/><use href="#q167" fill="url(#gB)"/><ellipse cx="121.1" cy="77.9" rx="5" ry="0.6" fill="#c4c4ff" opacity="0.6"/><defs><path id="q168" d="M228 63C240 60 283 62 300 62C317 62 322 63 330 64C338 65 344 67 346 70C348 73 345 80 343 84C341 88 342 94 335 96C328 98 312 97 300 97C288 97 271 97 260 96C249 96 240 98 235 95C230 92 229 85 228 80C227 75 216 66 228 63Z"/></defs><use href="#q168" fill="#3a7a0c" y="1.6"/><use href="#q168" fill="url(#gG)"/><ellipse cx="277.6" cy="72.5" rx="35.4" ry="3.1" fill="#d4ffa8" opacity="0.5"/><defs><path id="q169" d="M197 63C203 62 226 61 232 63C238 65 234 70 234 75C234 80 233 90 230 93C227 96 220 94 215 93C210 92 203 88 200 85C197 82 196 76 196 72C196 68 191 65 197 63Z"/></defs><use href="#q169" fill="#00007a" y="1.6"/><use href="#q169" fill="url(#gB)"/><ellipse cx="212" cy="72.3" rx="11.4" ry="2.7" fill="#c4c4ff" opacity="0.6"/><defs><path id="q170" d="M330 63C332 61 344 61 347 63C350 65 348 72 347 76C346 80 344 84 342 84C340 85 336 84 334 80C332 76 328 66 330 63Z"/></defs><use href="#q170" fill="#00007a" y="1.6"/><use href="#q170" fill="url(#gB)"/><ellipse cx="337.2" cy="69.4" rx="5.2" ry="1.9" fill="#c4c4ff" opacity="0.6"/><defs><path id="q171" d="M121 86C121 84 122 82 125 81C129 80 136 80 141 80C146 80 151 80 154 81C158 82 162 85 162 86C161 88 157 90 153 91C150 92 145 92 141 92C136 92 130 93 126 92C123 91 121 88 121 86Z"/></defs><use href="#q171" fill="#3a7a0c" y="1.6"/><use href="#q171" fill="url(#gG)"/><ellipse cx="138.1" cy="83.9" rx="12.2" ry="1.1" fill="#d4ffa8" opacity="0.5"/><defs><path id="q172" d="M171 88C171 86 173 84 176 83C178 82 184 83 187 83C190 83 191 82 194 83C196 83 202 86 202 87C202 89 196 92 193 93C190 95 189 95 186 95C183 95 179 96 176 95C174 94 171 90 171 88Z"/></defs><use href="#q172" fill="#3a7a0c" y="1.6"/><use href="#q172" fill="url(#gG)"/><ellipse cx="183.8" cy="86.4" rx="9.3" ry="1.1" fill="#d4ffa8" opacity="0.5"/><defs><path id="q173" d="M40 93C40 92 41 91 44 90C47 90 53 90 57 90C62 90 68 89 71 90C74 91 75 93 75 94C75 95 72 97 69 98C67 98 62 98 58 98C54 99 46 100 43 99C40 98 40 94 40 93Z"/></defs><use href="#q173" fill="#00007a" y="1.6"/><use href="#q173" fill="url(#gB)"/><ellipse cx="54.9" cy="92.4" rx="10.5" ry="0.8" fill="#c4c4ff" opacity="0.6"/><defs><path id="q174" d="M98 94C98 92 100 90 101 89C103 87 105 87 107 87C109 87 112 88 114 89C116 89 119 91 120 92C120 94 117 96 116 97C114 98 110 98 108 98C106 98 103 98 101 97C100 96 98 95 98 94Z"/></defs><use href="#q174" fill="#00007a" y="1.6"/><use href="#q174" fill="url(#gB)"/><ellipse cx="106.8" cy="90.1" rx="6.6" ry="1" fill="#c4c4ff" opacity="0.6"/><defs><path id="q175" d="M151 89C151 87 154 84 156 83C158 82 159 83 161 83C163 83 166 82 169 83C171 84 175 89 176 91C176 93 173 93 170 94C168 96 164 98 162 98C159 98 158 97 156 95C154 94 151 91 151 89Z"/></defs><use href="#q175" fill="#00007a" y="1.6"/><use href="#q175" fill="url(#gB)"/><ellipse cx="161.2" cy="87.5" rx="7.4" ry="1.4" fill="#c4c4ff" opacity="0.6"/><defs><path id="q176" d="M126 90C125 89 128 87 131 86C133 85 137 85 140 85C143 85 146 86 148 87C150 88 150 89 150 90C150 92 150 93 148 94C146 95 142 95 139 95C136 95 134 95 131 94C129 93 126 91 126 90Z"/></defs><use href="#q176" fill="#3a7a0c" y="1.6"/><use href="#q176" fill="url(#gG)"/><ellipse cx="136" cy="88.2" rx="7.4" ry="0.9" fill="#d4ffa8" opacity="0.5"/><defs><path id="q177" d="M239 85C239 84 241 83 243 82C245 82 249 81 252 81C255 81 258 82 259 82C261 83 261 84 261 85C261 86 261 87 259 88C258 88 254 89 251 89C249 89 245 88 243 87C241 87 240 86 239 85Z"/></defs><use href="#q177" fill="#00007a" y="1.4"/><use href="#q177" fill="url(#gB)"/><ellipse cx="248.7" cy="83.6" rx="6.6" ry="0.7" fill="#c4c4ff" opacity="0.6"/><ellipse cx="310" cy="72" rx="9" ry="3" fill="#e0f040"/></g><g clip-path="url(#g_bot)"><path d="M84.3 101.4L200 100L287 100L293.7 109.9L302 118.1L308.5 126.4L315 136.2L321.7 146.1L328.2 155.9L334.8 162.4L332 178L330 186L300 190L250 190.5L200 190L150 190.5L100 190.5L60 189L38.2 185L38.2 162.4L43.2 154.4L46.5 144.4L54.7 134.4L63 126.4L69.5 118.1L76 108.2Z" fill="#1010d0"/><defs><path id="q178" d="M26 102C26 101 20 100 28 100C35 99 57 99 71 100C86 100 107 99 115 100C123 100 116 101 116 102C116 102 123 103 115 103C108 104 86 104 72 104C57 104 35 104 28 103C20 103 26 102 26 102Z"/></defs><use href="#q178" fill="#3a7a0c" y="1"/><use href="#q178" fill="url(#gG)"/><ellipse cx="64" cy="100.8" rx="27.1" ry="0.6" fill="#d4ffa8" opacity="0.5"/><defs><path id="q179" d="M116 101C116 101 110 100 117 100C125 99 147 99 162 99C177 100 199 99 207 100C215 100 209 101 209 102C209 102 215 103 207 103C199 104 177 104 162 104C147 104 125 104 117 103C110 103 116 102 116 101Z"/></defs><use href="#q179" fill="#3a7a0c" y="1"/><use href="#q179" fill="url(#gG)"/><ellipse cx="154.6" cy="100.7" rx="27.9" ry="0.6" fill="#d4ffa8" opacity="0.5"/><defs><path id="q180" d="M195 101C195 101 190 100 197 100C203 100 220 99 232 99C244 99 262 99 268 100C274 100 270 101 270 101C270 102 274 103 268 103C262 104 244 104 232 104C220 104 203 104 197 103C191 103 195 102 195 101Z"/></defs><use href="#q180" fill="#3a7a0c" y="1"/><use href="#q180" fill="url(#gG)"/><ellipse cx="226.4" cy="100.7" rx="22.5" ry="0.6" fill="#d4ffa8" opacity="0.5"/><defs><path id="q181" d="M260 102C260 101 253 100 261 100C269 99 291 99 307 99C322 99 344 99 352 100C360 100 354 101 354 102C354 102 360 103 352 103C344 104 322 104 306 104C291 104 269 104 261 103C253 103 260 102 260 102Z"/></defs><use href="#q181" fill="#3a7a0c" y="1"/><use href="#q181" fill="url(#gG)"/><ellipse cx="299.1" cy="100.7" rx="28.2" ry="0.6" fill="#d4ffa8" opacity="0.5"/><defs><path id="q182" d="M23 104C23 104 20 103 24 103C28 103 41 103 49 103C58 103 70 103 75 103C79 103 76 104 76 104C76 105 79 105 75 106C70 106 58 106 49 106C41 106 28 106 24 106C20 105 23 105 23 104Z"/></defs><use href="#q182" fill="#00007a" y="0.9"/><use href="#q182" fill="url(#gB)"/><ellipse cx="45" cy="103.7" rx="16" ry="0.6" fill="#c4c4ff" opacity="0.6"/><defs><path id="q183" d="M68 104C68 104 62 103 70 103C78 103 101 103 117 103C133 103 156 103 164 103C172 103 166 104 166 104C166 105 172 106 164 106C156 106 133 106 117 106C101 106 78 106 70 106C62 106 68 105 68 104Z"/></defs><use href="#q183" fill="#00007a" y="0.9"/><use href="#q183" fill="url(#gB)"/><ellipse cx="109.3" cy="103.6" rx="29.2" ry="0.6" fill="#c4c4ff" opacity="0.6"/><defs><path id="q184" d="M160 104C160 104 154 103 161 103C168 103 188 103 202 103C215 103 235 103 242 103C249 103 243 104 243 104C243 105 249 106 242 106C235 106 215 106 201 106C188 106 168 106 161 106C154 105 160 105 160 104Z"/></defs><use href="#q184" fill="#00007a" y="0.9"/><use href="#q184" fill="url(#gB)"/><ellipse cx="194.9" cy="103.7" rx="25" ry="0.6" fill="#c4c4ff" opacity="0.6"/><defs><path id="q185" d="M237 104C237 104 230 103 238 103C246 103 269 103 284 103C300 103 323 103 331 103C339 103 333 104 333 104C333 105 339 105 331 106C323 106 300 106 285 106C269 106 246 106 238 106C230 105 237 105 237 104Z"/></defs><use href="#q185" fill="#00007a" y="0.9"/><use href="#q185" fill="url(#gB)"/><ellipse cx="277" cy="103.7" rx="28.7" ry="0.6" fill="#c4c4ff" opacity="0.6"/><defs><path id="q186" d="M323 104C323 104 320 103 324 103C329 103 343 103 353 103C362 103 376 103 381 103C386 103 382 104 382 104C382 105 385 105 381 106C376 106 362 106 352 106C343 106 329 106 325 106C320 105 323 105 323 104Z"/></defs><use href="#q186" fill="#00007a" y="0.9"/><use href="#q186" fill="url(#gB)"/><ellipse cx="347.8" cy="103.8" rx="17.7" ry="0.6" fill="#c4c4ff" opacity="0.6"/><defs><path id="q187" d="M23 108C23 107 17 106 24 106C32 105 54 106 69 106C84 106 106 106 114 106C122 106 116 107 116 108C116 108 122 109 114 109C107 110 84 110 69 110C54 110 32 110 24 110C17 109 23 108 23 108Z"/></defs><use href="#q187" fill="#3a7a0c" y="1"/><use href="#q187" fill="url(#gG)"/><ellipse cx="61.7" cy="106.8" rx="28" ry="0.6" fill="#d4ffa8" opacity="0.5"/><defs><path id="q188" d="M103 108C103 107 101 106 105 106C108 106 118 105 125 105C132 105 142 106 145 106C149 106 147 107 147 108C147 108 149 109 145 110C142 110 132 110 125 110C118 110 108 110 105 110C101 109 103 108 103 108Z"/></defs><use href="#q188" fill="#3a7a0c" y="1"/><use href="#q188" fill="url(#gG)"/><ellipse cx="121.5" cy="106.7" rx="13.1" ry="0.6" fill="#d4ffa8" opacity="0.5"/><defs><path id="q189" d="M144 108C144 107 139 106 145 106C152 105 171 106 184 106C197 106 216 106 223 106C230 106 225 107 225 108C225 108 229 109 223 109C216 110 197 110 184 110C171 110 152 110 146 109C139 109 144 108 144 108Z"/></defs><use href="#q189" fill="#3a7a0c" y="1"/><use href="#q189" fill="url(#gG)"/><ellipse cx="177.8" cy="106.8" rx="24.2" ry="0.6" fill="#d4ffa8" opacity="0.5"/><defs><path id="q190" d="M215 108C215 107 212 106 216 106C221 105 234 105 243 105C252 105 265 105 269 106C274 106 271 107 271 108C271 108 274 109 269 109C264 110 251 110 243 110C234 110 221 110 216 109C212 109 215 108 215 108Z"/></defs><use href="#q190" fill="#3a7a0c" y="1.1"/><use href="#q190" fill="url(#gG)"/><ellipse cx="238.3" cy="106.7" rx="16.9" ry="0.6" fill="#d4ffa8" opacity="0.5"/><defs><path id="q191" d="M263 108C263 107 261 106 265 106C268 106 278 105 284 105C291 105 300 106 303 106C307 106 305 107 305 108C305 108 307 109 303 110C300 110 290 110 284 110C277 110 268 110 265 109C261 109 263 108 263 108Z"/></defs><use href="#q191" fill="#3a7a0c" y="1.1"/><use href="#q191" fill="url(#gG)"/><ellipse cx="280.8" cy="106.7" rx="12.6" ry="0.6" fill="#d4ffa8" opacity="0.5"/><defs><path id="q192" d="M302 108C302 107 297 106 303 106C310 105 330 105 343 105C355 105 374 105 381 106C388 106 383 107 383 108C383 108 388 109 381 109C374 110 355 110 342 110C329 110 310 110 304 109C297 109 302 108 302 108Z"/></defs><use href="#q192" fill="#3a7a0c" y="1"/><use href="#q192" fill="url(#gG)"/><ellipse cx="336" cy="106.7" rx="24.3" ry="0.6" fill="#d4ffa8" opacity="0.5"/><defs><path id="q193" d="M5 110C5 110 2 109 6 109C10 109 21 109 28 109C36 109 47 109 51 109C55 110 52 110 52 111C52 111 54 112 51 112C47 112 36 112 28 112C21 112 10 112 6 112C2 112 5 111 5 110Z"/></defs><use href="#q193" fill="#00007a" y="0.9"/><use href="#q193" fill="url(#gB)"/><ellipse cx="24.6" cy="109.8" rx="14.2" ry="0.6" fill="#c4c4ff" opacity="0.6"/><defs><path id="q194" d="M52 110C52 110 46 109 53 109C59 109 78 109 91 109C103 109 121 109 128 109C134 109 129 110 129 111C129 111 134 112 128 112C121 112 103 112 91 112C78 112 59 112 53 112C47 112 52 111 52 110Z"/></defs><use href="#q194" fill="#00007a" y="0.9"/><use href="#q194" fill="url(#gB)"/><ellipse cx="84.3" cy="109.8" rx="23.3" ry="0.6" fill="#c4c4ff" opacity="0.6"/><defs><path id="q195" d="M122 111C123 110 116 109 124 109C131 109 152 109 166 109C181 109 202 109 209 109C217 109 211 110 211 110C211 111 217 112 209 112C202 112 181 112 167 112C152 112 131 112 124 112C116 112 122 111 122 111Z"/></defs><use href="#q195" fill="#00007a" y="0.9"/><use href="#q195" fill="url(#gB)"/><ellipse cx="159.5" cy="109.9" rx="26.4" ry="0.6" fill="#c4c4ff" opacity="0.6"/><defs><path id="q196" d="M207 110C207 110 202 109 209 109C215 109 233 109 245 109C258 109 276 109 282 109C289 109 284 110 284 111C284 111 289 112 282 112C276 112 258 112 245 112C233 112 215 112 209 112C202 112 207 111 207 110Z"/></defs><use href="#q196" fill="#00007a" y="0.9"/><use href="#q196" fill="url(#gB)"/><ellipse cx="239.3" cy="109.9" rx="23.1" ry="0.6" fill="#c4c4ff" opacity="0.6"/><defs><path id="q197" d="M273 110C273 110 267 109 275 109C283 109 306 109 322 109C338 109 362 109 370 109C378 109 371 110 371 110C371 111 378 112 370 112C362 112 338 112 322 112C306 112 283 112 275 112C266 112 273 111 273 110Z"/></defs><use href="#q197" fill="#00007a" y="0.9"/><use href="#q197" fill="url(#gB)"/><ellipse cx="314.3" cy="109.7" rx="29.3" ry="0.6" fill="#c4c4ff" opacity="0.6"/><defs><path id="q198" d="M17 114C17 113 13 112 19 112C25 112 42 112 53 112C65 112 82 112 88 112C94 112 89 113 89 114C89 114 93 115 87 116C81 116 65 116 53 116C42 116 25 116 19 115C13 115 17 114 17 114Z"/></defs><use href="#q198" fill="#3a7a0c" y="1"/><use href="#q198" fill="url(#gG)"/><ellipse cx="47.2" cy="112.9" rx="21.6" ry="0.6" fill="#d4ffa8" opacity="0.5"/><defs><path id="q199" d="M85 114C85 113 82 112 86 112C91 112 102 112 110 112C118 112 130 112 134 112C138 112 135 113 135 114C135 114 138 115 134 115C130 116 118 116 110 116C102 116 91 116 87 115C83 115 85 114 85 114Z"/></defs><use href="#q199" fill="#3a7a0c" y="1"/><use href="#q199" fill="url(#gG)"/><ellipse cx="106.2" cy="113" rx="15" ry="0.6" fill="#d4ffa8" opacity="0.5"/><defs><path id="q200" d="M133 114C133 113 129 112 135 112C141 112 157 112 168 112C179 112 196 112 201 112C207 113 203 113 203 114C203 114 207 115 201 115C195 116 179 116 168 116C157 116 141 116 135 116C129 115 133 114 133 114Z"/></defs><use href="#q200" fill="#3a7a0c" y="1"/><use href="#q200" fill="url(#gG)"/><ellipse cx="162.7" cy="113" rx="20.9" ry="0.6" fill="#d4ffa8" opacity="0.5"/><defs><path id="q201" d="M194 114C194 113 188 112 196 112C203 112 225 112 240 112C254 112 276 112 284 112C291 112 285 113 285 114C285 114 291 115 283 116C276 116 254 116 240 116C225 116 203 116 196 116C188 115 194 114 194 114Z"/></defs><use href="#q201" fill="#3a7a0c" y="1"/><use href="#q201" fill="url(#gG)"/><ellipse cx="232.4" cy="113" rx="27.4" ry="0.6" fill="#d4ffa8" opacity="0.5"/><defs><path id="q202" d="M282 114C282 113 276 112 284 112C292 112 314 112 329 112C345 112 367 112 375 112C383 112 377 113 377 114C377 115 383 115 375 116C368 116 345 116 330 116C315 116 292 116 284 116C276 115 282 114 282 114Z"/></defs><use href="#q202" fill="#3a7a0c" y="1"/><use href="#q202" fill="url(#gG)"/><ellipse cx="322.1" cy="112.9" rx="28.3" ry="0.6" fill="#d4ffa8" opacity="0.5"/><defs><path id="q203" d="M6 117C6 116 0 116 8 115C16 115 38 115 54 115C69 115 92 115 100 115C107 115 101 116 101 116C101 117 108 117 100 118C92 118 69 118 54 118C38 118 16 118 8 118C0 118 6 117 6 117Z"/></defs><use href="#q203" fill="#00007a" y="0.9"/><use href="#q203" fill="url(#gB)"/><ellipse cx="46" cy="115.8" rx="28.4" ry="0.6" fill="#c4c4ff" opacity="0.6"/><defs><path id="q204" d="M99 117C99 116 94 115 101 115C107 115 126 115 138 115C151 115 169 115 176 115C182 115 177 116 177 116C177 117 182 117 176 118C169 118 150 118 138 118C126 118 107 118 101 118C95 117 99 117 99 117Z"/></defs><use href="#q204" fill="#00007a" y="0.9"/><use href="#q204" fill="url(#gB)"/><ellipse cx="132" cy="115.9" rx="23.3" ry="0.6" fill="#c4c4ff" opacity="0.6"/><defs><path id="q205" d="M176 116C176 116 168 115 177 115C186 115 212 115 230 115C247 115 273 115 282 115C291 115 284 116 284 116C284 117 291 117 282 118C273 118 247 118 230 118C212 118 186 118 177 118C168 118 176 117 176 116Z"/></defs><use href="#q205" fill="#00007a" y="0.9"/><use href="#q205" fill="url(#gB)"/><ellipse cx="221.2" cy="115.9" rx="32.4" ry="0.6" fill="#c4c4ff" opacity="0.6"/><defs><path id="q206" d="M274 116C274 116 266 115 275 115C284 115 310 115 327 115C344 115 370 115 379 115C387 115 380 116 380 116C380 117 387 118 379 118C370 118 344 118 327 118C310 118 284 118 275 118C266 117 274 117 274 116Z"/></defs><use href="#q206" fill="#00007a" y="0.9"/><use href="#q206" fill="url(#gB)"/><ellipse cx="318.4" cy="115.8" rx="31.7" ry="0.6" fill="#c4c4ff" opacity="0.6"/><defs><path id="q207" d="M10 120C10 119 7 118 12 118C17 117 31 117 41 117C50 117 64 117 69 118C75 118 72 119 72 120C72 121 74 122 69 122C64 122 50 122 40 122C31 122 17 122 12 122C7 122 10 121 10 120Z"/></defs><use href="#q207" fill="#3a7a0c" y="1.1"/><use href="#q207" fill="url(#gG)"/><ellipse cx="36.1" cy="118.9" rx="18.4" ry="0.6" fill="#d4ffa8" opacity="0.5"/><defs><path id="q208" d="M68 120C68 119 64 118 70 118C76 117 94 117 106 118C118 118 136 117 143 118C149 118 144 119 144 120C144 121 149 121 142 122C136 122 118 122 106 122C94 122 76 122 70 122C63 121 68 120 68 120Z"/></defs><use href="#q208" fill="#3a7a0c" y="1.1"/><use href="#q208" fill="url(#gG)"/><ellipse cx="99.8" cy="119" rx="22.9" ry="0.6" fill="#d4ffa8" opacity="0.5"/><defs><path id="q209" d="M142 120C142 119 137 119 143 118C150 118 168 118 181 118C193 118 212 118 219 118C225 118 221 119 220 120C220 121 225 122 218 122C212 123 193 122 181 122C168 122 150 122 143 122C137 122 142 121 142 120Z"/></defs><use href="#q209" fill="#3a7a0c" y="1"/><use href="#q209" fill="url(#gG)"/><ellipse cx="174.7" cy="119" rx="23.7" ry="0.6" fill="#d4ffa8" opacity="0.5"/><defs><path id="q210" d="M210 120C210 119 204 118 212 118C220 117 243 117 258 117C274 117 296 117 304 118C312 118 306 119 306 120C306 121 312 122 304 122C296 122 274 122 258 122C243 122 220 122 212 122C204 121 210 120 210 120Z"/></defs><use href="#q210" fill="#3a7a0c" y="1.1"/><use href="#q210" fill="url(#gG)"/><ellipse cx="250.6" cy="118.9" rx="28.8" ry="0.6" fill="#d4ffa8" opacity="0.5"/><defs><path id="q211" d="M299 120C299 119 294 118 302 118C309 117 331 117 346 117C361 117 383 118 391 118C398 118 393 119 393 120C392 121 398 122 390 122C383 122 361 122 346 122C331 122 309 122 301 122C293 122 299 121 299 120Z"/></defs><use href="#q211" fill="#3a7a0c" y="1.1"/><use href="#q211" fill="url(#gG)"/><ellipse cx="338.4" cy="118.8" rx="28" ry="0.6" fill="#d4ffa8" opacity="0.5"/><defs><path id="q212" d="M30 123C30 122 25 122 31 121C38 121 57 121 69 121C82 121 101 121 107 121C114 122 109 123 109 123C109 124 114 124 107 125C101 125 82 125 70 125C57 125 38 125 31 125C25 125 30 124 30 123Z"/></defs><use href="#q212" fill="#00007a" y="1"/><use href="#q212" fill="url(#gB)"/><ellipse cx="63.1" cy="122.4" rx="23.7" ry="0.6" fill="#c4c4ff" opacity="0.6"/><defs><path id="q213" d="M106 123C106 123 100 122 107 121C115 121 137 121 152 121C167 121 189 121 196 122C204 122 198 123 198 123C198 124 204 125 196 125C189 125 167 125 152 125C137 125 115 125 107 125C100 125 106 124 106 123Z"/></defs><use href="#q213" fill="#00007a" y="1"/><use href="#q213" fill="url(#gB)"/><ellipse cx="144.5" cy="122.4" rx="27.5" ry="0.6" fill="#c4c4ff" opacity="0.6"/><defs><path id="q214" d="M196 123C196 122 192 122 198 122C203 121 219 121 229 121C239 121 255 121 260 121C266 122 261 122 262 123C262 124 266 124 260 125C255 125 239 125 229 125C218 125 203 125 198 125C193 124 196 124 196 123Z"/></defs><use href="#q214" fill="#00007a" y="1"/><use href="#q214" fill="url(#gB)"/><ellipse cx="223.6" cy="122.3" rx="19.6" ry="0.6" fill="#c4c4ff" opacity="0.6"/><defs><path id="q215" d="M253 123C253 122 249 122 254 122C260 121 276 121 287 121C298 121 314 121 320 122C325 122 321 123 321 123C321 124 325 124 320 125C314 125 298 125 287 125C276 125 260 125 254 125C249 124 253 123 253 123Z"/></defs><use href="#q215" fill="#00007a" y="1"/><use href="#q215" fill="url(#gB)"/><ellipse cx="281.3" cy="122.4" rx="20.5" ry="0.6" fill="#c4c4ff" opacity="0.6"/><defs><path id="q216" d="M312 123C312 122 308 122 314 121C321 121 339 121 351 121C364 121 382 121 389 121C395 122 391 123 391 123C391 124 396 124 389 125C383 125 364 125 352 125C339 125 321 125 314 125C308 124 312 124 312 123Z"/></defs><use href="#q216" fill="#00007a" y="1"/><use href="#q216" fill="url(#gB)"/><ellipse cx="345.2" cy="122.4" rx="23.4" ry="0.6" fill="#c4c4ff" opacity="0.6"/><defs><path id="q217" d="M13 127C13 126 11 125 14 125C18 124 27 125 33 125C40 125 49 124 52 125C56 125 54 126 54 127C54 127 56 128 53 129C49 129 40 129 33 129C27 129 18 129 14 129C11 128 13 127 13 127Z"/></defs><use href="#q217" fill="#3a7a0c" y="1"/><use href="#q217" fill="url(#gG)"/><ellipse cx="30.2" cy="125.9" rx="12.5" ry="0.6" fill="#d4ffa8" opacity="0.5"/><defs><path id="q218" d="M51 127C51 126 46 125 52 125C59 124 76 124 88 124C100 124 117 124 124 125C130 125 125 126 125 127C125 127 130 128 124 128C117 129 100 129 88 129C76 129 59 129 53 129C46 128 51 127 51 127Z"/></defs><use href="#q218" fill="#3a7a0c" y="1"/><use href="#q218" fill="url(#gG)"/><ellipse cx="81.9" cy="125.8" rx="22.4" ry="0.6" fill="#d4ffa8" opacity="0.5"/><defs><path id="q219" d="M114 127C114 126 110 125 116 125C123 124 142 124 155 124C167 124 186 124 193 125C199 125 195 126 195 127C195 127 200 128 193 128C186 129 167 129 154 129C142 129 123 129 117 128C110 128 114 127 114 127Z"/></defs><use href="#q219" fill="#3a7a0c" y="1"/><use href="#q219" fill="url(#gG)"/><ellipse cx="148.1" cy="125.7" rx="24.1" ry="0.6" fill="#d4ffa8" opacity="0.5"/><defs><path id="q220" d="M185 127C185 126 183 125 187 125C191 124 201 124 208 124C215 124 226 124 230 125C234 125 231 126 231 127C231 127 233 128 229 128C226 129 215 129 208 129C201 129 191 129 187 129C183 128 185 127 185 127Z"/></defs><use href="#q220" fill="#3a7a0c" y="1.1"/><use href="#q220" fill="url(#gG)"/><ellipse cx="204.3" cy="125.8" rx="13.9" ry="0.6" fill="#d4ffa8" opacity="0.5"/><defs><path id="q221" d="M231 127C231 126 226 125 232 125C238 124 255 124 267 124C278 125 294 124 300 125C306 125 302 126 302 127C302 127 306 128 300 128C295 129 278 129 267 129C255 129 238 129 232 129C227 128 231 127 231 127Z"/></defs><use href="#q221" fill="#3a7a0c" y="1"/><use href="#q221" fill="url(#gG)"/><ellipse cx="260.9" cy="125.8" rx="21.4" ry="0.6" fill="#d4ffa8" opacity="0.5"/><defs><path id="q222" d="M301 127C301 126 297 125 303 125C309 125 325 124 337 124C348 124 364 124 370 125C376 125 372 126 372 127C372 127 376 128 370 129C364 129 348 129 337 129C326 129 309 129 303 129C297 128 301 127 301 127Z"/></defs><use href="#q222" fill="#3a7a0c" y="1"/><use href="#q222" fill="url(#gG)"/><ellipse cx="330.9" cy="125.7" rx="21.3" ry="0.6" fill="#d4ffa8" opacity="0.5"/><defs><path id="q223" d="M7 130C7 129 3 128 9 128C14 128 31 128 42 128C53 128 70 128 76 128C81 128 77 129 77 130C77 130 81 131 75 131C70 131 53 131 42 131C31 131 15 131 9 131C3 131 7 130 7 130Z"/></defs><use href="#q223" fill="#00007a" y="0.9"/><use href="#q223" fill="url(#gB)"/><ellipse cx="36.5" cy="128.8" rx="20.9" ry="0.6" fill="#c4c4ff" opacity="0.6"/><defs><path id="q224" d="M73 130C73 129 67 129 74 128C82 128 105 128 120 128C136 128 158 128 166 128C173 129 167 129 167 130C167 130 173 131 166 131C158 131 135 131 120 131C105 131 82 131 75 131C67 131 73 130 73 130Z"/></defs><use href="#q224" fill="#00007a" y="0.9"/><use href="#q224" fill="url(#gB)"/><ellipse cx="112.6" cy="128.8" rx="28.2" ry="0.6" fill="#c4c4ff" opacity="0.6"/><defs><path id="q225" d="M164 130C163 129 158 128 165 128C172 128 193 128 206 128C220 128 240 128 248 128C255 128 249 129 249 129C249 130 255 131 248 131C241 131 220 131 206 131C192 131 172 131 165 131C158 131 164 130 164 130Z"/></defs><use href="#q225" fill="#00007a" y="0.9"/><use href="#q225" fill="url(#gB)"/><ellipse cx="199.6" cy="128.8" rx="25.7" ry="0.6" fill="#c4c4ff" opacity="0.6"/><defs><path id="q226" d="M239 129C239 129 235 128 241 128C247 128 263 128 274 128C286 128 302 128 308 128C314 128 310 129 310 130C310 130 314 131 308 131C303 131 286 131 275 131C263 131 247 131 241 131C235 131 239 130 239 129Z"/></defs><use href="#q226" fill="#00007a" y="0.9"/><use href="#q226" fill="url(#gB)"/><ellipse cx="268.9" cy="128.8" rx="21" ry="0.6" fill="#c4c4ff" opacity="0.6"/><defs><path id="q227" d="M303 130C303 129 298 128 305 128C311 128 328 128 340 128C352 128 370 128 376 128C382 128 377 129 377 130C377 130 382 131 376 131C370 131 352 131 340 131C328 131 311 131 304 131C298 131 303 130 303 130Z"/></defs><use href="#q227" fill="#00007a" y="0.9"/><use href="#q227" fill="url(#gB)"/><ellipse cx="334.3" cy="128.8" rx="22.3" ry="0.6" fill="#c4c4ff" opacity="0.6"/><defs><path id="q228" d="M19 133C19 133 18 131 21 131C25 131 34 131 40 131C47 131 56 131 59 131C63 132 61 132 61 133C61 134 63 135 59 135C56 135 47 135 40 135C34 135 24 135 21 135C17 135 19 134 19 133Z"/></defs><use href="#q228" fill="#3a7a0c" y="1"/><use href="#q228" fill="url(#gG)"/><ellipse cx="36.8" cy="132.1" rx="12.6" ry="0.6" fill="#d4ffa8" opacity="0.5"/><defs><path id="q229" d="M60 133C60 133 56 132 62 131C68 131 86 131 98 131C110 131 127 131 134 131C140 132 136 132 136 133C136 134 140 135 134 135C127 136 110 135 98 135C86 135 68 135 62 135C55 135 60 134 60 133Z"/></defs><use href="#q229" fill="#3a7a0c" y="1"/><use href="#q229" fill="url(#gG)"/><ellipse cx="91.8" cy="132.2" rx="22.7" ry="0.6" fill="#d4ffa8" opacity="0.5"/><defs><path id="q230" d="M133 133C133 133 128 131 135 131C142 131 162 131 175 131C189 131 209 131 216 131C223 132 218 133 218 133C218 134 223 135 216 135C209 135 189 135 175 135C162 135 142 135 135 135C128 135 133 134 133 133Z"/></defs><use href="#q230" fill="#3a7a0c" y="1"/><use href="#q230" fill="url(#gG)"/><ellipse cx="168.5" cy="132.2" rx="25.4" ry="0.6" fill="#d4ffa8" opacity="0.5"/><defs><path id="q231" d="M214 133C214 132 207 131 216 131C224 131 248 131 264 131C280 131 303 131 312 131C320 131 314 133 314 133C314 134 320 135 312 135C304 135 280 135 264 135C248 135 224 135 216 135C207 135 214 134 214 133Z"/></defs><use href="#q231" fill="#3a7a0c" y="1.1"/><use href="#q231" fill="url(#gG)"/><ellipse cx="255.8" cy="132.1" rx="29.9" ry="0.6" fill="#d4ffa8" opacity="0.5"/><defs><path id="q232" d="M304 133C304 132 301 132 306 131C311 131 326 131 336 131C346 131 361 131 366 131C371 132 368 132 368 133C368 134 371 135 366 135C361 135 346 135 336 135C326 135 311 135 306 135C301 134 304 134 304 133Z"/></defs><use href="#q232" fill="#3a7a0c" y="1.1"/><use href="#q232" fill="url(#gG)"/><ellipse cx="331.1" cy="132" rx="19" ry="0.6" fill="#d4ffa8" opacity="0.5"/><defs><path id="q233" d="M20 136C20 136 15 135 21 135C28 134 47 134 60 134C73 134 92 134 99 135C106 135 100 136 100 136C100 137 106 137 99 137C93 138 73 138 60 138C47 138 28 138 21 138C15 137 20 137 20 136Z"/></defs><use href="#q233" fill="#00007a" y="0.9"/><use href="#q233" fill="url(#gB)"/><ellipse cx="53.9" cy="135.2" rx="24.1" ry="0.6" fill="#c4c4ff" opacity="0.6"/><defs><path id="q234" d="M96 136C96 136 88 135 97 135C106 134 133 134 150 134C168 134 195 134 204 135C213 135 205 136 205 136C205 137 213 137 204 138C195 138 168 138 151 138C133 138 106 138 97 138C88 137 96 137 96 136Z"/></defs><use href="#q234" fill="#00007a" y="0.9"/><use href="#q234" fill="url(#gB)"/><ellipse cx="141.7" cy="135.2" rx="32.9" ry="0.6" fill="#c4c4ff" opacity="0.6"/><defs><path id="q235" d="M192 136C192 136 189 135 193 134C198 134 211 134 220 134C229 134 242 134 247 135C251 135 248 136 248 136C248 137 251 137 246 137C242 138 229 138 220 138C211 138 198 138 194 138C189 137 192 137 192 136Z"/></defs><use href="#q235" fill="#00007a" y="1"/><use href="#q235" fill="url(#gB)"/><ellipse cx="215.6" cy="135.3" rx="16.8" ry="0.6" fill="#c4c4ff" opacity="0.6"/><defs><path id="q236" d="M246 136C246 136 239 135 247 135C255 134 279 134 294 134C310 134 333 134 341 134C349 135 343 136 343 136C343 137 349 137 341 137C333 138 310 138 294 138C279 138 255 138 247 138C239 137 246 137 246 136Z"/></defs><use href="#q236" fill="#00007a" y="0.9"/><use href="#q236" fill="url(#gB)"/><ellipse cx="286.5" cy="135.3" rx="29.1" ry="0.6" fill="#c4c4ff" opacity="0.6"/><defs><path id="q237" d="M335 136C335 136 333 135 336 135C340 134 350 134 357 134C364 134 374 134 377 134C381 135 379 135 379 136C379 136 381 137 377 137C374 138 364 138 357 138C350 138 340 138 336 138C333 137 335 137 335 136Z"/></defs><use href="#q237" fill="#00007a" y="0.9"/><use href="#q237" fill="url(#gB)"/><ellipse cx="353.5" cy="135.3" rx="13.2" ry="0.6" fill="#c4c4ff" opacity="0.6"/><defs><path id="q238" d="M20 140C20 139 17 138 22 138C28 138 43 137 54 137C64 137 80 137 86 138C92 138 88 139 88 140C88 140 92 141 86 142C80 142 65 142 54 142C43 142 28 142 22 142C16 141 20 140 20 140Z"/></defs><use href="#q238" fill="#3a7a0c" y="1.1"/><use href="#q238" fill="url(#gG)"/><ellipse cx="48.6" cy="138.8" rx="20.3" ry="0.6" fill="#d4ffa8" opacity="0.5"/><defs><path id="q239" d="M81 140C81 139 77 138 83 138C90 137 108 137 121 137C133 137 151 138 157 138C164 138 159 139 159 140C159 140 164 141 157 142C151 142 132 142 120 142C108 142 90 142 84 142C77 141 81 140 81 140Z"/></defs><use href="#q239" fill="#3a7a0c" y="1.1"/><use href="#q239" fill="url(#gG)"/><ellipse cx="114.1" cy="138.9" rx="23.5" ry="0.6" fill="#d4ffa8" opacity="0.5"/><defs><path id="q240" d="M154 140C154 139 150 138 156 138C163 137 182 137 195 137C208 137 227 137 234 138C241 138 236 139 236 140C236 141 241 142 234 142C228 142 208 142 195 142C182 142 163 142 156 142C149 142 154 140 154 140Z"/></defs><use href="#q240" fill="#3a7a0c" y="1.1"/><use href="#q240" fill="url(#gG)"/><ellipse cx="188.6" cy="138.5" rx="24.5" ry="0.6" fill="#d4ffa8" opacity="0.5"/><defs><path id="q241" d="M235 140C234 139 229 138 236 138C243 137 263 137 277 137C291 137 311 137 318 138C325 138 320 139 320 140C320 140 325 141 318 142C311 142 291 142 277 142C264 142 244 142 236 142C229 141 235 141 235 140Z"/></defs><use href="#q241" fill="#3a7a0c" y="1.1"/><use href="#q241" fill="url(#gG)"/><ellipse cx="270.2" cy="138.8" rx="25.5" ry="0.6" fill="#d4ffa8" opacity="0.5"/><defs><path id="q242" d="M311 140C311 139 309 138 314 138C318 137 331 137 339 137C348 137 360 137 365 138C369 138 367 139 367 140C367 141 369 141 365 142C360 142 348 142 339 142C330 142 318 142 313 142C309 142 311 140 311 140Z"/></defs><use href="#q242" fill="#3a7a0c" y="1.1"/><use href="#q242" fill="url(#gG)"/><ellipse cx="334.6" cy="138.6" rx="16.6" ry="0.6" fill="#d4ffa8" opacity="0.5"/><defs><path id="q243" d="M24 143C24 142 17 142 25 141C34 141 59 141 76 141C93 141 118 141 127 141C136 142 129 142 129 143C129 143 136 144 127 144C118 145 93 145 76 145C59 145 34 145 25 144C16 144 24 144 24 143Z"/></defs><use href="#q243" fill="#00007a" y="1"/><use href="#q243" fill="url(#gB)"/><ellipse cx="68.1" cy="141.9" rx="31.5" ry="0.6" fill="#c4c4ff" opacity="0.6"/><defs><path id="q244" d="M116 143C116 142 109 141 118 141C126 141 150 141 166 141C182 141 206 141 214 141C222 142 215 142 215 143C215 143 222 144 214 144C206 145 182 145 166 145C150 145 126 145 118 144C109 144 116 143 116 143Z"/></defs><use href="#q244" fill="#00007a" y="0.9"/><use href="#q244" fill="url(#gB)"/><ellipse cx="157.7" cy="142.2" rx="29.8" ry="0.6" fill="#c4c4ff" opacity="0.6"/><defs><path id="q245" d="M214 143C214 142 212 141 215 141C219 141 230 141 237 141C244 141 254 141 258 141C261 142 259 142 259 143C259 143 261 144 258 145C254 145 244 145 237 145C230 145 219 145 215 144C212 144 214 143 214 143Z"/></defs><use href="#q245" fill="#00007a" y="1"/><use href="#q245" fill="url(#gB)"/><ellipse cx="232.9" cy="142.1" rx="13.7" ry="0.6" fill="#c4c4ff" opacity="0.6"/><defs><path id="q246" d="M255 143C255 142 249 142 256 141C263 141 283 141 297 141C310 141 330 141 337 141C345 142 339 142 339 143C339 144 344 144 337 145C330 145 310 145 297 145C283 145 263 145 256 144C249 144 255 143 255 143Z"/></defs><use href="#q246" fill="#00007a" y="0.9"/><use href="#q246" fill="url(#gB)"/><ellipse cx="290.1" cy="142.2" rx="25.3" ry="0.6" fill="#c4c4ff" opacity="0.6"/><defs><path id="q247" d="M328 143C328 142 321 142 330 141C338 141 362 141 377 141C393 141 417 141 425 141C433 141 426 142 426 143C426 143 433 144 425 144C417 145 393 145 377 145C361 145 338 145 330 145C322 144 328 143 328 143Z"/></defs><use href="#q247" fill="#00007a" y="1"/><use href="#q247" fill="url(#gB)"/><ellipse cx="369.3" cy="142.1" rx="29.5" ry="0.6" fill="#c4c4ff" opacity="0.6"/><defs><path id="q248" d="M16 147C16 146 13 145 18 145C22 144 34 144 43 144C51 144 63 144 67 145C72 145 69 146 69 147C69 147 71 148 67 149C63 149 51 149 43 149C34 149 22 149 17 149C13 148 16 147 16 147Z"/></defs><use href="#q248" fill="#3a7a0c" y="1"/><use href="#q248" fill="url(#gG)"/><ellipse cx="38.3" cy="145.6" rx="15.9" ry="0.6" fill="#d4ffa8" opacity="0.5"/><defs><path id="q249" d="M63 147C63 146 59 145 64 145C70 144 87 144 98 144C109 144 125 144 131 144C137 145 132 146 132 146C132 147 137 148 131 149C125 149 109 149 98 149C87 149 70 149 64 148C59 148 63 147 63 147Z"/></defs><use href="#q249" fill="#3a7a0c" y="1"/><use href="#q249" fill="url(#gG)"/><ellipse cx="92.1" cy="145.8" rx="20.9" ry="0.6" fill="#d4ffa8" opacity="0.5"/><defs><path id="q250" d="M129 147C129 146 127 145 131 145C136 144 148 144 156 144C164 144 176 144 181 145C185 145 182 146 182 147C183 147 185 148 181 148C176 149 164 149 156 149C148 149 136 149 131 149C127 148 129 147 129 147Z"/></defs><use href="#q250" fill="#3a7a0c" y="1.1"/><use href="#q250" fill="url(#gG)"/><ellipse cx="151.7" cy="145.8" rx="15.9" ry="0.6" fill="#d4ffa8" opacity="0.5"/><defs><path id="q251" d="M180 147C180 146 177 145 182 145C187 144 201 144 210 144C219 144 233 144 238 145C243 145 240 146 240 146C240 147 243 148 238 148C233 149 220 149 210 149C201 149 187 149 182 149C177 148 180 147 180 147Z"/></defs><use href="#q251" fill="#3a7a0c" y="1.1"/><use href="#q251" fill="url(#gG)"/><ellipse cx="205.3" cy="145.8" rx="17.9" ry="0.6" fill="#d4ffa8" opacity="0.5"/><defs><path id="q252" d="M237 147C237 146 234 145 239 145C244 144 259 144 268 144C278 144 292 144 297 145C303 145 299 146 299 147C299 147 303 148 298 149C292 149 278 149 268 149C258 149 244 149 239 149C234 148 237 147 237 147Z"/></defs><use href="#q252" fill="#3a7a0c" y="1.1"/><use href="#q252" fill="url(#gG)"/><ellipse cx="263.1" cy="145.6" rx="18.6" ry="0.6" fill="#d4ffa8" opacity="0.5"/><defs><path id="q253" d="M291 147C292 146 290 145 294 145C298 144 309 144 316 144C323 144 334 144 338 145C342 145 340 146 340 146C340 147 343 148 338 149C334 149 323 149 316 149C308 149 297 149 293 149C289 148 291 147 291 147Z"/></defs><use href="#q253" fill="#3a7a0c" y="1.1"/><use href="#q253" fill="url(#gG)"/><ellipse cx="312" cy="145.8" rx="14.6" ry="0.6" fill="#d4ffa8" opacity="0.5"/><defs><path id="q254" d="M333 147C333 146 328 145 335 145C342 144 361 144 374 144C387 144 406 144 413 145C420 145 415 146 415 147C415 147 420 148 413 149C406 149 387 149 374 149C361 149 342 149 335 149C328 148 333 147 333 147Z"/></defs><use href="#q254" fill="#3a7a0c" y="1.1"/><use href="#q254" fill="url(#gG)"/><ellipse cx="367.6" cy="145.8" rx="24.7" ry="0.6" fill="#d4ffa8" opacity="0.5"/><defs><path id="q255" d="M3 150C3 149 -3 149 5 148C14 148 38 148 54 148C71 148 95 148 104 148C112 148 106 149 105 150C105 150 112 151 104 151C95 152 71 152 55 152C38 152 14 152 5 151C-3 151 4 150 3 150Z"/></defs><use href="#q255" fill="#00007a" y="1"/><use href="#q255" fill="url(#gB)"/><ellipse cx="46.3" cy="148.9" rx="30.6" ry="0.6" fill="#c4c4ff" opacity="0.6"/><defs><path id="q256" d="M100 150C100 149 98 148 101 148C105 148 114 148 121 148C127 148 137 148 140 148C143 148 141 149 141 150C141 150 144 151 140 151C137 152 127 152 121 152C114 152 105 152 102 151C98 151 100 150 100 150Z"/></defs><use href="#q256" fill="#00007a" y="1"/><use href="#q256" fill="url(#gB)"/><ellipse cx="117.5" cy="148.9" rx="12.3" ry="0.6" fill="#c4c4ff" opacity="0.6"/><defs><path id="q257" d="M140 150C140 149 134 148 141 148C148 148 168 148 181 148C194 148 213 148 220 148C227 149 222 149 222 150C222 150 227 151 220 151C213 152 194 152 181 152C168 152 148 151 141 151C134 151 140 150 140 150Z"/></defs><use href="#q257" fill="#00007a" y="1"/><use href="#q257" fill="url(#gB)"/><ellipse cx="174.1" cy="148.9" rx="24.6" ry="0.6" fill="#c4c4ff" opacity="0.6"/><defs><path id="q258" d="M215 150C215 149 210 149 216 148C222 148 240 148 252 148C264 148 282 148 288 148C295 148 290 149 290 150C290 150 294 151 288 151C282 152 264 152 252 152C240 152 223 152 216 151C210 151 215 150 215 150Z"/></defs><use href="#q258" fill="#00007a" y="1"/><use href="#q258" fill="url(#gB)"/><ellipse cx="246.3" cy="148.9" rx="22.5" ry="0.6" fill="#c4c4ff" opacity="0.6"/><defs><path id="q259" d="M289 150C289 149 285 148 291 148C296 148 312 148 323 148C333 148 348 148 354 148C359 148 355 149 355 150C355 150 359 151 354 151C348 152 333 152 322 152C312 152 296 152 291 151C285 151 290 150 289 150Z"/></defs><use href="#q259" fill="#00007a" y="0.9"/><use href="#q259" fill="url(#gB)"/><ellipse cx="317.2" cy="149.1" rx="19.8" ry="0.6" fill="#c4c4ff" opacity="0.6"/><defs><path id="q260" d="M17 154C17 153 14 152 19 151C24 151 38 151 47 151C57 151 71 151 76 152C82 152 78 153 78 153C78 154 81 155 76 155C71 156 57 156 48 156C38 156 24 156 19 155C14 155 17 154 17 154Z"/></defs><use href="#q260" fill="#3a7a0c" y="1.1"/><use href="#q260" fill="url(#gG)"/><ellipse cx="42.9" cy="152.4" rx="18.4" ry="0.6" fill="#d4ffa8" opacity="0.5"/><defs><path id="q261" d="M76 153C76 153 71 152 78 152C84 151 102 151 115 151C127 151 146 151 152 152C159 152 154 153 154 153C154 154 159 155 152 155C146 156 127 156 115 156C102 156 84 155 78 155C71 155 76 154 76 153Z"/></defs><use href="#q261" fill="#3a7a0c" y="1.1"/><use href="#q261" fill="url(#gG)"/><ellipse cx="108.7" cy="152.3" rx="23.5" ry="0.6" fill="#d4ffa8" opacity="0.5"/><defs><path id="q262" d="M147 153C148 153 144 152 150 151C155 151 172 151 183 151C194 151 211 151 217 151C223 152 219 153 219 154C219 154 223 155 217 155C211 156 195 156 183 156C172 156 155 156 149 155C143 155 147 154 147 153Z"/></defs><use href="#q262" fill="#3a7a0c" y="1.1"/><use href="#q262" fill="url(#gG)"/><ellipse cx="177.4" cy="152.3" rx="21.3" ry="0.6" fill="#d4ffa8" opacity="0.5"/><defs><path id="q263" d="M210 153C210 153 205 152 212 151C219 151 240 151 254 151C268 151 288 151 296 151C303 152 297 153 297 154C297 154 303 155 296 155C288 156 268 156 254 156C240 156 219 156 212 156C205 155 210 154 210 153Z"/></defs><use href="#q263" fill="#3a7a0c" y="1.1"/><use href="#q263" fill="url(#gG)"/><ellipse cx="246.9" cy="152.5" rx="26.1" ry="0.6" fill="#d4ffa8" opacity="0.5"/><defs><path id="q264" d="M285 153C285 153 280 152 287 151C293 151 312 151 324 151C337 151 355 151 361 151C368 152 363 153 363 154C363 154 368 155 362 156C355 156 336 156 324 156C311 156 293 156 287 155C280 155 285 154 285 153Z"/></defs><use href="#q264" fill="#3a7a0c" y="1.1"/><use href="#q264" fill="url(#gG)"/><ellipse cx="317.8" cy="152.4" rx="23.6" ry="0.6" fill="#d4ffa8" opacity="0.5"/><defs><path id="q265" d="M6 156C6 156 1 155 8 155C15 155 34 154 47 154C60 154 79 154 86 155C93 155 88 156 88 156C88 157 93 158 86 158C80 158 60 158 47 158C34 158 15 158 8 158C1 158 6 157 6 156Z"/></defs><use href="#q265" fill="#00007a" y="1"/><use href="#q265" fill="url(#gB)"/><ellipse cx="40.5" cy="155.6" rx="24.3" ry="0.6" fill="#c4c4ff" opacity="0.6"/><defs><path id="q266" d="M83 156C83 156 80 155 84 155C88 155 98 155 105 155C113 155 123 155 127 155C131 155 129 156 129 156C129 157 131 158 127 158C123 158 113 158 106 158C99 158 88 158 84 158C80 158 83 157 83 156Z"/></defs><use href="#q266" fill="#00007a" y="0.9"/><use href="#q266" fill="url(#gB)"/><ellipse cx="102" cy="155.7" rx="13.8" ry="0.6" fill="#c4c4ff" opacity="0.6"/><defs><path id="q267" d="M125 157C125 156 122 155 127 155C131 154 143 154 151 154C159 154 171 154 175 155C180 155 177 156 177 156C177 157 180 158 175 158C171 158 159 158 151 158C143 158 131 158 127 158C122 158 125 157 125 157Z"/></defs><use href="#q267" fill="#00007a" y="0.9"/><use href="#q267" fill="url(#gB)"/><ellipse cx="146.9" cy="155.6" rx="15.5" ry="0.6" fill="#c4c4ff" opacity="0.6"/><defs><path id="q268" d="M175 156C175 156 171 155 177 155C182 155 197 155 207 155C217 155 231 154 237 155C242 155 238 156 238 157C238 157 242 158 236 158C231 158 216 158 206 158C196 158 182 158 177 158C171 158 175 157 175 156Z"/></defs><use href="#q268" fill="#00007a" y="0.9"/><use href="#q268" fill="url(#gB)"/><ellipse cx="201.5" cy="155.7" rx="18.9" ry="0.6" fill="#c4c4ff" opacity="0.6"/><defs><path id="q269" d="M232 156C231 156 229 155 233 155C238 155 251 155 259 155C268 155 281 155 285 155C290 155 287 156 287 157C287 157 290 158 285 158C281 158 268 158 259 158C251 158 238 158 233 158C229 158 232 157 232 156Z"/></defs><use href="#q269" fill="#00007a" y="0.9"/><use href="#q269" fill="url(#gB)"/><ellipse cx="254.7" cy="155.7" rx="16.5" ry="0.6" fill="#c4c4ff" opacity="0.6"/><defs><path id="q270" d="M279 156C279 156 276 155 280 155C285 155 297 154 305 154C314 154 326 154 330 155C335 155 332 156 332 156C332 157 335 158 330 158C326 158 314 158 306 158C297 158 285 158 281 158C276 158 279 157 279 156Z"/></defs><use href="#q270" fill="#00007a" y="1"/><use href="#q270" fill="url(#gB)"/><ellipse cx="301.3" cy="155.6" rx="15.9" ry="0.6" fill="#c4c4ff" opacity="0.6"/><defs><path id="q271" d="M325 156C325 156 320 155 327 155C334 155 354 154 367 154C381 154 401 155 408 155C415 155 409 156 409 157C409 157 415 158 408 158C401 158 381 158 367 158C354 158 334 158 327 158C320 158 325 157 325 156Z"/></defs><use href="#q271" fill="#00007a" y="1"/><use href="#q271" fill="url(#gB)"/><ellipse cx="360.3" cy="155.5" rx="25.1" ry="0.6" fill="#c4c4ff" opacity="0.6"/><defs><path id="q272" d="M12 160C12 159 8 158 14 158C20 158 37 158 48 158C60 158 76 158 82 158C88 159 84 159 84 160C84 160 89 161 83 162C77 162 60 162 48 162C37 162 20 162 14 162C8 161 12 160 12 160Z"/></defs><use href="#q272" fill="#3a7a0c" y="1"/><use href="#q272" fill="url(#gG)"/><ellipse cx="42.5" cy="159" rx="21.6" ry="0.6" fill="#d4ffa8" opacity="0.5"/><defs><path id="q273" d="M75 160C75 159 71 159 76 158C82 158 97 158 107 158C117 158 132 158 137 158C143 159 139 159 139 160C139 161 143 161 137 162C132 162 117 162 107 162C97 162 82 162 77 162C71 161 75 160 75 160Z"/></defs><use href="#q273" fill="#3a7a0c" y="1"/><use href="#q273" fill="url(#gG)"/><ellipse cx="101.8" cy="159.1" rx="19.4" ry="0.6" fill="#d4ffa8" opacity="0.5"/><defs><path id="q274" d="M137 160C137 159 134 158 138 158C143 158 155 158 163 158C171 158 183 158 187 158C192 159 189 159 189 160C189 161 192 162 187 162C183 162 171 162 163 162C155 162 143 162 138 162C134 161 137 161 137 160Z"/></defs><use href="#q274" fill="#3a7a0c" y="1"/><use href="#q274" fill="url(#gG)"/><ellipse cx="158.6" cy="159.2" rx="15.8" ry="0.6" fill="#d4ffa8" opacity="0.5"/><defs><path id="q275" d="M186 160C186 159 182 158 189 158C195 158 211 158 223 158C234 158 251 158 257 158C263 158 259 159 259 160C259 160 263 161 257 162C251 162 234 162 223 162C211 162 194 162 188 162C182 161 186 160 186 160Z"/></defs><use href="#q275" fill="#3a7a0c" y="1"/><use href="#q275" fill="url(#gG)"/><ellipse cx="216.7" cy="158.9" rx="21.7" ry="0.6" fill="#d4ffa8" opacity="0.5"/><defs><path id="q276" d="M249 160C249 159 246 159 250 158C255 158 268 158 276 158C285 158 297 158 302 158C306 159 303 159 303 160C303 160 307 161 302 162C298 162 285 162 276 162C268 162 255 162 251 162C246 161 249 160 249 160Z"/></defs><use href="#q276" fill="#3a7a0c" y="1"/><use href="#q276" fill="url(#gG)"/><ellipse cx="271.9" cy="158.8" rx="16.3" ry="0.6" fill="#d4ffa8" opacity="0.5"/><defs><path id="q277" d="M300 160C300 159 298 159 302 158C306 158 316 158 323 158C330 157 340 158 344 158C348 158 346 159 346 160C346 160 348 161 344 162C341 162 330 162 323 162C316 162 306 162 302 162C298 161 300 161 300 160Z"/></defs><use href="#q277" fill="#3a7a0c" y="1"/><use href="#q277" fill="url(#gG)"/><ellipse cx="319.6" cy="158.9" rx="13.7" ry="0.6" fill="#d4ffa8" opacity="0.5"/><defs><path id="q278" d="M17 163C17 162 11 162 19 161C27 161 50 161 66 161C82 161 105 161 113 161C121 161 115 162 115 163C115 163 121 164 113 164C105 164 82 164 66 164C50 164 27 165 19 164C10 164 17 163 17 163Z"/></defs><use href="#q278" fill="#00007a" y="0.9"/><use href="#q278" fill="url(#gB)"/><ellipse cx="58.3" cy="162.1" rx="29.2" ry="0.6" fill="#c4c4ff" opacity="0.6"/><defs><path id="q279" d="M108 163C108 162 102 161 109 161C116 161 137 161 151 161C165 161 186 161 193 161C200 162 194 162 194 163C194 163 200 164 193 164C185 165 165 165 151 164C137 164 116 164 109 164C102 164 108 163 108 163Z"/></defs><use href="#q279" fill="#00007a" y="0.9"/><use href="#q279" fill="url(#gB)"/><ellipse cx="143.9" cy="162" rx="25.9" ry="0.6" fill="#c4c4ff" opacity="0.6"/><defs><path id="q280" d="M181 163C181 162 177 162 182 161C187 161 202 161 212 161C222 161 236 161 241 161C246 161 242 162 242 163C242 163 246 164 241 164C236 164 222 165 212 165C202 165 188 164 182 164C177 164 181 163 181 163Z"/></defs><use href="#q280" fill="#00007a" y="0.9"/><use href="#q280" fill="url(#gB)"/><ellipse cx="206.7" cy="162" rx="18.3" ry="0.6" fill="#c4c4ff" opacity="0.6"/><defs><path id="q281" d="M236 163C236 162 229 162 237 161C246 161 271 161 288 161C305 161 330 161 339 161C347 161 340 162 340 163C340 163 347 164 339 164C330 164 305 164 288 164C271 165 246 165 237 164C229 164 236 163 236 163Z"/></defs><use href="#q281" fill="#00007a" y="0.9"/><use href="#q281" fill="url(#gB)"/><ellipse cx="279.8" cy="162" rx="31.1" ry="0.6" fill="#c4c4ff" opacity="0.6"/><defs><path id="q282" d="M330 163C330 162 323 162 331 161C339 161 362 161 377 161C393 161 416 161 424 161C432 161 425 162 425 163C425 163 431 164 423 164C416 164 393 165 378 165C362 165 339 164 331 164C323 164 330 163 330 163Z"/></defs><use href="#q282" fill="#00007a" y="0.9"/><use href="#q282" fill="url(#gB)"/><ellipse cx="369.8" cy="162.1" rx="28.5" ry="0.6" fill="#c4c4ff" opacity="0.6"/><defs><path id="q283" d="M35 168C35 165 40 161 45 160C49 158 58 157 64 157C70 158 75 160 80 162C85 164 92 167 92 169C93 172 89 176 84 177C80 179 72 178 65 178C59 179 52 180 47 178C42 177 36 171 35 168Z"/></defs><use href="#q283" fill="#00007a" y="1.6"/><use href="#q283" fill="url(#gB)"/><ellipse cx="59.4" cy="163.7" rx="17.1" ry="1.9" fill="#c4c4ff" opacity="0.6"/><defs><path id="q284" d="M65 175C65 170 70 163 74 160C78 158 85 161 89 161C93 161 95 158 98 159C101 161 106 168 106 172C106 175 101 181 98 183C94 185 89 185 84 186C79 186 74 189 70 187C67 185 64 179 65 175Z"/></defs><use href="#q284" fill="#3a7a0c" y="1.6"/><use href="#q284" fill="url(#gG)"/><ellipse cx="82.1" cy="167.8" rx="12.5" ry="2.5" fill="#d4ffa8" opacity="0.5"/><defs><path id="q285" d="M85 178C86 177 93 176 95 177C97 178 98 182 97 183C96 184 90 185 88 184C86 183 84 179 85 178Z"/></defs><use href="#q285" fill="#a0a020" y="1.3"/><use href="#q285" fill="#e0f040"/><ellipse cx="90" cy="179.1" rx="3.6" ry="0.6" fill="#ffffa0" opacity="0.5"/><defs><path id="q286" d="M43 178C43 176 49 173 53 172C56 171 62 171 66 171C70 171 74 170 77 171C81 172 86 175 87 178C87 180 82 183 79 185C75 186 70 186 66 186C61 186 56 186 52 184C48 183 43 180 43 178Z"/></defs><use href="#q286" fill="#00007a" y="1.6"/><use href="#q286" fill="url(#gB)"/><ellipse cx="61.5" cy="175.4" rx="13" ry="1.4" fill="#c4c4ff" opacity="0.6"/><defs><path id="q287" d="M102 182C103 179 105 174 111 172C117 170 127 170 136 170C145 170 159 171 166 172C172 174 176 176 176 178C177 181 174 185 168 187C162 190 149 192 139 192C129 192 115 189 109 187C103 185 102 184 102 182Z"/></defs><use href="#q287" fill="#00007a" y="1.6"/><use href="#q287" fill="url(#gB)"/><ellipse cx="133.3" cy="176.4" rx="22.2" ry="2" fill="#c4c4ff" opacity="0.6"/><defs><path id="q288" d="M146 168C146 166 148 164 149 164C150 163 150 164 151 163C153 163 155 162 156 163C158 164 161 168 161 170C161 172 158 175 156 176C155 177 152 176 151 176C150 176 149 175 148 174C148 172 146 170 146 168Z"/></defs><use href="#q288" fill="#3a7a0c" y="1.6"/><use href="#q288" fill="url(#gG)"/><ellipse cx="152.6" cy="166.9" rx="4.6" ry="1.2" fill="#d4ffa8" opacity="0.5"/><defs><path id="q289" d="M120 164C120 163 120 161 124 160C128 160 138 160 145 160C152 160 162 159 166 160C170 160 170 163 170 165C170 166 170 167 166 167C162 168 153 168 146 168C139 168 129 168 124 167C120 167 120 165 120 164Z"/></defs><use href="#q289" fill="#00007a" y="1.5"/><use href="#q289" fill="url(#gB)"/><ellipse cx="140.9" cy="162.1" rx="15.1" ry="0.7" fill="#c4c4ff" opacity="0.6"/><defs><path id="q290" d="M178 173C178 169 188 162 194 159C201 156 210 155 218 155C227 155 238 158 245 161C252 163 261 166 262 170C262 175 255 182 248 185C242 188 231 187 222 187C213 186 202 184 195 182C187 180 178 177 178 173Z"/></defs><use href="#q290" fill="#3a7a0c" y="1.6"/><use href="#q290" fill="url(#gG)"/><ellipse cx="213.1" cy="164.4" rx="25.2" ry="2.9" fill="#d4ffa8" opacity="0.5"/><defs><path id="q291" d="M207 184C207 182 207 179 211 177C214 176 223 175 229 175C236 175 246 176 250 178C254 179 255 182 255 184C255 187 255 188 250 190C246 191 235 193 228 193C221 193 213 192 209 190C206 189 207 186 207 184Z"/></defs><use href="#q291" fill="#00007a" y="1.6"/><use href="#q291" fill="url(#gB)"/><ellipse cx="227.4" cy="180.4" rx="14.5" ry="1.6" fill="#c4c4ff" opacity="0.6"/><defs><path id="q292" d="M211 171C211 169 214 166 217 165C220 165 223 165 226 165C229 166 234 167 236 167C239 168 241 169 240 170C240 171 238 174 235 175C233 177 228 177 225 177C222 177 218 176 216 175C213 174 211 173 211 171Z"/></defs><use href="#q292" fill="#00007a" y="1.6"/><use href="#q292" fill="url(#gB)"/><ellipse cx="223.3" cy="168.9" rx="8.9" ry="1.1" fill="#c4c4ff" opacity="0.6"/><defs><path id="q293" d="M199 165C199 163 203 161 204 160C205 159 206 159 207 159C209 159 209 159 211 160C212 161 215 164 215 165C216 167 214 169 213 170C212 171 210 171 209 171C207 171 205 171 204 170C202 169 199 167 199 165Z"/></defs><use href="#q293" fill="#3a7a0c" y="1.6"/><use href="#q293" fill="url(#gG)"/><ellipse cx="206" cy="162.7" rx="4.9" ry="1" fill="#d4ffa8" opacity="0.5"/><defs><path id="q294" d="M264 167C264 165 263 160 268 158C274 156 289 155 298 156C307 156 317 158 322 160C328 162 329 164 329 166C329 169 327 173 322 175C317 176 307 174 298 174C289 174 274 177 269 175C263 174 264 170 264 167Z"/></defs><use href="#q294" fill="#00007a" y="1.6"/><use href="#q294" fill="url(#gB)"/><ellipse cx="291.2" cy="161.5" rx="19.6" ry="1.8" fill="#c4c4ff" opacity="0.6"/><defs><path id="q295" d="M285 178C285 177 284 174 288 173C291 173 300 173 307 173C313 173 323 173 327 174C331 175 330 176 330 177C331 178 331 179 327 180C324 181 315 182 308 182C302 182 292 181 288 181C284 180 285 179 285 178Z"/></defs><use href="#q295" fill="#3a7a0c" y="1.5"/><use href="#q295" fill="url(#gG)"/><ellipse cx="304" cy="175.8" rx="13.7" ry="0.8" fill="#d4ffa8" opacity="0.5"/><defs><path id="q296" d="M261 184C262 182 263 180 269 178C274 177 287 176 296 176C305 176 318 177 323 179C329 180 329 183 330 185C330 187 331 189 325 190C320 191 306 192 296 191C286 191 272 189 266 188C261 187 261 186 261 184Z"/></defs><use href="#q296" fill="#00007a" y="1.6"/><use href="#q296" fill="url(#gB)"/><ellipse cx="290.1" cy="180.9" rx="20.5" ry="1.4" fill="#c4c4ff" opacity="0.6"/><defs><path id="q297" d="M191 179C191 177 192 173 193 172C195 171 198 173 201 173C203 173 206 172 208 172C210 173 212 177 212 179C212 181 209 183 207 184C205 185 204 185 202 185C200 185 197 185 195 184C193 183 191 182 191 179Z"/></defs><use href="#q297" fill="#00007a" y="1.6"/><use href="#q297" fill="url(#gB)"/><ellipse cx="200" cy="175.8" rx="6.4" ry="1.2" fill="#c4c4ff" opacity="0.6"/></g></g><path d="M17 27L78 7.7H294.5L355 27ZM17 27L44 218H328.6L355 27" fill="none" stroke="#333" stroke-width="1.1" stroke-linejoin="round"/></g>
<rect x="413.6" y="9.6" width="207.2" height="206.9" fill="#e0fcee"/>
<g clip-path="url(#cm0)">
<g filter="url(#bl)"><path d="M416.2 42.8C421.5 42.8 423 46.3 423 58.9C423 71.5 421.5 75 416.2 75C410.9 75 409.4 71.5 409.4 58.9C409.4 46.3 410.9 42.8 416.2 42.8Z" fill="#a6dce6"/><path d="M416.2 44.3C420.3 44.3 421.5 47.5 421.5 58.9C421.5 70.3 420.3 73.5 416.2 73.5C412.1 73.5 410.9 70.3 410.9 58.9C410.9 47.5 412.1 44.3 416.2 44.3Z" fill="#5a8ad0"/><path d="M416.2 49.8C418.8 49.8 419.5 51.8 419.5 58.9C419.5 66 418.8 68 416.2 68C413.6 68 412.9 66 412.9 58.9C412.9 51.8 413.6 49.8 416.2 49.8Z" fill="#3a58bc"/><path d="M430.2 44.1C435.3 44.1 435.2 47.7 435.2 60.4C435.2 73.2 432.3 76.8 427.2 76.8C422.1 76.8 422.2 73.2 422.2 60.4C422.2 47.7 425.1 44.1 430.2 44.1Z" fill="#c8f8b4"/><path d="M430.2 45.3C434.3 45.3 434 48.6 434 60.4C434 72.3 431.3 75.6 427.2 75.6C423.1 75.6 423.4 72.3 423.4 60.4C423.4 48.6 426.1 45.3 430.2 45.3Z" fill="#96fc3a"/><path d="M438.9 42.8C444 42.8 445.4 46.7 445.4 60.5C445.4 74.3 444 78.2 438.9 78.2C433.8 78.2 432.4 74.3 432.4 60.5C432.4 46.7 433.8 42.8 438.9 42.8Z" fill="#a6dce6"/><path d="M438.9 44.3C442.8 44.3 443.9 47.9 443.9 60.5C443.9 73.1 442.8 76.7 438.9 76.7C435 76.7 433.9 73.1 433.9 60.5C433.9 47.9 435 44.3 438.9 44.3Z" fill="#5a8ad0"/><path d="M438.9 50.5C441.3 50.5 442 52.7 442 60.5C442 68.3 441.3 70.5 438.9 70.5C436.5 70.5 435.8 68.3 435.8 60.5C435.8 52.7 436.5 50.5 438.9 50.5Z" fill="#3a58bc"/><path d="M449.1 52C452.5 52 453.4 54.5 453.4 63.5C453.4 72.5 452.5 75 449.1 75C445.8 75 444.9 72.5 444.9 63.5C444.9 54.5 445.8 52 449.1 52Z" fill="#cdf7c6"/><path d="M459.1 43.8C464.4 43.8 466.9 47.7 466.9 61.5C466.9 75.3 466.4 79.2 461.1 79.2C455.9 79.2 453.4 75.3 453.4 61.5C453.4 47.7 453.9 43.8 459.1 43.8Z" fill="#a6dce6"/><path d="M459.1 45.3C463.2 45.3 465.4 48.9 465.4 61.5C465.4 74.1 465.2 77.7 461.1 77.7C457.1 77.7 454.9 74.1 454.9 61.5C454.9 48.9 455.1 45.3 459.1 45.3Z" fill="#3a58bc"/><path d="M459.5 51.5C462.1 51.5 463.4 53.7 463.4 61.5C463.4 69.3 463.3 71.5 460.8 71.5C458.2 71.5 456.9 69.3 456.9 61.5C456.9 53.7 457 51.5 459.5 51.5Z" fill="#1c24a6"/><path d="M473.7 42C482 42 486.3 45.9 486.3 60C486.3 74 486 77.9 477.7 77.9C469.4 77.9 465.1 74 465.1 60C465.1 45.9 465.4 42 473.7 42Z" fill="#c8f8b4"/><path d="M473.7 43.2C481 43.2 485.1 46.9 485.1 60C485.1 73 485 76.7 477.7 76.7C470.4 76.7 466.3 73 466.3 60C466.3 46.9 466.4 43.2 473.7 43.2Z" fill="#96fc3a"/><path d="M495.1 42.8C502.5 42.8 504.6 46.8 504.6 61C504.6 75.2 502.5 79.2 495.1 79.2C487.8 79.2 485.7 75.2 485.7 61C485.7 46.8 487.8 42.8 495.1 42.8Z" fill="#a6dce6"/><path d="M495.1 44.3C501.4 44.3 503.1 48 503.1 61C503.1 74 501.4 77.7 495.1 77.7C488.9 77.7 487.2 74 487.2 61C487.2 48 488.9 44.3 495.1 44.3Z" fill="#3a58bc"/><path d="M495.1 50.6C499 50.6 500.1 52.9 500.1 61C500.1 69.1 499 71.4 495.1 71.4C491.3 71.4 490.2 69.1 490.2 61C490.2 52.9 491.3 50.6 495.1 50.6Z" fill="#1c24a6"/><path d="M509 42C514.7 42 516.3 45.9 516.3 60C516.3 74 514.7 77.9 509 77.9C503.3 77.9 501.7 74 501.7 60C501.7 45.9 503.3 42 509 42Z" fill="#c8f8b4"/><path d="M509 43.2C513.8 43.2 515.1 46.9 515.1 60C515.1 73 513.8 76.7 509 76.7C504.2 76.7 502.9 73 502.9 60C502.9 46.9 504.2 43.2 509 43.2Z" fill="#96fc3a"/><path d="M522.6 42.8C530.2 42.8 532.3 46.8 532.3 61C532.3 75.2 530.2 79.2 522.6 79.2C515 79.2 512.9 75.2 512.9 61C512.9 46.8 515 42.8 522.6 42.8Z" fill="#a6dce6"/><path d="M522.6 44.3C529 44.3 530.8 48 530.8 61C530.8 74 529 77.7 522.6 77.7C516.2 77.7 514.4 74 514.4 61C514.4 48 516.2 44.3 522.6 44.3Z" fill="#2436b0"/><path d="M522.6 50.6C526.6 50.6 527.7 52.9 527.7 61C527.7 69.1 526.6 71.4 522.6 71.4C518.6 71.4 517.5 69.1 517.5 61C517.5 52.9 518.6 50.6 522.6 50.6Z" fill="#0c0a9a"/><path d="M522.6 55C524.9 55 525.6 56.3 525.6 61C525.6 65.7 524.9 67 522.6 67C520.3 67 519.6 65.7 519.6 61C519.6 56.3 520.3 55 522.6 55Z" fill="#08009a"/><path d="M536.5 43.1C542 43.1 543.5 46.9 543.5 60.5C543.5 74.1 542 77.9 536.5 77.9C531 77.9 529.5 74.1 529.5 60.5C529.5 46.9 531 43.1 536.5 43.1Z" fill="#c8f8b4"/><path d="M536.5 44.3C541 44.3 542.3 47.9 542.3 60.5C542.3 73.1 541 76.7 536.5 76.7C532 76.7 530.7 73.1 530.7 60.5C530.7 47.9 532 44.3 536.5 44.3Z" fill="#96fc3a"/><path d="M548.4 41.7C555 41.7 556.9 45.7 556.9 60C556.9 74.2 555 78.2 548.4 78.2C541.8 78.2 539.9 74.2 539.9 60C539.9 45.7 541.8 41.7 548.4 41.7Z" fill="#a6dce6"/><path d="M548.4 43.2C553.9 43.2 555.4 46.9 555.4 60C555.4 73 553.9 76.7 548.4 76.7C542.9 76.7 541.4 73 541.4 60C541.4 46.9 542.9 43.2 548.4 43.2Z" fill="#3a58bc"/><path d="M548.4 49.6C551.8 49.6 552.7 51.8 552.7 60C552.7 68.1 551.8 70.3 548.4 70.3C545 70.3 544.1 68.1 544.1 60C544.1 51.8 545 49.6 548.4 49.6Z" fill="#1c24a6"/><path d="M562.1 42C567.9 42 569.6 45.8 569.6 59.4C569.6 73 567.9 76.8 562.1 76.8C556.2 76.8 554.6 73 554.6 59.4C554.6 45.8 556.2 42 562.1 42Z" fill="#c8f8b4"/><path d="M562.1 43.2C567 43.2 568.4 46.8 568.4 59.4C568.4 72 567 75.6 562.1 75.6C557.2 75.6 555.8 72 555.8 59.4C555.8 46.8 557.2 43.2 562.1 43.2Z" fill="#96fc3a"/><path d="M575.6 42.8C580.9 42.8 581.4 46.5 581.4 59.4C581.4 72.4 578.9 76.1 573.6 76.1C568.3 76.1 567.8 72.4 567.8 59.4C567.8 46.5 570.3 42.8 575.6 42.8Z" fill="#a6dce6"/><path d="M575.6 44.3C579.7 44.3 579.9 47.6 579.9 59.4C579.9 71.3 577.7 74.6 573.6 74.6C569.5 74.6 569.3 71.3 569.3 59.4C569.3 47.6 571.5 44.3 575.6 44.3Z" fill="#5a8ad0"/><path d="M574.8 50.1C577.4 50.1 577.5 52.1 577.5 59.4C577.5 66.8 576.2 68.8 573.6 68.8C571 68.8 570.9 66.8 570.9 59.4C570.9 52.1 572.3 50.1 574.8 50.1Z" fill="#3a58bc"/><path d="M579.5 51.6C582.7 51.6 583.6 53.3 583.6 59.5C583.6 65.6 582.7 67.3 579.5 67.3C576.3 67.3 575.4 65.6 575.4 59.5C575.4 53.3 576.3 51.6 579.5 51.6Z" fill="#cdf7c6"/><path d="M596 50.5C603.5 50.5 600.6 53.7 600.6 64.8C600.6 76 593.5 79.2 586 79.2C578.5 79.2 581.4 76 581.4 64.8C581.4 53.7 588.5 50.5 596 50.5Z" fill="#a6dce6"/><path d="M596 52C602.3 52 599.1 54.8 599.1 64.8C599.1 74.9 592.3 77.7 586 77.7C579.7 77.7 582.9 74.9 582.9 64.8C582.9 54.8 589.7 52 596 52Z" fill="#5a8ad0"/><path d="M593.7 56.9C597.6 56.9 595.6 58.6 595.6 64.8C595.6 71.1 591.4 72.8 587.5 72.8C583.6 72.8 585.6 71.1 585.6 64.8C585.6 58.6 589.8 56.9 593.7 56.9Z" fill="#3a58bc"/><path d="M601.3 64C604.7 64 605.6 65 605.6 68.5C605.6 72 604.7 73 601.3 73C597.9 73 597 72 597 68.5C597 65 597.9 64 601.3 64Z" fill="#cdf7c6"/><path d="M609.8 43.1C616.4 43.1 618.3 46.8 618.3 59.9C618.3 73.1 616.4 76.8 609.8 76.8C603.1 76.8 601.2 73.1 601.2 59.9C601.2 46.8 603.1 43.1 609.8 43.1Z" fill="#c8f8b4"/><path d="M609.8 44.3C615.5 44.3 617.1 47.7 617.1 59.9C617.1 72.2 615.5 75.6 609.8 75.6C604 75.6 602.4 72.2 602.4 59.9C602.4 47.7 604 44.3 609.8 44.3Z" fill="#96fc3a"/><path d="M620.8 46.5C625.3 46.5 626.6 49.2 626.6 59C626.6 68.8 625.3 71.5 620.8 71.5C616.2 71.5 614.9 68.8 614.9 59C614.9 49.2 616.2 46.5 620.8 46.5Z" fill="#a6dce6"/><path d="M620.8 48C624.1 48 625.1 50.4 625.1 59C625.1 67.6 624.1 70 620.8 70C617.4 70 616.4 67.6 616.4 59C616.4 50.4 617.4 48 620.8 48Z" fill="#5a8ad0"/><path d="M620.8 52.2C622.9 52.2 623.4 53.7 623.4 59C623.4 64.3 622.9 65.8 620.8 65.8C618.6 65.8 618.1 64.3 618.1 59C618.1 53.7 618.6 52.2 620.8 52.2Z" fill="#3a58bc"/><path d="M420.8 153.5C425 153.5 426.2 156.5 426.2 167.1C426.2 177.7 425 180.7 420.8 180.7C416.6 180.7 415.4 177.7 415.4 167.1C415.4 156.5 416.6 153.5 420.8 153.5Z" fill="#b4e2ea"/><path d="M430.9 146C438.4 146 441 150.2 441 165C441 179.8 439.4 184 431.9 184C424.3 184 421.7 179.8 421.7 165C421.7 150.2 423.3 146 430.9 146Z" fill="#c8f8b4"/><path d="M430.9 147.2C437.4 147.2 439.8 151.1 439.8 165C439.8 178.9 438.4 182.8 431.9 182.8C425.3 182.8 422.9 178.9 422.9 165C422.9 151.1 424.3 147.2 430.9 147.2Z" fill="#96fc3a"/><path d="M446.8 148.9C454.3 148.9 456.4 152.6 456.4 165.6C456.4 178.5 454.3 182.2 446.8 182.2C439.2 182.2 437.1 178.5 437.1 165.6C437.1 152.6 439.2 148.9 446.8 148.9Z" fill="#a6dce6"/><path d="M446.8 150.4C453.1 150.4 454.9 153.7 454.9 165.6C454.9 177.4 453.1 180.7 446.8 180.7C440.4 180.7 438.6 177.4 438.6 165.6C438.6 153.7 440.4 150.4 446.8 150.4Z" fill="#3a58bc"/><path d="M446.8 156.2C450.7 156.2 451.8 158.2 451.8 165.6C451.8 172.9 450.7 174.9 446.8 174.9C442.8 174.9 441.7 172.9 441.7 165.6C441.7 158.2 442.8 156.2 446.8 156.2Z" fill="#1c24a6"/><path d="M463.8 145.7C469.5 145.7 471.1 149.3 471.1 161.8C471.1 174.4 469.5 178 463.8 178C458 178 456.4 174.4 456.4 161.8C456.4 149.3 458 145.7 463.8 145.7Z" fill="#a6dce6"/><path d="M463.8 147.2C468.3 147.2 469.6 150.4 469.6 161.8C469.6 173.3 468.3 176.5 463.8 176.5C459.2 176.5 457.9 173.3 457.9 161.8C457.9 150.4 459.2 147.2 463.8 147.2Z" fill="#5a8ad0"/><path d="M463.8 152.8C466.6 152.8 467.4 154.8 467.4 161.8C467.4 168.9 466.6 170.9 463.8 170.9C460.9 170.9 460.1 168.9 460.1 161.8C460.1 154.8 460.9 152.8 463.8 152.8Z" fill="#3a58bc"/><path d="M475.8 147.1C481.6 147.1 483.3 150.9 483.3 164.5C483.3 178.1 481.6 181.9 475.8 181.9C469.9 181.9 468.2 178.1 468.2 164.5C468.2 150.9 469.9 147.1 475.8 147.1Z" fill="#c8f8b4"/><path d="M475.8 148.3C480.7 148.3 482.1 151.9 482.1 164.5C482.1 177.1 480.7 180.7 475.8 180.7C470.8 180.7 469.4 177.1 469.4 164.5C469.4 151.9 470.8 148.3 475.8 148.3Z" fill="#96fc3a"/><path d="M489.9 147.8C497.2 147.8 499.3 151.7 499.3 165.5C499.3 179.3 497.2 183.2 489.9 183.2C482.5 183.2 480.4 179.3 480.4 165.5C480.4 151.7 482.5 147.8 489.9 147.8Z" fill="#a6dce6"/><path d="M489.9 149.3C496.1 149.3 497.8 152.9 497.8 165.5C497.8 178.1 496.1 181.7 489.9 181.7C483.6 181.7 481.9 178.1 481.9 165.5C481.9 152.9 483.6 149.3 489.9 149.3Z" fill="#2436b0"/><path d="M489.9 155.5C493.7 155.5 494.8 157.7 494.8 165.5C494.8 173.3 493.7 175.5 489.9 175.5C486 175.5 484.9 173.3 484.9 165.5C484.9 157.7 486 155.5 489.9 155.5Z" fill="#0c0a9a"/><path d="M489.9 159.7C492.1 159.7 492.7 161 492.7 165.5C492.7 170 492.1 171.3 489.9 171.3C487.6 171.3 487 170 487 165.5C487 161 487.6 159.7 489.9 159.7Z" fill="#08009a"/><path d="M506.1 147.1C514.4 147.1 516.8 150.9 516.8 164.5C516.8 178.1 514.4 181.9 506.1 181.9C497.8 181.9 495.4 178.1 495.4 164.5C495.4 150.9 497.8 147.1 506.1 147.1Z" fill="#c8f8b4"/><path d="M506.1 148.3C513.5 148.3 515.6 151.9 515.6 164.5C515.6 177.1 513.5 180.7 506.1 180.7C498.7 180.7 496.6 177.1 496.6 164.5C496.6 151.9 498.7 148.3 506.1 148.3Z" fill="#96fc3a"/><path d="M506.1 159.6C508.3 159.6 509 160.7 509 164.5C509 168.3 508.3 169.4 506.1 169.4C503.9 169.4 503.2 168.3 503.2 164.5C503.2 160.7 503.9 159.6 506.1 159.6Z" fill="#c4f43c"/><path d="M523.5 146.8C530.3 146.8 530.7 150.8 530.7 165C530.7 179.2 527.3 183.2 520.5 183.2C513.8 183.2 513.4 179.2 513.4 165C513.4 150.8 516.8 146.8 523.5 146.8Z" fill="#a6dce6"/><path d="M523.5 148.3C529.1 148.3 529.2 152 529.2 165C529.2 178 526.1 181.7 520.5 181.7C515 181.7 514.9 178 514.9 165C514.9 152 518 148.3 523.5 148.3Z" fill="#2436b0"/><path d="M522.8 154.6C526.2 154.6 526.3 156.9 526.3 165C526.3 173.1 524.4 175.4 520.9 175.4C517.5 175.4 517.4 173.1 517.4 165C517.4 156.9 519.3 154.6 522.8 154.6Z" fill="#0c0a9a"/><path d="M522.3 159C524.3 159 524.3 160.3 524.3 165C524.3 169.7 523.2 171 521.2 171C519.2 171 519.2 169.7 519.2 165C519.2 160.3 520.3 159 522.3 159Z" fill="#08009a"/><path d="M536.1 147.1C543.5 147.1 545.6 151 545.6 165C545.6 179 543.5 182.9 536.1 182.9C528.8 182.9 526.7 179 526.7 165C526.7 151 528.8 147.1 536.1 147.1Z" fill="#c8f8b4"/><path d="M536.1 148.3C542.6 148.3 544.4 152 544.4 165C544.4 178 542.6 181.7 536.1 181.7C529.7 181.7 527.9 178 527.9 165C527.9 152 529.7 148.3 536.1 148.3Z" fill="#96fc3a"/><path d="M536.1 160C538.1 160 538.6 161.1 538.6 165C538.6 168.9 538.1 170 536.1 170C534.2 170 533.7 168.9 533.7 165C533.7 161.1 534.2 160 536.1 160Z" fill="#c4f43c"/><path d="M551.5 144.7C557.7 144.7 558.4 148.7 558.4 162.9C558.4 177.1 555.7 181.1 549.5 181.1C543.4 181.1 542.7 177.1 542.7 162.9C542.7 148.7 545.4 144.7 551.5 144.7Z" fill="#a6dce6"/><path d="M551.5 146.2C556.5 146.2 556.9 149.9 556.9 162.9C556.9 175.9 554.5 179.6 549.5 179.6C544.6 179.6 544.2 175.9 544.2 162.9C544.2 149.9 546.6 146.2 551.5 146.2Z" fill="#3a58bc"/><path d="M550.8 152.5C553.9 152.5 554.1 154.8 554.1 162.9C554.1 171 552.6 173.3 549.5 173.3C546.5 173.3 546.2 171 546.2 162.9C546.2 154.8 547.7 152.5 550.8 152.5Z" fill="#1c24a6"/><path d="M563.7 146C570.8 146 572.8 149.8 572.8 163.4C572.8 177 570.8 180.8 563.7 180.8C556.6 180.8 554.6 177 554.6 163.4C554.6 149.8 556.6 146 563.7 146Z" fill="#c8f8b4"/><path d="M563.7 147.2C569.9 147.2 571.6 150.8 571.6 163.4C571.6 176 569.9 179.6 563.7 179.6C557.5 179.6 555.8 176 555.8 163.4C555.8 150.8 557.5 147.2 563.7 147.2Z" fill="#96fc3a"/><path d="M576.8 146.8C583.7 146.8 585.6 150.8 585.6 165C585.6 179.2 583.7 183.2 576.8 183.2C569.8 183.2 567.9 179.2 567.9 165C567.9 150.8 569.8 146.8 576.8 146.8Z" fill="#a6dce6"/><path d="M576.8 148.3C582.5 148.3 584.1 152 584.1 165C584.1 178 582.5 181.7 576.8 181.7C571 181.7 569.4 178 569.4 165C569.4 152 571 148.3 576.8 148.3Z" fill="#2436b0"/><path d="M576.8 154.6C580.3 154.6 581.3 156.9 581.3 165C581.3 173.1 580.3 175.4 576.8 175.4C573.2 175.4 572.2 173.1 572.2 165C572.2 156.9 573.2 154.6 576.8 154.6Z" fill="#0c0a9a"/><path d="M576.8 159C578.8 159 579.4 160.3 579.4 165C579.4 169.7 578.8 171 576.8 171C574.7 171 574.1 169.7 574.1 165C574.1 160.3 574.7 159 576.8 159Z" fill="#08009a"/><path d="M588.7 153.3C593.4 153.3 594.7 155.6 594.7 163.9C594.7 172.3 593.4 174.6 588.7 174.6C584 174.6 582.7 172.3 582.7 163.9C582.7 155.6 584 153.3 588.7 153.3Z" fill="#c8f8b4"/><path d="M588.7 154.5C592.4 154.5 593.5 156.6 593.5 163.9C593.5 171.3 592.4 173.4 588.7 173.4C585 173.4 583.9 171.3 583.9 163.9C583.9 156.6 585 154.5 588.7 154.5Z" fill="#96fc3a"/><path d="M596.6 152.5C599.5 152.5 600.3 155.1 600.3 164.5C600.3 173.9 599.5 176.5 596.6 176.5C593.7 176.5 592.9 173.9 592.9 164.5C592.9 155.1 593.7 152.5 596.6 152.5Z" fill="#b4e2ea"/><path d="M605.5 150.2C611 150.2 612.5 152.9 612.5 162.4C612.5 171.9 611 174.6 605.5 174.6C600 174.6 598.5 171.9 598.5 162.4C598.5 152.9 600 150.2 605.5 150.2Z" fill="#c8f8b4"/><path d="M605.5 151.4C610 151.4 611.3 153.8 611.3 162.4C611.3 171 610 173.4 605.5 173.4C601 173.4 599.7 171 599.7 162.4C599.7 153.8 601 151.4 605.5 151.4Z" fill="#96fc3a"/><path d="M618.4 148.9C623.7 148.9 622.2 152.3 622.2 164.5C622.2 176.7 617.7 180.1 612.4 180.1C607.1 180.1 608.6 176.7 608.6 164.5C608.6 152.3 613.1 148.9 618.4 148.9Z" fill="#a6dce6"/><path d="M618.4 150.4C622.5 150.4 620.7 153.5 620.7 164.5C620.7 175.5 616.5 178.6 612.4 178.6C608.3 178.6 610.1 175.5 610.1 164.5C610.1 153.5 614.3 150.4 618.4 150.4Z" fill="#5a8ad0"/><path d="M617.3 155.8C619.8 155.8 618.7 157.7 618.7 164.5C618.7 171.3 616.1 173.2 613.5 173.2C611 173.2 612.1 171.3 612.1 164.5C612.1 157.7 614.7 155.8 617.3 155.8Z" fill="#3a58bc"/></g>
</g>
<path d="M426.55 216.5v-3.6M426.55 9.6v3.6M439.5 216.5v-3.6M439.5 9.6v3.6M452.45 216.5v-3.6M452.45 9.6v3.6M465.4 216.5v-7.2M465.4 9.6v7.2M478.35 216.5v-3.6M478.35 9.6v3.6M491.3 216.5v-3.6M491.3 9.6v3.6M504.25 216.5v-3.6M504.25 9.6v3.6M517.2 216.5v-7.2M517.2 9.6v7.2M530.15 216.5v-3.6M530.15 9.6v3.6M543.1 216.5v-3.6M543.1 9.6v3.6M556.05 216.5v-3.6M556.05 9.6v3.6M569 216.5v-7.2M569 9.6v7.2M581.95 216.5v-3.6M581.95 9.6v3.6M594.9 216.5v-3.6M594.9 9.6v3.6M607.85 216.5v-3.6M607.85 9.6v3.6M413.6 203.57h3.6M620.8 203.57h-3.6M413.6 190.64h3.6M620.8 190.64h-3.6M413.6 177.71h3.6M620.8 177.71h-3.6M413.6 164.78h7.2M620.8 164.78h-7.2M413.6 151.84h3.6M620.8 151.84h-3.6M413.6 138.91h3.6M620.8 138.91h-3.6M413.6 125.98h3.6M620.8 125.98h-3.6M413.6 113.05h7.2M620.8 113.05h-7.2M413.6 100.12h3.6M620.8 100.12h-3.6M413.6 87.19h3.6M620.8 87.19h-3.6M413.6 74.26h3.6M620.8 74.26h-3.6M413.6 61.32h7.2M620.8 61.32h-7.2M413.6 48.39h3.6M620.8 48.39h-3.6M413.6 35.46h3.6M620.8 35.46h-3.6M413.6 22.53h3.6M620.8 22.53h-3.6" stroke="#000" stroke-width="1.6" fill="none"/>
<rect x="413.6" y="9.6" width="207.2" height="206.9" fill="none" stroke="#000" stroke-width="1.7" stroke-linejoin="round"/>
<rect x="637.8" y="9.6" width="311.4" height="206.9" fill="#e0fcee"/>
<g clip-path="url(#cr0)">
<g filter="url(#bl2)"><path d="M637 47C640.8 41.7 653.2 44 660 44C666.8 44 674 45 678 47C682 49 683.2 52.2 684 56C684.8 59.8 684.3 66.5 683 70C681.7 73.5 680.7 75.7 676 77C671.3 78.3 661.5 78.2 655 78C648.5 77.8 640 81.2 637 76C634 70.8 633.2 52.3 637 47Z" fill="#a6dce6"/><path d="M778 52C780.3 49.2 785.5 46.4 790 45C794.5 43.6 800 43.3 805 43.5C810 43.7 814.8 44.2 820 46C825.2 47.8 831.8 51.2 836 54C840.2 56.8 842.3 59.7 845 63C847.7 66.3 851.8 71.2 852 74C852.2 76.8 851.3 79 846 80C840.7 81 828.5 80.2 820 80C811.5 79.8 801.5 80.2 795 79C788.5 77.8 784.2 75.8 781 73C777.8 70.2 776.5 65.5 776 62C775.5 58.5 775.7 54.8 778 52Z" fill="#a6dce6"/><path d="M752 52C754 48.8 760.8 48.5 764 49C767.2 49.5 768.8 51.8 771 55C773.2 58.2 775.8 64.2 777 68C778.2 71.8 779.5 76 778 78C776.5 80 771.7 80.2 768 80C764.3 79.8 758.7 79 756 77C753.3 75 752.7 72.2 752 68C751.3 63.8 750 55.2 752 52Z" fill="#a6dce6"/><ellipse cx="915" cy="64" rx="16" ry="11" fill="#c4eaee"/><path d="M745 149C750.8 145.1 767.5 147 780 146.5C792.5 146 809.7 145.9 820 146C830.3 146.1 838 144.7 842 147C846 149.3 844.3 155 844 160C843.7 165 841.8 173.1 840 177C838.2 180.9 839.7 182.3 833 183.5C826.3 184.7 810.5 183.9 800 184C789.5 184.1 778.2 184.3 770 184C761.8 183.7 755.2 184.3 751 182C746.8 179.7 746 175.5 745 170C744 164.5 739.2 152.9 745 149Z" fill="#a6dce6"/><path d="M684 150C686.3 147.5 695 147.8 700 148C705 148.2 712.3 148.8 714 151C715.7 153.2 712.7 158.5 710 161C707.3 163.5 702 165.7 698 166C694 166.3 688.3 165.7 686 163C683.7 160.3 681.7 152.5 684 150Z" fill="#a6dce6"/><path d="M636 150C638.3 146.3 647.3 149.3 650 152C652.7 154.7 652.8 162.3 652 166C651.2 169.7 647.7 172.7 645 174C642.3 175.3 637.5 178 636 174C634.5 170 633.7 153.7 636 150Z" fill="#a6dce6"/><ellipse cx="898" cy="175" rx="24" ry="7" fill="#c4eaee"/><ellipse cx="733" cy="169" rx="11" ry="8" fill="#d4f8d8"/><path d="M644 158C646.8 155.7 654.5 155.8 660 156C665.5 156.2 672.8 157 677 159C681.2 161 684.3 164.8 685 168C685.7 171.2 684.3 176 681 178C677.7 180 670.2 179.8 665 180C659.8 180.2 653.7 180.7 650 179C646.3 177.3 644 173.5 643 170C642 166.5 641.2 160.3 644 158Z" fill="#c8f4b8"/><path d="M685 43.5C690.3 42.2 705 43.3 715 44C725 44.7 739 45.2 745 47.5C751 49.8 749.5 53.9 751 58C752.5 62.1 754.3 68.3 754 72C753.7 75.7 753.8 78.8 749 80C744.2 81.2 733.2 79.8 725 79.5C716.8 79.2 705 79.4 700 78C695 76.6 697.3 73.7 695 71C692.7 68.3 688 65.2 686 62C684 58.8 683.2 55.1 683 52C682.8 48.9 679.7 44.8 685 43.5Z" fill="#c8f8b4"/><path d="M838 151C843.7 147.6 859.7 149.9 870 149.5C880.3 149.1 890.5 148.6 900 148.5C909.5 148.4 922 148.1 927 149C932 149.9 931 152.3 930 154C929 155.7 926 157.3 921 159C916 160.7 906.8 162.2 900 164C893.2 165.8 885.7 167.7 880 170C874.3 172.3 870.3 176 866 178C861.7 180 858.2 181.5 854 182C849.8 182.5 844 183 841 181C838 179 836.5 175 836 170C835.5 165 832.3 154.4 838 151Z" fill="#c8f8b4"/><path d="M845 44C853.3 42.9 887.7 44.2 896 45.5C904.3 46.8 898.5 50.2 895 52C891.5 53.8 880.7 54.8 875 56.5C869.3 58.2 864.7 61.6 861 62C857.3 62.4 855.5 60.7 853 59C850.5 57.3 847.3 54.5 846 52C844.7 49.5 836.7 45.1 845 44Z" fill="#c8f8b4"/></g><g filter="url(#bl)"><path d="M637 48C640 45.5 649.2 45.8 655 46C660.8 46.2 667.8 47 672 49C676.2 51 678.8 54.8 680 58C681.2 61.2 680 65.8 679 68C678 70.2 676 72 674 71C672 70 670.2 64.2 667 62C663.8 59.8 659.5 58.2 655 58C650.5 57.8 643 60.5 640 61C637 61.5 637.5 63.2 637 61C636.5 58.8 634 50.5 637 48Z" fill="#5a8ad0"/><path d="M640 63C643.3 60.8 655 60.5 660 61C665 61.5 668 63.8 670 66C672 68.2 674.5 72.3 672 74C669.5 75.7 660.3 76 655 76C649.7 76 642.5 76.2 640 74C637.5 71.8 636.7 65.2 640 63Z" fill="#94cce0"/><path d="M664 55C664.8 53.8 669.5 54.8 672 56C674.5 57.2 678 59.5 679 62C680 64.5 679 69.5 678 71C677 72.5 674.8 72.3 673 71C671.2 69.7 668.5 65.7 667 63C665.5 60.3 663.2 56.2 664 55Z" fill="#1c24a6"/><path d="M681 52C682 51.2 685 53 686 55C687 57 687.5 62 687 64C686.5 66 684.2 67.7 683 67C681.8 66.3 680.3 62.5 680 60C679.7 57.5 680 52.8 681 52Z" fill="#c4eaee"/><path d="M686 45.5C691 44.5 705.3 45.3 715 46C724.7 46.7 738.3 47.5 744 49.5C749.7 51.5 747.7 54.2 749 58C750.3 61.8 752.2 68.6 752 72C751.8 75.4 752.5 77.5 748 78.5C743.5 79.5 732.7 78.3 725 78C717.3 77.7 706.7 77.8 702 76.5C697.3 75.2 699.3 72.4 697 70C694.7 67.6 690 65 688 62C686 59 685.3 54.8 685 52C684.7 49.2 681 46.5 686 45.5Z" fill="#96fc3a"/><path d="M688 65C689 63.7 695.7 66.2 698 68C700.3 69.8 703 74.7 702 76C701 77.3 694.3 77.8 692 76C689.7 74.2 687 66.3 688 65Z" fill="#b8f49a"/><ellipse cx="743" cy="60" rx="3.5" ry="5" fill="#d8f040"/><ellipse cx="743.5" cy="60" rx="1.8" ry="3" fill="#f0e030"/><path d="M755 54C756.5 52.2 761.7 51.5 764 52C766.3 52.5 767.5 54.7 769 57C770.5 59.3 772.8 63.5 773 66C773.2 68.5 772.2 71.3 770 72C767.8 72.7 762.5 71.5 760 70C757.5 68.5 755.8 65.7 755 63C754.2 60.3 753.5 55.8 755 54Z" fill="#94cce0"/><path d="M764 67C766 65.8 771.8 66.3 774 68C776.2 69.7 778 75.2 777 77C776 78.8 770.5 78.8 768 78.5C765.5 78.2 762.7 76.9 762 75C761.3 73.1 762 68.2 764 67Z" fill="#5a8ad0"/><path d="M781 54C782.5 51.2 787.8 48.3 792 47C796.2 45.7 801.3 45.7 806 46C810.7 46.3 815.3 47.2 820 49C824.7 50.8 830.8 54.5 834 57C837.2 59.5 839.7 62.3 839 64C838.3 65.7 834.8 66.3 830 67C825.2 67.7 816.3 68 810 68C803.7 68 796.5 67.7 792 67C787.5 66.3 784.8 66.2 783 64C781.2 61.8 779.5 56.8 781 54Z" fill="#5a8ad0"/><path d="M784 66C787.3 64.7 801.5 67.7 810 68C818.5 68.3 829 66.8 835 68C841 69.2 845.2 73.2 846 75C846.8 76.8 846 77.9 840 78.5C834 79.1 818.3 78.9 810 78.5C801.7 78.1 794.3 78.1 790 76C785.7 73.9 780.7 67.3 784 66Z" fill="#94cce0"/><path d="M789 55C791.3 53 799.5 51.3 805 51C810.5 50.7 817.5 51.5 822 53C826.5 54.5 831 58.1 832 60C833 61.9 832.5 63.8 828 64.5C823.5 65.2 811.2 64.8 805 64.5C798.8 64.2 793.7 64.6 791 63C788.3 61.4 786.7 57 789 55Z" fill="#1c24a6"/><path d="M846 45.5C853.8 44.8 887.2 46 895 47C902.8 48 896.3 50.1 893 51.5C889.7 52.9 880.2 54.1 875 55.5C869.8 56.9 865.3 59.6 862 60C858.7 60.4 857.3 59.5 855 58C852.7 56.5 849.5 53.1 848 51C846.5 48.9 838.2 46.2 846 45.5Z" fill="#96fc3a"/><path d="M864 70C864.7 68.8 870 68.2 872 69C874 69.8 876.7 73.8 876 75C875.3 76.2 870 76.8 868 76C866 75.2 863.3 71.2 864 70Z" fill="#5a8ad0"/><ellipse cx="946" cy="54" rx="5" ry="7" fill="#5a8ad0"/><ellipse cx="949" cy="55" rx="3" ry="5" fill="#2a3ab4"/><ellipse cx="638" cy="160" rx="5" ry="9" fill="#2a3ab4"/><path d="M660 158C663 156.8 672.2 159.3 676 161C679.8 162.7 682.3 165.5 683 168C683.7 170.5 683 174.5 680 176C677 177.5 668.7 178.3 665 177C661.3 175.7 658.8 171.2 658 168C657.2 164.8 657 159.2 660 158Z" fill="#a8f070"/><path d="M645 166C646.3 164.2 653.8 163.7 656 165C658.2 166.3 659.3 172.2 658 174C656.7 175.8 650.2 177.3 648 176C645.8 174.7 643.7 167.8 645 166Z" fill="#c0f4a8"/><path d="M690 152C692 150.7 700.2 150.2 703 151C705.8 151.8 707.7 155.3 707 157C706.3 158.7 701.7 160.7 699 161C696.3 161.3 692.5 160.5 691 159C689.5 157.5 688 153.3 690 152Z" fill="#5a8ad0"/><path d="M749 152C755.7 149.8 777.3 149.5 790 149C802.7 148.5 817.3 148.7 825 149C832.7 149.3 834.5 147.5 836 151C837.5 154.5 835.3 165.2 834 170C832.7 174.8 835.3 178.2 828 180C820.7 181.8 801.3 180.4 790 180.5C778.7 180.6 766.5 181.4 760 180.5C753.5 179.6 752.7 178.1 751 175C749.3 171.9 750.3 165.8 750 162C749.7 158.2 742.3 154.2 749 152Z" fill="#2a3ab4"/><path d="M750 170C753.8 168.8 768 172.3 775 174C782 175.7 792.8 178.7 792 180C791.2 181.3 776.7 181.8 770 182C763.3 182.2 755.3 183 752 181C748.7 179 746.2 171.2 750 170Z" fill="#5a8ad0"/><path d="M826 147.5C827.3 146 837.3 146.8 840 148C842.7 149.2 843.3 153.5 842 155C840.7 156.5 834.7 158.2 832 157C829.3 155.8 824.7 149 826 147.5Z" fill="#5a8ad0"/><path d="M804 158C807.5 155.5 820.3 156.2 825 157C829.7 157.8 831 160 832 163C833 166 833.8 172.6 831 175C828.2 177.4 819.5 178 815 177.5C810.5 177 805.8 175.2 804 172C802.2 168.8 800.5 160.5 804 158Z" fill="#0a0a96"/><path d="M840 152C845.3 148.8 860 151.3 870 151C880 150.7 890.8 150.2 900 150C909.2 149.8 920.3 149.3 925 150C929.7 150.7 928.8 152.7 928 154C927.2 155.3 924.7 156.7 920 158C915.3 159.3 906.7 160.3 900 162C893.3 163.7 885.7 165.7 880 168C874.3 170.3 870.2 174 866 176C861.8 178 858.8 179.5 855 180C851.2 180.5 845.8 180.7 843 179C840.2 177.3 838.5 174.5 838 170C837.5 165.5 834.7 155.2 840 152Z" fill="#96fc3a"/><path d="M940 158C941.3 154 946.3 149.7 948 152C949.7 154.3 950.7 167.3 950 172C949.3 176.7 945.7 179.3 944 180C942.3 180.7 940.7 179.7 940 176C939.3 172.3 938.7 162 940 158Z" fill="#2a3ab4"/></g>
</g>
<path d="M653.37 216.5v-3.6M653.37 9.6v3.6M668.94 216.5v-3.6M668.94 9.6v3.6M684.51 216.5v-3.6M684.51 9.6v3.6M700.08 216.5v-7.2M700.08 9.6v7.2M715.65 216.5v-3.6M715.65 9.6v3.6M731.22 216.5v-3.6M731.22 9.6v3.6M746.79 216.5v-3.6M746.79 9.6v3.6M762.36 216.5v-7.2M762.36 9.6v7.2M777.93 216.5v-3.6M777.93 9.6v3.6M793.5 216.5v-3.6M793.5 9.6v3.6M809.07 216.5v-3.6M809.07 9.6v3.6M824.64 216.5v-7.2M824.64 9.6v7.2M840.21 216.5v-3.6M840.21 9.6v3.6M855.78 216.5v-3.6M855.78 9.6v3.6M871.35 216.5v-3.6M871.35 9.6v3.6M886.92 216.5v-7.2M886.92 9.6v7.2M902.49 216.5v-3.6M902.49 9.6v3.6M918.06 216.5v-3.6M918.06 9.6v3.6M933.63 216.5v-3.6M933.63 9.6v3.6M637.8 203.57h3.6M949.2 203.57h-3.6M637.8 190.64h3.6M949.2 190.64h-3.6M637.8 177.71h3.6M949.2 177.71h-3.6M637.8 164.78h7.2M949.2 164.78h-7.2M637.8 151.84h3.6M949.2 151.84h-3.6M637.8 138.91h3.6M949.2 138.91h-3.6M637.8 125.98h3.6M949.2 125.98h-3.6M637.8 113.05h7.2M949.2 113.05h-7.2M637.8 100.12h3.6M949.2 100.12h-3.6M637.8 87.19h3.6M949.2 87.19h-3.6M637.8 74.26h3.6M949.2 74.26h-3.6M637.8 61.32h7.2M949.2 61.32h-7.2M637.8 48.39h3.6M949.2 48.39h-3.6M637.8 35.46h3.6M949.2 35.46h-3.6M637.8 22.53h3.6M949.2 22.53h-3.6" stroke="#000" stroke-width="1.6" fill="none"/>
<rect x="637.8" y="9.6" width="311.4" height="206.9" fill="none" stroke="#000" stroke-width="1.7" stroke-linejoin="round"/>
<rect x="413.6" y="238.5" width="207.2" height="207.1" fill="#e0fcee"/>
<g clip-path="url(#cm1)">
<g filter="url(#bl1)"><path d="M412 281.5A11 14.3 0 0 1 434 281.5ZM434 281.5A11 14.3 0 0 1 456 281.5ZM456 281.5A11.5 14.3 0 0 1 479 281.5ZM479 281.5A6.8 12.2 0 0 1 492.5 281.5ZM492.5 281.5A9.9 14.3 0 0 1 512.4 281.5ZM512.4 281.5A14.3 14.3 0 0 1 541 281.5ZM541 281.5A14 14.3 0 0 1 569 281.5ZM569 281.5A12.5 14.3 0 0 1 594 281.5ZM594 281.5A12 14.3 0 0 1 618 281.5ZM618 281.5A11 14.3 0 0 1 640 281.5Z" fill="#b8f4a0"/><path d="M412 281.5A11 13 0 0 1 434 281.5ZM434 281.5A11 13 0 0 1 456 281.5ZM456 281.5A11.5 13 0 0 1 479 281.5ZM479 281.5A6.8 11 0 0 1 492.5 281.5ZM492.5 281.5A9.9 13 0 0 1 512.4 281.5ZM512.4 281.5A14.3 13 0 0 1 541 281.5ZM541 281.5A14 13 0 0 1 569 281.5ZM569 281.5A12.5 13 0 0 1 594 281.5ZM594 281.5A12 13 0 0 1 618 281.5ZM618 281.5A11 13 0 0 1 640 281.5Z" fill="#96fc3a"/><ellipse cx="423" cy="273.7" rx="5.7" ry="2.6" fill="#d8f43c"/><ellipse cx="445" cy="273.7" rx="5.7" ry="2.6" fill="#d8f43c"/><ellipse cx="467.5" cy="273.7" rx="6" ry="2.6" fill="#d8f43c"/><ellipse cx="485.8" cy="274.9" rx="3.5" ry="2.2" fill="#d8f43c"/><ellipse cx="502.4" cy="273.7" rx="5.2" ry="2.6" fill="#d8f43c"/><ellipse cx="526.7" cy="273.7" rx="7.4" ry="2.6" fill="#d8f43c"/><ellipse cx="555" cy="273.7" rx="7.3" ry="2.6" fill="#d8f43c"/><ellipse cx="581.5" cy="273.7" rx="6.5" ry="2.6" fill="#d8f43c"/><ellipse cx="606" cy="273.7" rx="6.2" ry="2.6" fill="#d8f43c"/><ellipse cx="629" cy="273.7" rx="5.7" ry="2.6" fill="#d8f43c"/><ellipse cx="580.9" cy="274" rx="4" ry="1.6" fill="#e89a2a"/><path d="M405 297.5A8.8 14.3 0 0 0 422.5 297.5ZM422.5 297.5A10.4 14.3 0 0 0 443.4 297.5ZM443.4 297.5A11.5 14.3 0 0 0 466.4 297.5ZM466.4 297.5A18.3 14.3 0 0 0 503 297.5ZM503 297.5A13.8 14.3 0 0 0 530.5 297.5ZM530.5 297.5A13 14.3 0 0 0 556.5 297.5ZM556.5 297.5A10.1 14.3 0 0 0 576.7 297.5ZM576.7 297.5A9.6 14.3 0 0 0 596 297.5ZM596 297.5A11.2 14.3 0 0 0 618.5 297.5ZM618.5 297.5A10.8 14.3 0 0 0 640 297.5Z" fill="#b8f4a0"/><path d="M405 297.5A8.8 13 0 0 0 422.5 297.5ZM422.5 297.5A10.4 13 0 0 0 443.4 297.5ZM443.4 297.5A11.5 13 0 0 0 466.4 297.5ZM466.4 297.5A18.3 13 0 0 0 503 297.5ZM503 297.5A13.8 13 0 0 0 530.5 297.5ZM530.5 297.5A13 13 0 0 0 556.5 297.5ZM556.5 297.5A10.1 13 0 0 0 576.7 297.5ZM576.7 297.5A9.6 13 0 0 0 596 297.5ZM596 297.5A11.2 13 0 0 0 618.5 297.5ZM618.5 297.5A10.8 13 0 0 0 640 297.5Z" fill="#96fc3a"/><ellipse cx="413.8" cy="305.3" rx="4.2" ry="2.6" fill="#d8f43c"/><ellipse cx="432.9" cy="305.3" rx="5" ry="2.6" fill="#d8f43c"/><ellipse cx="454.9" cy="305.3" rx="5.5" ry="2.6" fill="#d8f43c"/><ellipse cx="484.7" cy="305.3" rx="8.8" ry="2.6" fill="#d8f43c"/><ellipse cx="516.8" cy="305.3" rx="6.6" ry="2.6" fill="#d8f43c"/><ellipse cx="543.5" cy="305.3" rx="6.2" ry="2.6" fill="#d8f43c"/><ellipse cx="566.6" cy="305.3" rx="4.8" ry="2.6" fill="#d8f43c"/><ellipse cx="586.4" cy="305.3" rx="4.6" ry="2.6" fill="#d8f43c"/><ellipse cx="607.2" cy="305.3" rx="5.4" ry="2.6" fill="#d8f43c"/><ellipse cx="629.2" cy="305.3" rx="5.2" ry="2.6" fill="#d8f43c"/><ellipse cx="490.4" cy="305" rx="4" ry="1.5" fill="#e89a2a"/><ellipse cx="517" cy="305" rx="4" ry="1.6" fill="#e8f040"/><ellipse cx="581" cy="305" rx="4" ry="1.6" fill="#e8f040"/><rect x="405" y="275.8" width="230" height="5.5" fill="#96fc3a"/><rect x="405" y="297.8" width="230" height="5" fill="#96fc3a"/><rect x="405" y="280.6" width="230" height="18" fill="#d4f4f0"/><rect x="405" y="282.4" width="230" height="14.4" fill="#3048bc"/><rect x="405" y="283.8" width="230" height="11.6" fill="#10108e"/><rect x="405" y="286.8" width="230" height="5.8" fill="#2a0862"/></g><g filter="url(#bl1)"><path d="M412 383A12.2 11.5 0 0 1 436.5 383ZM438.5 383A10.2 10.3 0 0 1 459 383ZM460 383A11.5 11.5 0 0 1 483 383ZM483.5 383A14.2 11.5 0 0 1 512 383ZM514.5 383A14.2 11.5 0 0 1 543 383ZM545 383A12.5 11.5 0 0 1 570 383ZM574 383A10.5 9.2 0 0 1 595 383ZM595 383A8.5 9.8 0 0 1 612 383ZM613 383A9.5 9.2 0 0 1 632 383Z" fill="#8cc4dc"/><path d="M412 383A12.2 10.2 0 0 1 436.5 383ZM438.5 383A10.2 9.2 0 0 1 459 383ZM460 383A11.5 10.2 0 0 1 483 383ZM483.5 383A14.2 10.2 0 0 1 512 383ZM514.5 383A14.2 10.2 0 0 1 543 383ZM545 383A12.5 10.2 0 0 1 570 383ZM574 383A10.5 8.2 0 0 1 595 383ZM595 383A8.5 8.7 0 0 1 612 383ZM613 383A9.5 8.2 0 0 1 632 383Z" fill="#12189c"/><path d="M405 402.5A11.8 11.5 0 0 0 428.7 402.5ZM428.7 402.5A13.7 11.5 0 0 0 456 402.5ZM456 402.5A7.8 9.2 0 0 0 471.6 402.5ZM471.6 402.5A12.7 11.5 0 0 0 497 402.5ZM499.8 402.5A13.6 11.5 0 0 0 527 402.5ZM527 402.5A14.5 11.5 0 0 0 556 402.5ZM556 402.5A12.5 11.5 0 0 0 581 402.5ZM581 402.5A8.3 9.8 0 0 0 597.6 402.5ZM597.6 402.5A10.4 11.5 0 0 0 618.5 402.5ZM618.5 402.5A10.8 11.5 0 0 0 640 402.5Z" fill="#8cc4dc"/><path d="M405 402.5A11.8 10.2 0 0 0 428.7 402.5ZM428.7 402.5A13.7 10.2 0 0 0 456 402.5ZM456 402.5A7.8 8.2 0 0 0 471.6 402.5ZM471.6 402.5A12.7 10.2 0 0 0 497 402.5ZM499.8 402.5A13.6 10.2 0 0 0 527 402.5ZM527 402.5A14.5 10.2 0 0 0 556 402.5ZM556 402.5A12.5 10.2 0 0 0 581 402.5ZM581 402.5A8.3 8.7 0 0 0 597.6 402.5ZM597.6 402.5A10.4 10.2 0 0 0 618.5 402.5ZM618.5 402.5A10.8 10.2 0 0 0 640 402.5Z" fill="#12189c"/><rect x="405" y="382" width="230" height="21.5" fill="#d4f6ec"/><rect x="405" y="385.6" width="230" height="15" fill="#b8f49a"/><rect x="405" y="386.4" width="230" height="13.4" fill="#96fc3a"/><rect x="405" y="389" width="230" height="8.2" fill="#e8f040"/><rect x="416" y="390.2" width="22" height="6" rx="3" fill="#e46a1e"/><rect x="440" y="390.2" width="57" height="6" rx="3" fill="#e46a1e"/><rect x="499" y="390.2" width="94" height="6" rx="3" fill="#e46a1e"/><rect x="596" y="390.2" width="29" height="6" rx="3" fill="#e46a1e"/><rect x="420" y="391.3" width="12" height="3.8" rx="1.9" fill="#d43c10"/><rect x="444" y="391.3" width="10" height="3.8" rx="1.9" fill="#d43c10"/><rect x="462" y="391.3" width="30" height="3.8" rx="1.9" fill="#d43c10"/><rect x="550" y="391.3" width="36" height="3.8" rx="1.9" fill="#d43c10"/><rect x="600" y="391.3" width="7" height="3.8" rx="1.9" fill="#d43c10"/></g>
</g>
<path d="M426.55 445.6v-3.6M426.55 238.5v3.6M439.5 445.6v-3.6M439.5 238.5v3.6M452.45 445.6v-3.6M452.45 238.5v3.6M465.4 445.6v-7.2M465.4 238.5v7.2M478.35 445.6v-3.6M478.35 238.5v3.6M491.3 445.6v-3.6M491.3 238.5v3.6M504.25 445.6v-3.6M504.25 238.5v3.6M517.2 445.6v-7.2M517.2 238.5v7.2M530.15 445.6v-3.6M530.15 238.5v3.6M543.1 445.6v-3.6M543.1 238.5v3.6M556.05 445.6v-3.6M556.05 238.5v3.6M569 445.6v-7.2M569 238.5v7.2M581.95 445.6v-3.6M581.95 238.5v3.6M594.9 445.6v-3.6M594.9 238.5v3.6M607.85 445.6v-3.6M607.85 238.5v3.6M413.6 432.66h3.6M620.8 432.66h-3.6M413.6 419.71h3.6M620.8 419.71h-3.6M413.6 406.77h3.6M620.8 406.77h-3.6M413.6 393.83h7.2M620.8 393.83h-7.2M413.6 380.88h3.6M620.8 380.88h-3.6M413.6 367.94h3.6M620.8 367.94h-3.6M413.6 354.99h3.6M620.8 354.99h-3.6M413.6 342.05h7.2M620.8 342.05h-7.2M413.6 329.11h3.6M620.8 329.11h-3.6M413.6 316.16h3.6M620.8 316.16h-3.6M413.6 303.22h3.6M620.8 303.22h-3.6M413.6 290.27h7.2M620.8 290.27h-7.2M413.6 277.33h3.6M620.8 277.33h-3.6M413.6 264.39h3.6M620.8 264.39h-3.6M413.6 251.44h3.6M620.8 251.44h-3.6" stroke="#000" stroke-width="1.6" fill="none"/>
<rect x="413.6" y="238.5" width="207.2" height="207.1" fill="none" stroke="#000" stroke-width="1.7" stroke-linejoin="round"/>
<rect x="637.8" y="238.5" width="311.4" height="207.1" fill="#e0fcee"/>
<g clip-path="url(#cr1)">
<g filter="url(#bl1)"><path d="M630 272C633.3 270.3 643.3 271 650 271C656.7 271 665 271.5 670 272C675 272.5 678.2 272.7 680 274C681.8 275.3 684.3 278.8 681 280C677.7 281.2 666.8 280.8 660 281C653.2 281.2 645 281 640 281C635 281 631.7 282.5 630 281C628.3 279.5 626.7 273.7 630 272Z" fill="#b8f4a0"/><path d="M637 273C640 271.8 649.2 272.4 655 272.5C660.8 272.6 668 272.9 672 273.5C676 274.1 677.8 275 679 276C680.2 277 682.2 278.8 679 279.5C675.8 280.2 667 279.9 660 280C653 280.1 640.8 281.2 637 280C633.2 278.8 634 274.2 637 273Z" fill="#96fc3a"/><path d="M679 271C681.8 269.7 688.2 269.2 695 269C701.8 268.8 712.8 269 720 269.5C727.2 270 734.2 270.4 738 272C741.8 273.6 744.3 277.5 743 279C741.7 280.5 737.2 280.7 730 281C722.8 281.3 708 281 700 281C692 281 685.7 281.7 682 281C678.3 280.3 678.5 278.7 678 277C677.5 275.3 676.2 272.3 679 271Z" fill="#96fc3a"/><ellipse cx="685" cy="275.5" rx="4" ry="2" fill="#d8f040"/><path d="M746 273C749.8 271.3 761 271.6 770 271C779 270.4 788.3 269.8 800 269.5C811.7 269.2 832 269.1 840 269.5C848 269.9 845.5 271.9 848 272C850.5 272.1 846.3 270.3 855 270C863.7 269.7 883.3 269.9 900 270C916.7 270.1 945.8 268.7 955 270.5C964.2 272.3 964.2 279.2 955 281C945.8 282.8 925.8 281.4 900 281.5C874.2 281.6 823.3 281.5 800 281.5C776.7 281.5 768.8 281.6 760 281.5C751.2 281.4 749.3 282.4 747 281C744.7 279.6 742.2 274.7 746 273Z" fill="#96fc3a"/><ellipse cx="812" cy="274.5" rx="12" ry="1.8" fill="#cdf240"/><rect x="630" y="280.5" width="330" height="19" fill="#c4ecee"/><path d="M632 282.5C636.7 279.9 651.5 281.8 660 282C668.5 282.2 678.3 282.2 683 283.5C687.7 284.8 687.8 287.8 688 290C688.2 292.2 688.7 295.2 684 296.5C679.3 297.8 668.7 297.3 660 297.5C651.3 297.7 636.7 300 632 297.5C627.3 295 627.3 285.1 632 282.5Z" fill="#2a3ab4"/><path d="M632 284.5C636.7 282.6 652 283.8 660 284C668 284.2 676 284.5 680 285.5C684 286.5 683.8 288.4 684 290C684.2 291.6 685 294.1 681 295C677 295.9 668.2 295.4 660 295.5C651.8 295.6 636.7 297.3 632 295.5C627.3 293.7 627.3 286.4 632 284.5Z" fill="#10108e"/><path d="M634 287.5C638.3 286.5 653 286.9 660 287C667 287.1 672.8 287.5 676 288C679.2 288.5 679 289.2 679 290C679 290.8 679.2 292 676 292.5C672.8 293 667 292.9 660 293C653 293.1 638.3 293.9 634 293C629.7 292.1 629.7 288.5 634 287.5Z" fill="#2c0868"/><path d="M690 282C700 279.5 723.3 282 750 282C776.7 282 815.3 281.9 850 282C884.7 282.1 940 279.9 958 282.5C976 285.1 976 295 958 297.5C940 300 883 297.4 850 297.5C817 297.6 785 297.9 760 298C735 298.1 711.7 298.2 700 298C688.3 297.8 691.7 299.7 690 297C688.3 294.3 680 284.5 690 282Z" fill="#2a3ab4"/><path d="M690 284C700 282.2 723.3 284 750 284C776.7 284 815.3 283.9 850 284C884.7 284.1 940 282.6 958 284.5C976 286.4 976 293.7 958 295.5C940 297.3 883 295.4 850 295.5C817 295.6 785 295.9 760 296C735 296.1 711.7 296.2 700 296C688.3 295.8 691.7 297 690 295C688.3 293 680 285.8 690 284Z" fill="#10108e"/><path d="M694 287.3C703.3 286.4 724 287.1 750 287C776 286.9 815.3 286.9 850 287C884.7 287.1 940 286.3 958 287.3C976 288.3 976 291.9 958 292.8C940 293.7 883 292.8 850 292.8C817 292.8 785 293 760 293C735 293 711 293.1 700 293C689 292.9 695 293.4 694 292.5C693 291.6 684.7 288.2 694 287.3Z" fill="#2c0868"/><ellipse cx="692" cy="300" rx="3" ry="2.5" fill="#8cc4dc"/><path d="M632 299.5C636.7 297.8 652 299.2 660 299C668 298.8 675.7 298.3 680 298.5C684.3 298.7 685.5 298.6 686 300C686.5 301.4 686.5 305.3 683 307C679.5 308.7 672.2 309.5 665 310C657.8 310.5 645.5 310.2 640 310C634.5 309.8 633.3 310.8 632 309C630.7 307.2 627.3 301.2 632 299.5Z" fill="#96fc3a"/><ellipse cx="677" cy="304" rx="3.5" ry="1.6" fill="#e8a02a"/><path d="M700 300C704.2 298.8 722 299.7 730 299.5C738 299.3 744.3 298.4 748 299C751.7 299.6 752.3 301.3 752 303C751.7 304.7 751.3 307.8 746 309C740.7 310.2 726.8 310.3 720 310C713.2 309.7 708.3 308.7 705 307C701.7 305.3 695.8 301.2 700 300Z" fill="#96fc3a"/><ellipse cx="746" cy="303.5" rx="4" ry="1.7" fill="#e8f040"/><path d="M752 299.5C760 298.2 784.5 299.1 800 299C815.5 298.9 836.3 298.5 845 299C853.7 299.5 849.8 301.8 852 302C854.2 302.2 850 300.4 858 300C866 299.6 883.3 299.6 900 299.5C916.7 299.4 948.3 297.6 958 299.5C967.7 301.4 967.7 309 958 311C948.3 313 918 311.4 900 311.5C882 311.6 866.7 311.6 850 311.5C833.3 311.4 815 311.2 800 311C785 310.8 768 310.7 760 310C752 309.3 753.3 308.8 752 307C750.7 305.2 744 300.8 752 299.5Z" fill="#96fc3a"/><ellipse cx="839.6" cy="307" rx="5" ry="1.7" fill="#e8d030"/><ellipse cx="929.4" cy="305.5" rx="6" ry="1.8" fill="#e89a2a"/><ellipse cx="880" cy="306" rx="25" ry="1.8" fill="#d8f040" opacity="0.7"/></g><g filter="url(#bl)"><path d="M632 375C633.7 373.5 639.3 375.2 642 376C644.7 376.8 645.8 380 648 380C650.2 380 649.7 376.9 655 376C660.3 375.1 672.5 374.5 680 374.5C687.5 374.5 686.7 375.8 700 376C713.3 376.2 743.3 376 760 376C776.7 376 789.7 376.5 800 376C810.3 375.5 813.7 373.8 822 373C830.3 372.2 840.7 371.7 850 371.5C859.3 371.3 872 370.9 878 372C884 373.1 882.3 377.2 886 378C889.7 378.8 888 376.8 900 376.5C912 376.2 948.3 374.6 958 376C967.7 377.4 967.7 383.4 958 385C948.3 386.6 926.3 385.4 900 385.5C873.7 385.6 833.3 385.5 800 385.5C766.7 385.5 726.7 385.5 700 385.5C673.3 385.5 651.3 385.6 640 385.5C628.7 385.4 633.3 386.8 632 385C630.7 383.2 630.3 376.5 632 375Z" fill="#2a3ab4"/><path d="M700 377C710 375.9 740.8 377.5 760 377.5C779.2 377.5 805.8 375.9 815 377C824.2 378.1 824.2 382.8 815 384C805.8 385.2 779.2 384 760 384C740.8 384 710 385.2 700 384C690 382.8 690 378.1 700 377Z" fill="#5a8ad0" opacity="0.85"/><path d="M888 378C899.7 376.9 946.3 376.5 958 377.5C969.7 378.5 969.7 382.9 958 384C946.3 385.1 899.7 385 888 384C876.3 383 876.3 379.1 888 378Z" fill="#4a70c8" opacity="0.8"/><path d="M652 377.5C656.2 376.3 672 376.4 680 376.5C688 376.6 698.3 376.8 700 378C701.7 379.2 697.5 382.6 690 383.5C682.5 384.4 661.3 384.5 655 383.5C648.7 382.5 647.8 378.7 652 377.5Z" fill="#12189c"/><path d="M822 375C826.7 373.4 841.2 373.7 850 373.5C858.8 373.3 869.3 372.8 875 374C880.7 375.2 888.2 379.4 884 381C879.8 382.6 860.3 383.2 850 383.5C839.7 383.8 826.7 384.4 822 383C817.3 381.6 817.3 376.6 822 375Z" fill="#12189c"/><rect x="630" y="384.6" width="330" height="18.4" fill="#d4f6ec"/><path d="M640 386C650.5 385.3 673.3 385.8 700 385.8C726.7 385.8 757 385.8 800 385.8C843 385.8 931.7 383.4 958 386C984.3 388.6 984.3 398.9 958 401.5C931.7 404.1 843 401.5 800 401.5C757 401.5 725.8 401.5 700 401.5C674.2 401.5 655.3 402.4 645 401.5C634.7 400.6 639.3 397.9 638 396C636.7 394.1 636.7 391.7 637 390C637.3 388.3 629.5 386.7 640 386Z" fill="#96fc3a"/><path d="M646 389C655.3 388.1 674.3 388.8 700 388.8C725.7 388.8 757 388.8 800 388.8C843 388.8 931.7 387.4 958 389C984.3 390.6 984.3 396.9 958 398.5C931.7 400.1 843 398.5 800 398.5C757 398.5 725.3 398.5 700 398.5C674.7 398.5 657.3 399.2 648 398.5C638.7 397.8 644.3 395.6 644 394C643.7 392.4 636.7 389.9 646 389Z" fill="#e8f040"/><rect x="654" y="390.2" width="99" height="6.4" rx="3" fill="#e46a1e"/><rect x="758" y="390.2" width="71" height="6.4" rx="3" fill="#e46a1e"/><rect x="834" y="390.2" width="51" height="6.4" rx="3" fill="#e46a1e"/><rect x="888" y="390.2" width="60" height="6.4" rx="3" fill="#e46a1e"/><rect x="662" y="391.2" width="86" height="4.4" rx="2.2" fill="#d43c10"/><rect x="764" y="391.2" width="58" height="4.4" rx="2.2" fill="#d43c10"/><rect x="842" y="391.2" width="38" height="4.4" rx="2.2" fill="#d43c10"/><rect x="894" y="391.2" width="48" height="4.4" rx="2.2" fill="#d43c10"/><path d="M648 403C656.3 402 678 402.9 700 403C722 403.1 758.7 403.5 780 403.5C801.3 403.5 819.3 402.6 828 403C836.7 403.4 830.7 406 832 406C833.3 406 829.7 403.5 836 403C842.3 402.5 863.7 402.7 870 403C876.3 403.3 862.3 404.6 874 405C885.7 405.4 928.7 404.5 940 405.5C951.3 406.5 943.7 409.5 942 411C940.3 412.5 942 413.9 930 414.5C918 415.1 885 414.7 870 414.5C855 414.3 851.7 413.6 840 413.5C828.3 413.4 823.3 413.8 800 414C776.7 414.2 723.3 414.5 700 414.5C676.7 414.5 668.3 414.9 660 414C651.7 413.1 652 410.8 650 409C648 407.2 639.7 404 648 403Z" fill="#12189c"/></g>
</g>
<path d="M653.37 445.6v-3.6M653.37 238.5v3.6M668.94 445.6v-3.6M668.94 238.5v3.6M684.51 445.6v-3.6M684.51 238.5v3.6M700.08 445.6v-7.2M700.08 238.5v7.2M715.65 445.6v-3.6M715.65 238.5v3.6M731.22 445.6v-3.6M731.22 238.5v3.6M746.79 445.6v-3.6M746.79 238.5v3.6M762.36 445.6v-7.2M762.36 238.5v7.2M777.93 445.6v-3.6M777.93 238.5v3.6M793.5 445.6v-3.6M793.5 238.5v3.6M809.07 445.6v-3.6M809.07 238.5v3.6M824.64 445.6v-7.2M824.64 238.5v7.2M840.21 445.6v-3.6M840.21 238.5v3.6M855.78 445.6v-3.6M855.78 238.5v3.6M871.35 445.6v-3.6M871.35 238.5v3.6M886.92 445.6v-7.2M886.92 238.5v7.2M902.49 445.6v-3.6M902.49 238.5v3.6M918.06 445.6v-3.6M918.06 238.5v3.6M933.63 445.6v-3.6M933.63 238.5v3.6M637.8 432.66h3.6M949.2 432.66h-3.6M637.8 419.71h3.6M949.2 419.71h-3.6M637.8 406.77h3.6M949.2 406.77h-3.6M637.8 393.83h7.2M949.2 393.83h-7.2M637.8 380.88h3.6M949.2 380.88h-3.6M637.8 367.94h3.6M949.2 367.94h-3.6M637.8 354.99h3.6M949.2 354.99h-3.6M637.8 342.05h7.2M949.2 342.05h-7.2M637.8 329.11h3.6M949.2 329.11h-3.6M637.8 316.16h3.6M949.2 316.16h-3.6M637.8 303.22h3.6M949.2 303.22h-3.6M637.8 290.27h7.2M949.2 290.27h-7.2M637.8 277.33h3.6M949.2 277.33h-3.6M637.8 264.39h3.6M949.2 264.39h-3.6M637.8 251.44h3.6M949.2 251.44h-3.6" stroke="#000" stroke-width="1.6" fill="none"/>
<rect x="637.8" y="238.5" width="311.4" height="207.1" fill="none" stroke="#000" stroke-width="1.7" stroke-linejoin="round"/>
<rect x="413.6" y="466.8" width="207.2" height="206.8" fill="#e0fcee"/>
<g clip-path="url(#cm2)">
<g filter="url(#bl)"><path d="M482 504C483.6 504 484 504.8 484 507.5C484 510.2 483.6 511 482 511C480.4 511 480 510.2 480 507.5C480 504.8 480.4 504 482 504Z" fill="#cdf7c6"/><path d="M454.9 605C456.5 605 457 605.9 457 609C457 612.1 456.5 613 454.9 613C453.3 613 452.8 612.1 452.8 609C452.8 605.9 453.3 605 454.9 605Z" fill="#cdf7c6"/><path d="M457 628C458.6 628 459 628.9 459 632C459 635.1 458.6 636 457 636C455.4 636 455 635.1 455 632C455 628.9 455.4 628 457 628Z" fill="#cdf7c6"/><path d="M415.5 502.9L415.5 511.4C415.5 517 415.5 517 415.5 522.6L415.5 531.1" stroke="#c8f8b4" stroke-width="10.2" stroke-linecap="round" fill="none"/><path d="M415.5 502.9L415.5 511.4C415.5 517 415.5 517 415.5 522.6L415.5 531.1" stroke="#96fc3a" stroke-width="7.8" stroke-linecap="round" fill="none"/><ellipse cx="415.5" cy="508.4" rx="3.9" ry="7.9" fill="#96fc3a"/><ellipse cx="415.5" cy="525.6" rx="3.9" ry="7.9" fill="#96fc3a"/><path d="M429.3 503.1L429.3 511.4C429.3 517 426.1 517 426.1 522.6L426.1 530.9" stroke="#a6dce6" stroke-width="11.2" stroke-linecap="round" fill="none"/><path d="M429.3 503.1L429.3 511.4C429.3 517 426.1 517 426.1 522.6L426.1 530.9" stroke="#6a9ad4" stroke-width="6.6" stroke-linecap="round" fill="none"/><ellipse cx="429.3" cy="508.4" rx="5" ry="8.3" fill="#1c24a6"/><ellipse cx="429.3" cy="508.4" rx="3.1" ry="5.4" fill="#1c24a6"/><ellipse cx="426.1" cy="525.6" rx="4.9" ry="8.3" fill="#1c24a6"/><ellipse cx="426.1" cy="525.6" rx="3.1" ry="5.4" fill="#0c0c98"/><path d="M438.5 503.5L438.5 511.6C438.5 517 439.5 517 439.5 522.4L439.5 530.5" stroke="#c8f8b4" stroke-width="11.4" stroke-linecap="round" fill="none"/><path d="M438.5 503.5L438.5 511.6C438.5 517 439.5 517 439.5 522.4L439.5 530.5" stroke="#96fc3a" stroke-width="9" stroke-linecap="round" fill="none"/><ellipse cx="438.5" cy="508.4" rx="4.5" ry="7.9" fill="#96fc3a"/><ellipse cx="439.5" cy="525.6" rx="4.5" ry="7.9" fill="#96fc3a"/><path d="M451.5 502.9L451.5 511.4C451.5 517 447.5 517 447.5 522.6L447.5 531.1" stroke="#a6dce6" stroke-width="10.8" stroke-linecap="round" fill="none"/><path d="M451.5 502.9L451.5 511.4C451.5 517 447.5 517 447.5 522.6L447.5 531.1" stroke="#6a9ad4" stroke-width="6.3" stroke-linecap="round" fill="none"/><ellipse cx="451.5" cy="508.4" rx="4.7" ry="8.3" fill="#1c24a6"/><ellipse cx="451.5" cy="508.4" rx="3" ry="5.4" fill="#1c24a6"/><ellipse cx="447.5" cy="525.6" rx="4.7" ry="8.3" fill="#1c24a6"/><ellipse cx="447.5" cy="525.6" rx="3" ry="5.4" fill="#1c24a6"/><path d="M460 503.4L460 511.5C460 517 461.7 517 461.7 522.5L461.7 530.6" stroke="#c8f8b4" stroke-width="11.1" stroke-linecap="round" fill="none"/><path d="M460 503.4L460 511.5C460 517 461.7 517 461.7 522.5L461.7 530.6" stroke="#96fc3a" stroke-width="8.7" stroke-linecap="round" fill="none"/><ellipse cx="460" cy="508.4" rx="3.5" ry="7.9" fill="#96fc3a"/><ellipse cx="461.7" cy="525.6" rx="5.3" ry="7.9" fill="#96fc3a"/><path d="M474.2 503.1L474.2 510.9C474.2 516 471 516 471 521.1L471 528.9" stroke="#a6dce6" stroke-width="11.3" stroke-linecap="round" fill="none"/><path d="M474.2 503.1L474.2 510.9C474.2 516 471 516 471 521.1L471 528.9" stroke="#6a9ad4" stroke-width="6.6" stroke-linecap="round" fill="none"/><ellipse cx="474.2" cy="507.8" rx="5" ry="7.8" fill="#1c24a6"/><ellipse cx="474.2" cy="507.8" rx="3.1" ry="5.1" fill="#0c0c98"/><ellipse cx="471" cy="524.2" rx="5" ry="7.8" fill="#1c24a6"/><ellipse cx="471" cy="524.2" rx="3.1" ry="5.1" fill="#0c0c98"/><path d="M487.8 505.7L487.8 513.4C487.8 518.5 486.2 518.5 486.2 523.6L486.2 531.3" stroke="#a6dce6" stroke-width="8.3" stroke-linecap="round" fill="none"/><path d="M487.8 505.7L487.8 513.4C487.8 518.5 486.2 518.5 486.2 523.6L486.2 531.3" stroke="#6a9ad4" stroke-width="4.3" stroke-linecap="round" fill="none"/><ellipse cx="487.8" cy="511.1" rx="2.4" ry="7.1" fill="#3a58bc"/><ellipse cx="486.2" cy="525.9" rx="4" ry="7.1" fill="#3a58bc"/><path d="M495.6 503.6L495.6 511.7C495.6 517 498.3 517 498.3 522.3L498.3 530.4" stroke="#c8f8b4" stroke-width="11.7" stroke-linecap="round" fill="none"/><path d="M495.6 503.6L495.6 511.7C495.6 517 498.3 517 498.3 522.3L498.3 530.4" stroke="#96fc3a" stroke-width="9.3" stroke-linecap="round" fill="none"/><ellipse cx="495.6" cy="508.4" rx="4.6" ry="7.9" fill="#96fc3a"/><ellipse cx="498.3" cy="525.6" rx="4.6" ry="7.9" fill="#96fc3a"/><path d="M509.7 503.1L509.7 511.5C509.7 517 507.6 517 507.6 522.5L507.6 530.9" stroke="#a6dce6" stroke-width="11.3" stroke-linecap="round" fill="none"/><path d="M509.7 503.1L509.7 511.5C509.7 517 507.6 517 507.6 522.5L507.6 530.9" stroke="#6a9ad4" stroke-width="6.6" stroke-linecap="round" fill="none"/><ellipse cx="509.7" cy="508.4" rx="5" ry="8.3" fill="#1c24a6"/><ellipse cx="509.7" cy="508.4" rx="3.1" ry="5.4" fill="#0c0c98"/><ellipse cx="507.6" cy="525.6" rx="5" ry="8.3" fill="#1c24a6"/><ellipse cx="507.6" cy="525.6" rx="3.1" ry="5.4" fill="#0c0c98"/><path d="M519.7 504.6L519.7 512.3C519.7 517.5 525.5 517.5 525.5 522.7L525.5 530.4" stroke="#c8f8b4" stroke-width="13.5" stroke-linecap="round" fill="none"/><path d="M519.7 504.6L519.7 512.3C519.7 517.5 525.5 517.5 525.5 522.7L525.5 530.4" stroke="#96fc3a" stroke-width="11.1" stroke-linecap="round" fill="none"/><ellipse cx="519.7" cy="508.6" rx="5.3" ry="8.1" fill="#96fc3a"/><ellipse cx="525.5" cy="526.4" rx="5.8" ry="8.1" fill="#96fc3a"/><ellipse cx="525.5" cy="524.9" rx="2.3" ry="3.7" fill="#c8f43c"/><path d="M536.4 503.2L536.4 511.5C536.4 517 536 517 536 522.5L536 530.8" stroke="#a6dce6" stroke-width="11.4" stroke-linecap="round" fill="none"/><path d="M536.4 503.2L536.4 511.5C536.4 517 536 517 536 522.5L536 530.8" stroke="#6a9ad4" stroke-width="6.7" stroke-linecap="round" fill="none"/><ellipse cx="536.4" cy="508.4" rx="5" ry="8.3" fill="#1c24a6"/><ellipse cx="536.4" cy="508.4" rx="3.2" ry="5.4" fill="#0c0c98"/><ellipse cx="536" cy="525.6" rx="5" ry="8.3" fill="#1c24a6"/><ellipse cx="536" cy="525.6" rx="3.2" ry="5.4" fill="#0c0c98"/><path d="M545.9 503.3L545.9 511.2C545.9 516.5 551.1 516.5 551.1 521.8L551.1 529.7" stroke="#c8f8b4" stroke-width="12.9" stroke-linecap="round" fill="none"/><path d="M545.9 503.3L545.9 511.2C545.9 516.5 551.1 516.5 551.1 521.8L551.1 529.7" stroke="#96fc3a" stroke-width="10.5" stroke-linecap="round" fill="none"/><ellipse cx="545.9" cy="507.6" rx="5.3" ry="8.1" fill="#96fc3a"/><ellipse cx="551.1" cy="525.4" rx="5.3" ry="8.1" fill="#96fc3a"/><path d="M562.6 502.5L562.6 510.6C562.6 516 560.5 516 560.5 521.4L560.5 529.5" stroke="#a6dce6" stroke-width="12" stroke-linecap="round" fill="none"/><path d="M562.6 502.5L562.6 510.6C562.6 516 560.5 516 560.5 521.4L560.5 529.5" stroke="#6a9ad4" stroke-width="7.2" stroke-linecap="round" fill="none"/><ellipse cx="562.6" cy="507.4" rx="5.7" ry="8.3" fill="#1c24a6"/><ellipse cx="562.6" cy="507.4" rx="3.6" ry="5.4" fill="#0c0c98"/><ellipse cx="560.5" cy="524.6" rx="5" ry="8.3" fill="#1c24a6"/><ellipse cx="560.5" cy="524.6" rx="3.2" ry="5.4" fill="#0c0c98"/><path d="M573.6 503.8L573.6 511.4C573.6 516.5 572 516.5 572 521.6L572 529.2" stroke="#c8f8b4" stroke-width="10" stroke-linecap="round" fill="none"/><path d="M573.6 503.8L573.6 511.4C573.6 516.5 572 516.5 572 521.6L572 529.2" stroke="#96fc3a" stroke-width="7.6" stroke-linecap="round" fill="none"/><ellipse cx="573.6" cy="508.6" rx="4.7" ry="7.3" fill="#96fc3a"/><ellipse cx="572" cy="524.4" rx="2.9" ry="7.3" fill="#96fc3a"/><path d="M586.7 503.1L586.7 511.1C586.7 516.5 578.3 516.5 578.3 521.9L578.3 529.9" stroke="#a6dce6" stroke-width="11.2" stroke-linecap="round" fill="none"/><path d="M586.7 503.1L586.7 511.1C586.7 516.5 578.3 516.5 578.3 521.9L578.3 529.9" stroke="#6a9ad4" stroke-width="6.5" stroke-linecap="round" fill="none"/><ellipse cx="586.7" cy="508.1" rx="6.3" ry="8.1" fill="#1c24a6"/><ellipse cx="586.7" cy="508.1" rx="4" ry="5.2" fill="#0c0c98"/><ellipse cx="578.3" cy="524.9" rx="3.5" ry="8.1" fill="#1c24a6"/><ellipse cx="578.3" cy="524.9" rx="2.2" ry="5.2" fill="#0c0c98"/><path d="M597.6 505.6L597.6 512.8C597.6 517.5 590.2 517.5 590.2 522.2L590.2 529.4" stroke="#c8f8b4" stroke-width="11.7" stroke-linecap="round" fill="none"/><path d="M597.6 505.6L597.6 512.8C597.6 517.5 590.2 517.5 590.2 522.2L590.2 529.4" stroke="#96fc3a" stroke-width="9.3" stroke-linecap="round" fill="none"/><ellipse cx="597.6" cy="509.6" rx="4.6" ry="7.3" fill="#96fc3a"/><ellipse cx="590.2" cy="525.4" rx="4.6" ry="7.3" fill="#96fc3a"/><path d="M613.7 504.2L613.7 512.2C613.7 517.5 611.7 517.5 611.7 522.8L611.7 530.8" stroke="#a6dce6" stroke-width="11.4" stroke-linecap="round" fill="none"/><path d="M613.7 504.2L613.7 512.2C613.7 517.5 611.7 517.5 611.7 522.8L611.7 530.8" stroke="#6a9ad4" stroke-width="6.7" stroke-linecap="round" fill="none"/><ellipse cx="613.7" cy="509.1" rx="5" ry="8.1" fill="#1c24a6"/><ellipse cx="613.7" cy="509.1" rx="3.2" ry="5.2" fill="#0c0c98"/><ellipse cx="611.7" cy="525.9" rx="5" ry="8.1" fill="#1c24a6"/><ellipse cx="611.7" cy="525.9" rx="3.2" ry="5.2" fill="#0c0c98"/><path d="M621 506.8L621 508.4C621 509.5 621 509.5 621 510.6L621 512.2" stroke="#c8f8b4" stroke-width="8" stroke-linecap="round" fill="none"/><path d="M621 506.8L621 508.4C621 509.5 621 509.5 621 510.6L621 512.2" stroke="#96fc3a" stroke-width="5.6" stroke-linecap="round" fill="none"/><ellipse cx="621" cy="506.9" rx="2.8" ry="2.4" fill="#96fc3a"/><ellipse cx="621" cy="512.1" rx="2.8" ry="2.4" fill="#96fc3a"/><path d="M418.2 608.4L418.2 616.6C418.2 622 423 622 423 627.4L423 635.6" stroke="#a6dce6" stroke-width="11.8" stroke-linecap="round" fill="none"/><path d="M418.2 608.4L418.2 616.6C418.2 622 423 622 423 627.4L423 635.6" stroke="#6a9ad4" stroke-width="7.1" stroke-linecap="round" fill="none"/><ellipse cx="418.2" cy="613.4" rx="4.3" ry="8.3" fill="#3a58bc"/><ellipse cx="423" cy="630.6" rx="6.3" ry="8.3" fill="#1c24a6"/><ellipse cx="423" cy="630.6" rx="4" ry="5.4" fill="#0c0c98"/><path d="M432.4 608.2L432.4 616.5C432.4 622 433.4 622 433.4 627.5L433.4 635.8" stroke="#c8f8b4" stroke-width="12.8" stroke-linecap="round" fill="none"/><path d="M432.4 608.2L432.4 616.5C432.4 622 433.4 622 433.4 627.5L433.4 635.8" stroke="#96fc3a" stroke-width="10.4" stroke-linecap="round" fill="none"/><ellipse cx="432.4" cy="612.9" rx="5.2" ry="8.4" fill="#96fc3a"/><ellipse cx="433.4" cy="631.1" rx="5.2" ry="8.4" fill="#96fc3a"/><path d="M442.8 609.4L442.8 617.2C442.8 622.5 449.7 622.5 449.7 627.8L449.7 635.6" stroke="#a6dce6" stroke-width="11.7" stroke-linecap="round" fill="none"/><path d="M442.8 609.4L442.8 617.2C442.8 622.5 449.7 622.5 449.7 627.8L449.7 635.6" stroke="#6a9ad4" stroke-width="7" stroke-linecap="round" fill="none"/><ellipse cx="442.8" cy="614.1" rx="4.9" ry="8.1" fill="#1c24a6"/><ellipse cx="442.8" cy="614.1" rx="3.1" ry="5.2" fill="#0c0c98"/><ellipse cx="449.7" cy="630.9" rx="5.6" ry="8.1" fill="#1c24a6"/><ellipse cx="449.7" cy="630.9" rx="3.5" ry="5.2" fill="#1c24a6"/><path d="M463.2 606.1L463.2 614.7C463.2 620.5 467.4 620.5 467.4 626.3L467.4 634.9" stroke="#a6dce6" stroke-width="11.2" stroke-linecap="round" fill="none"/><path d="M463.2 606.1L463.2 614.7C463.2 620.5 467.4 620.5 467.4 626.3L467.4 634.9" stroke="#6a9ad4" stroke-width="6.5" stroke-linecap="round" fill="none"/><ellipse cx="463.2" cy="611.6" rx="5.6" ry="8.5" fill="#1c24a6"/><ellipse cx="463.2" cy="611.6" rx="3.6" ry="5.5" fill="#0c0c98"/><ellipse cx="467.4" cy="629.4" rx="4.2" ry="8.5" fill="#3a58bc"/><path d="M477.8 607L477.8 615.4C477.8 621 475.2 621 475.2 626.6L475.2 635" stroke="#c8f8b4" stroke-width="12.4" stroke-linecap="round" fill="none"/><path d="M477.8 607L477.8 615.4C477.8 621 475.2 621 475.2 626.6L475.2 635" stroke="#96fc3a" stroke-width="10" stroke-linecap="round" fill="none"/><ellipse cx="477.8" cy="611.9" rx="4.6" ry="8.4" fill="#96fc3a"/><ellipse cx="475.2" cy="630.1" rx="5.3" ry="8.4" fill="#96fc3a"/><path d="M487.7 607.9L487.7 616.1C487.7 621.5 491.4 621.5 491.4 626.9L491.4 635.1" stroke="#a6dce6" stroke-width="12.8" stroke-linecap="round" fill="none"/><path d="M487.7 607.9L487.7 616.1C487.7 621.5 491.4 621.5 491.4 626.9L491.4 635.1" stroke="#6a9ad4" stroke-width="7.8" stroke-linecap="round" fill="none"/><ellipse cx="487.7" cy="612.6" rx="5" ry="8.5" fill="#1c24a6"/><ellipse cx="487.7" cy="612.6" rx="3.2" ry="5.5" fill="#0c0c98"/><ellipse cx="491.4" cy="630.4" rx="6.7" ry="8.5" fill="#1c24a6"/><ellipse cx="491.4" cy="630.4" rx="4.3" ry="5.5" fill="#0c0c98"/><path d="M506.7 609.7L506.7 616.8C506.7 621.5 505 621.5 505 626.2L505 633.3" stroke="#c8f8b4" stroke-width="15.8" stroke-linecap="round" fill="none"/><path d="M506.7 609.7L506.7 616.8C506.7 621.5 505 621.5 505 626.2L505 633.3" stroke="#96fc3a" stroke-width="13.4" stroke-linecap="round" fill="none"/><ellipse cx="506.7" cy="612.6" rx="6.7" ry="8.1" fill="#96fc3a"/><ellipse cx="505" cy="630.4" rx="6.7" ry="8.1" fill="#96fc3a"/><ellipse cx="505" cy="628.9" rx="2.7" ry="3.7" fill="#c8f43c"/><path d="M519.2 608L519.2 616.1C519.2 621.5 522.9 621.5 522.9 626.9L522.9 635" stroke="#a6dce6" stroke-width="13" stroke-linecap="round" fill="none"/><path d="M519.2 608L519.2 616.1C519.2 621.5 522.9 621.5 522.9 626.9L522.9 635" stroke="#6a9ad4" stroke-width="8" stroke-linecap="round" fill="none"/><ellipse cx="519.2" cy="612.6" rx="5.6" ry="8.5" fill="#1c24a6"/><ellipse cx="519.2" cy="612.6" rx="3.6" ry="5.5" fill="#0c0c98"/><ellipse cx="522.9" cy="630.4" rx="6.3" ry="8.5" fill="#1c24a6"/><ellipse cx="522.9" cy="630.4" rx="4" ry="5.5" fill="#0c0c98"/><path d="M537.5 608.3L537.5 616.2C537.5 621.5 534.3 621.5 534.3 626.8L534.3 634.7" stroke="#c8f8b4" stroke-width="12.9" stroke-linecap="round" fill="none"/><path d="M537.5 608.3L537.5 616.2C537.5 621.5 534.3 621.5 534.3 626.8L534.3 634.7" stroke="#96fc3a" stroke-width="10.5" stroke-linecap="round" fill="none"/><ellipse cx="537.5" cy="612.6" rx="5.3" ry="8.1" fill="#96fc3a"/><ellipse cx="534.3" cy="630.4" rx="5.3" ry="8.1" fill="#96fc3a"/><ellipse cx="534.3" cy="628.9" rx="2.1" ry="3.7" fill="#c8f43c"/><path d="M548.5 606.4L548.5 615.2C548.5 621 551.1 621 551.1 626.8L551.1 635.6" stroke="#a6dce6" stroke-width="11.8" stroke-linecap="round" fill="none"/><path d="M548.5 606.4L548.5 615.2C548.5 621 551.1 621 551.1 626.8L551.1 635.6" stroke="#6a9ad4" stroke-width="7" stroke-linecap="round" fill="none"/><ellipse cx="548.5" cy="611.9" rx="5.6" ry="8.7" fill="#1c24a6"/><ellipse cx="548.5" cy="611.9" rx="3.6" ry="5.7" fill="#0c0c98"/><ellipse cx="551.1" cy="630.1" rx="4.9" ry="8.7" fill="#1c24a6"/><ellipse cx="551.1" cy="630.1" rx="3.1" ry="5.7" fill="#1c24a6"/><path d="M565.7 607L565.7 615.7C565.7 621.5 560 621.5 560 627.3L560 636" stroke="#c8f8b4" stroke-width="12.4" stroke-linecap="round" fill="none"/><path d="M565.7 607L565.7 615.7C565.7 621.5 560 621.5 560 627.3L560 636" stroke="#96fc3a" stroke-width="10" stroke-linecap="round" fill="none"/><ellipse cx="565.7" cy="612.1" rx="5.3" ry="8.6" fill="#96fc3a"/><ellipse cx="560" cy="630.9" rx="4.7" ry="8.6" fill="#96fc3a"/><path d="M576.7 608.2L576.7 616.5C576.7 622 576.8 622 576.8 627.5L576.8 635.8" stroke="#a6dce6" stroke-width="11.3" stroke-linecap="round" fill="none"/><path d="M576.7 608.2L576.7 616.5C576.7 622 576.8 622 576.8 627.5L576.8 635.8" stroke="#6a9ad4" stroke-width="6.7" stroke-linecap="round" fill="none"/><ellipse cx="576.7" cy="613.4" rx="5.7" ry="8.3" fill="#1c24a6"/><ellipse cx="576.7" cy="613.4" rx="3.6" ry="5.4" fill="#1c24a6"/><ellipse cx="576.8" cy="630.6" rx="4.3" ry="8.3" fill="#1c24a6"/><ellipse cx="576.8" cy="630.6" rx="2.7" ry="5.4" fill="#0c0c98"/><path d="M588.7 607.6L588.7 615.9C588.7 621.5 585.6 621.5 585.6 627.1L585.6 635.4" stroke="#c8f8b4" stroke-width="9.5" stroke-linecap="round" fill="none"/><path d="M588.7 607.6L588.7 615.9C588.7 621.5 585.6 621.5 585.6 627.1L585.6 635.4" stroke="#96fc3a" stroke-width="7.1" stroke-linecap="round" fill="none"/><ellipse cx="588.7" cy="613.1" rx="3" ry="7.7" fill="#96fc3a"/><ellipse cx="585.6" cy="629.9" rx="4.1" ry="7.7" fill="#96fc3a"/><path d="M597.1 608.1L597.1 616.1C597.1 621.5 597.1 621.5 597.1 626.9L597.1 634.9" stroke="#a6dce6" stroke-width="11.2" stroke-linecap="round" fill="none"/><path d="M597.1 608.1L597.1 616.1C597.1 621.5 597.1 621.5 597.1 626.9L597.1 634.9" stroke="#6a9ad4" stroke-width="6.5" stroke-linecap="round" fill="none"/><ellipse cx="597.1" cy="613.1" rx="4.9" ry="8.1" fill="#1c24a6"/><ellipse cx="597.1" cy="613.1" rx="3.1" ry="5.2" fill="#0c0c98"/><ellipse cx="597.1" cy="629.9" rx="4.9" ry="8.1" fill="#1c24a6"/><ellipse cx="597.1" cy="629.9" rx="3.1" ry="5.2" fill="#0c0c98"/><path d="M607.6 607L607.6 615.1C607.6 620.5 604.5 620.5 604.5 625.9L604.5 634" stroke="#c8f8b4" stroke-width="8.4" stroke-linecap="round" fill="none"/><path d="M607.6 607L607.6 615.1C607.6 620.5 604.5 620.5 604.5 625.9L604.5 634" stroke="#96fc3a" stroke-width="6" stroke-linecap="round" fill="none"/><ellipse cx="607.6" cy="612.6" rx="4" ry="7.3" fill="#96fc3a"/><ellipse cx="604.5" cy="628.4" rx="2" ry="7.3" fill="#96fc3a"/><path d="M616.8 610L616.8 617.2C616.8 622 613.5 622 613.5 626.8L613.5 634" stroke="#a6dce6" stroke-width="8.9" stroke-linecap="round" fill="none"/><path d="M616.8 610L616.8 617.2C616.8 622 613.5 622 613.5 626.8L613.5 634" stroke="#6a9ad4" stroke-width="4.7" stroke-linecap="round" fill="none"/><ellipse cx="616.8" cy="614.8" rx="3.8" ry="6.9" fill="#3a58bc"/><ellipse cx="613.5" cy="629.2" rx="3.4" ry="6.9" fill="#3a58bc"/><path d="M621 627.8L621 630C621 631.5 621 631.5 621 633L621 635.2" stroke="#c8f8b4" stroke-width="8" stroke-linecap="round" fill="none"/><path d="M621 627.8L621 630C621 631.5 621 631.5 621 633L621 635.2" stroke="#96fc3a" stroke-width="5.6" stroke-linecap="round" fill="none"/><ellipse cx="621" cy="628.4" rx="2.8" ry="2.9" fill="#96fc3a"/><ellipse cx="621" cy="634.6" rx="2.8" ry="2.9" fill="#96fc3a"/></g>
</g>
<path d="M426.55 673.6v-3.6M426.55 466.8v3.6M439.5 673.6v-3.6M439.5 466.8v3.6M452.45 673.6v-3.6M452.45 466.8v3.6M465.4 673.6v-7.2M465.4 466.8v7.2M478.35 673.6v-3.6M478.35 466.8v3.6M491.3 673.6v-3.6M491.3 466.8v3.6M504.25 673.6v-3.6M504.25 466.8v3.6M517.2 673.6v-7.2M517.2 466.8v7.2M530.15 673.6v-3.6M530.15 466.8v3.6M543.1 673.6v-3.6M543.1 466.8v3.6M556.05 673.6v-3.6M556.05 466.8v3.6M569 673.6v-7.2M569 466.8v7.2M581.95 673.6v-3.6M581.95 466.8v3.6M594.9 673.6v-3.6M594.9 466.8v3.6M607.85 673.6v-3.6M607.85 466.8v3.6M413.6 660.68h3.6M620.8 660.68h-3.6M413.6 647.75h3.6M620.8 647.75h-3.6M413.6 634.83h3.6M620.8 634.83h-3.6M413.6 621.9h7.2M620.8 621.9h-7.2M413.6 608.98h3.6M620.8 608.98h-3.6M413.6 596.05h3.6M620.8 596.05h-3.6M413.6 583.12h3.6M620.8 583.12h-3.6M413.6 570.2h7.2M620.8 570.2h-7.2M413.6 557.27h3.6M620.8 557.27h-3.6M413.6 544.35h3.6M620.8 544.35h-3.6M413.6 531.42h3.6M620.8 531.42h-3.6M413.6 518.5h7.2M620.8 518.5h-7.2M413.6 505.58h3.6M620.8 505.58h-3.6M413.6 492.65h3.6M620.8 492.65h-3.6M413.6 479.73h3.6M620.8 479.73h-3.6" stroke="#000" stroke-width="1.6" fill="none"/>
<rect x="413.6" y="466.8" width="207.2" height="206.8" fill="none" stroke="#000" stroke-width="1.7" stroke-linejoin="round"/>
<rect x="637.8" y="466.8" width="311.4" height="206.8" fill="#e0fcee"/>
<g clip-path="url(#cr2)">
<g filter="url(#bl2)"><path d="M636 499C640 493.8 652.7 498.3 660 498.5C667.3 498.7 675.7 497.2 680 500C684.3 502.8 685 509.2 686 515C687 520.8 688.7 531.3 686 535C683.3 538.7 676.8 536.8 670 537C663.2 537.2 650.7 537.2 645 536C639.3 534.8 637.5 536.2 636 530C634.5 523.8 632 504.2 636 499Z" fill="#c8f4b8"/><path d="M679 498C685.8 495.8 708.5 496.8 720 497C731.5 497.2 742.3 496 748 499C753.7 502 753.2 508.8 754 515C754.8 521.2 758.7 532.2 753 536C747.3 539.8 730.5 537.3 720 537.5C709.5 537.7 696.7 538.2 690 537C683.3 535.8 681.8 534.5 680 530C678.2 525.5 679.2 515.3 679 510C678.8 504.7 672.2 500.2 679 498Z" fill="#a6dce6"/><path d="M749 503C750.5 497.8 757.7 500.2 760 503C762.3 505.8 763 514.7 763 520C763 525.3 762 532.7 760 535C758 537.3 752.8 539.3 751 534C749.2 528.7 747.5 508.2 749 503Z" fill="#c8f4b8"/><ellipse cx="771" cy="506.5" rx="5" ry="4" fill="#b0dce6"/><path d="M778 498.5C784.7 495.4 808.3 497.4 820 497.5C831.7 497.6 842.7 496.9 848 499C853.3 501.1 852.3 506.8 852 510C851.7 513.2 849.7 516.5 846 518C842.3 519.5 837.7 519 830 519C822.3 519 808.3 518.5 800 518C791.7 517.5 783.7 519.2 780 516C776.3 512.8 771.3 501.6 778 498.5Z" fill="#c8f4b8"/><path d="M805 517C810.3 514.7 826.2 514.3 835 516C843.8 517.7 853.8 524.3 858 527C862.2 529.7 863 529.9 860 532C857 534.1 847.5 538.2 840 539.5C832.5 540.8 821.2 541.1 815 539.5C808.8 537.9 804.7 533.8 803 530C801.3 526.2 799.7 519.3 805 517Z" fill="#c8f4b8"/><path d="M848 497.5C853.3 494.7 871.3 496.7 880 497C888.7 497.3 896.3 497 900 499.5C903.7 502 903.7 508.9 902 512C900.3 515.1 897 517 890 518C883 519 867 518.7 860 518C853 517.3 850 517.4 848 514C846 510.6 842.7 500.3 848 497.5Z" fill="#a6dce6"/><ellipse cx="923" cy="506" rx="11" ry="5" fill="#b8e2ea"/><path d="M888 518C893 514.7 910.3 516 920 516C929.7 516 941.3 514.7 946 518C950.7 521.3 952.3 532.7 948 536C943.7 539.3 929.7 538 920 538C910.3 538 895.3 539.3 890 536C884.7 532.7 883 521.3 888 518Z" fill="#c4eaee"/><ellipse cx="945" cy="505.5" rx="6" ry="5" fill="#c8f4b8"/><path d="M636 603C638.3 600.5 647.3 600.5 650 603C652.7 605.5 653.7 615.2 652 618C650.3 620.8 642.7 620 640 620C637.3 620 636.7 620.8 636 618C635.3 615.2 633.7 605.5 636 603Z" fill="#a6dce6"/><path d="M656 603C660 600.8 679.3 600.8 684 603C688.7 605.2 688 613.8 684 616C680 618.2 664.7 618.2 660 616C655.3 613.8 652 605.2 656 603Z" fill="#c8f4b8"/><path d="M642 622C645.8 619.5 662 619.5 666 622C670 624.5 669.8 634.5 666 637C662.2 639.5 647 639.5 643 637C639 634.5 638.2 624.5 642 622Z" fill="#c8f4b8"/><path d="M683 603C687.3 600.5 705.7 602.7 716 603C726.3 603.3 740.2 603.2 745 605C749.8 606.8 749.8 611.8 745 614C740.2 616.2 725.2 617.3 716 618C706.8 618.7 695.5 620.5 690 618C684.5 615.5 678.7 605.5 683 603Z" fill="#a6dce6"/><path d="M676 617C687.5 612.8 724.3 615.2 745 615C765.7 614.8 785 615.5 800 616C815 616.5 829 614 835 618C841 622 841.8 636.2 836 640C830.2 643.8 815.2 640.8 800 641C784.8 641.2 765.7 641.2 745 641C724.3 640.8 687.5 644 676 640C664.5 636 664.5 621.2 676 617Z" fill="#d6f5f0"/><ellipse cx="705" cy="636" rx="14" ry="3" fill="#a6d4e4"/><ellipse cx="770" cy="636" rx="18" ry="3" fill="#a6d4e4"/><path d="M745 602C754 599.3 784.5 601.8 800 602C815.5 602.2 831.2 600.3 838 603C844.8 605.7 841.3 611.8 841 618C840.7 624.2 840.8 636.2 836 640C831.2 643.8 818 644.3 812 641C806 637.7 808.7 623.3 800 620C791.3 616.7 769 621.3 760 621C751 620.7 748.5 621.2 746 618C743.5 614.8 736 604.7 745 602Z" fill="#a6dce6"/><path d="M830 621C833 617.5 843 619.5 850 620C857 620.5 868.3 620.5 872 624C875.7 627.5 875.7 637.8 872 641C868.3 644.2 856.7 643 850 643C843.3 643 835.3 644.7 832 641C828.7 637.3 827 624.5 830 621Z" fill="#c8f4b8"/><path d="M855 602C859 601 872.5 603.8 880 604C887.5 604.2 891.3 603 900 603C908.7 603 926.3 601.3 932 604C937.7 606.7 939.3 616.3 934 619C928.7 621.7 909.8 619.7 900 620C890.2 620.3 882.3 622.7 875 621C867.7 619.3 859.3 613.2 856 610C852.7 606.8 851 603 855 602Z" fill="#c8f4b8"/><ellipse cx="943" cy="610" rx="7" ry="6" fill="#a6dce6"/><ellipse cx="944" cy="630" rx="6" ry="8" fill="#a6dce6"/></g><g filter="url(#bl)"><path d="M636 500.5C640 498.2 653 499.8 660 500C667 500.2 674.5 500 678 501.5C681.5 503 681 506.8 681 509C681 511.2 681.5 514 678 515C674.5 516 667 515.2 660 515C653 514.8 640 516.4 636 514C632 511.6 632 502.8 636 500.5Z" fill="#96fc3a"/><path d="M672 521C672.8 518.7 677.8 519.3 680 520C682.2 520.7 684.5 522.8 685 525C685.5 527.2 684.7 531.5 683 533C681.3 534.5 676.8 536 675 534C673.2 532 671.2 523.3 672 521Z" fill="#a0f060"/><path d="M650 524C653.7 522.7 665.8 522 670 523C674.2 524 676.7 528.2 675 530C673.3 531.8 664.5 533.8 660 534C655.5 534.2 649.7 532.7 648 531C646.3 529.3 646.3 525.3 650 524Z" fill="#d0f8c8"/><path d="M692 502C693.3 498.8 692.7 501 700 501C707.3 501 728 501.2 736 502C744 502.8 745.7 503 748 506C750.3 509 750 515.3 750 520C750 524.7 753 531.3 748 534C743 536.7 728.7 536 720 536C711.3 536 700.7 536.7 696 534C691.3 531.3 692.7 525.3 692 520C691.3 514.7 690.7 505.2 692 502Z" fill="#5a8ad0"/><path d="M699 509C700.7 506.3 705.2 507.8 710 508C714.8 508.2 723.3 509 728 510C732.7 511 736 512 738 514C740 516 741.3 519.7 740 522C738.7 524.3 735.3 526.8 730 528C724.7 529.2 713 529.7 708 529C703 528.3 701.5 527.3 700 524C698.5 520.7 697.3 511.7 699 509Z" fill="#acd4ea"/><path d="M690 501C691.3 499.9 692.5 499.7 700 499.5C707.5 499.3 727 499.4 735 500C743 500.6 747.5 501.7 748 503C748.5 504.3 743.3 507.2 738 508C732.7 508.8 722.7 508 716 508C709.3 508 702 508.3 698 508C694 507.7 693.3 507.2 692 506C690.7 504.8 688.7 502.1 690 501Z" fill="#2a3ab4"/><path d="M718 527C722 525.5 734.7 523.8 740 524C745.3 524.2 748.3 526.1 750 528C751.7 529.9 753.3 534.2 750 535.5C746.7 536.8 735.7 536.4 730 536C724.3 535.6 718 534.5 716 533C714 531.5 714 528.5 718 527Z" fill="#2a3ab4"/><path d="M738 505C739.5 503.8 744.3 503.3 746 504.5C747.7 505.7 748 509.6 748 512C748 514.4 747.5 517.8 746 519C744.5 520.2 740.5 520.2 739 519C737.5 517.8 737.2 514.3 737 512C736.8 509.7 736.5 506.2 738 505Z" fill="#0a0a96"/><path d="M751 506C751.7 503.7 756.5 503.7 758 506C759.5 508.3 760 515.5 760 520C760 524.5 759.3 531 758 533C756.7 535 752.7 534.2 752 532C751.3 529.8 754.2 524.3 754 520C753.8 515.7 750.3 508.3 751 506Z" fill="#a8f070"/><path d="M779 500.5C783.7 498.1 800.7 499.6 810 499.5C819.3 499.4 829 499.4 835 500C841 500.6 844.3 501 846 503C847.7 505 847.7 509.8 845 512C842.3 514.2 837.5 515.3 830 516C822.5 516.7 808 516.3 800 516C792 515.7 785.5 516.6 782 514C778.5 511.4 774.3 502.9 779 500.5Z" fill="#96fc3a"/><path d="M808 519C812.5 517 826.8 516.7 835 518C843.2 519.3 853.2 524.8 857 527C860.8 529.2 861.2 529.2 858 531C854.8 532.8 845.2 536.8 838 538C830.8 539.2 820 539.3 815 538C810 536.7 809.2 533.2 808 530C806.8 526.8 803.5 521 808 519Z" fill="#96fc3a"/><path d="M851 501C855 498.8 867.3 499 875 499C882.7 499 893 499.3 897 501C901 502.7 900.2 506.8 899 509C897.8 511.2 896.5 513.4 890 514.5C883.5 515.6 866.5 515.9 860 515.5C853.5 515.1 852.5 514.4 851 512C849.5 509.6 847 503.2 851 501Z" fill="#2a3ab4"/><path d="M856 503C859.2 501.8 869 501.5 875 501.5C881 501.5 889 501.9 892 503C895 504.1 895 506.6 893 508C891 509.4 885.5 510.8 880 511.5C874.5 512.2 864 512.4 860 512C856 511.6 856.7 510.5 856 509C855.3 507.5 852.8 504.2 856 503Z" fill="#0a0a96"/><ellipse cx="923" cy="506" rx="8" ry="3" fill="#5a8ad0" opacity="0.8"/><ellipse cx="935" cy="527" rx="6" ry="5" fill="#5a8ad0"/><ellipse cx="946" cy="505" rx="4" ry="4" fill="#96fc3a"/><ellipse cx="639" cy="609.5" rx="7" ry="5" fill="#2a3ab4"/><ellipse cx="638" cy="609" rx="4" ry="3.5" fill="#0a0a96"/><ellipse cx="670" cy="609.5" rx="11" ry="4.5" fill="#96fc3a"/><ellipse cx="654" cy="629" rx="10" ry="5" fill="#96fc3a"/><path d="M686 606C688.5 604.9 695 604.5 700 604.5C705 604.5 712.3 604.9 716 606C719.7 607.1 723 609.4 722 611C721 612.6 715.3 614.8 710 615.5C704.7 616.2 694.2 616.2 690 615.5C685.8 614.8 685.7 612.6 685 611C684.3 609.4 683.5 607.1 686 606Z" fill="#2a3ab4"/><path d="M690 607C691.7 605.8 698.3 605.7 702 606C705.7 606.3 711.7 607.8 712 609C712.3 610.2 707.3 612.3 704 613C700.7 613.7 694.3 614 692 613C689.7 612 688.3 608.2 690 607Z" fill="#0a0a96"/><path d="M748 605C754.8 603 775.3 604 790 604C804.7 604 828 603.7 836 605C844 606.3 838.3 609.7 838 612C837.7 614.3 840.3 617.8 834 619C827.7 620.2 812.3 618.9 800 619C787.7 619.1 768.5 620 760 619.5C751.5 619 751 618.4 749 616C747 613.6 741.2 607 748 605Z" fill="#2a3ab4"/><path d="M752 606.5C758.3 605.5 777 605.9 790 606C803 606.1 823 606 830 607C837 608 837 610.5 832 612C827 613.5 812 615.2 800 616C788 616.8 768 617.2 760 616.5C752 615.8 753.3 613.7 752 612C750.7 610.3 745.7 607.5 752 606.5Z" fill="#0a0a96"/><path d="M812 624C815.7 622 826 620.7 830 621C834 621.3 835.3 623.3 836 626C836.7 628.7 837.5 635 834 637C830.5 639 819.3 638.7 815 638C810.7 637.3 808.5 635.3 808 633C807.5 630.7 808.3 626 812 624Z" fill="#2a3ab4"/><path d="M834 623C836.8 621.2 844.3 621.7 850 622C855.7 622.3 864.5 623 868 625C871.5 627 872.3 631.3 871 634C869.7 636.7 865.2 639.8 860 641C854.8 642.2 844.5 642.3 840 641C835.5 639.7 834 636 833 633C832 630 831.2 624.8 834 623Z" fill="#96fc3a"/><ellipse cx="840" cy="632" rx="4" ry="3" fill="#c8f43c"/><path d="M856 604C857.3 603 865.3 602.7 870 603C874.7 603.3 879 605.8 884 606C889 606.2 892.7 604.8 900 604.5C907.3 604.2 922.7 603.6 928 604.5C933.3 605.4 932.5 608.4 932 610C931.5 611.6 930.3 613.3 925 614C919.7 614.7 907.5 613.3 900 614C892.5 614.7 885.3 617.5 880 618C874.7 618.5 871 618.5 868 617C865 615.5 864 611.2 862 609C860 606.8 854.7 605 856 604Z" fill="#96fc3a"/><ellipse cx="944" cy="609" rx="5" ry="4" fill="#2a3ab4"/><path d="M942 624C943.3 622 946.8 618.7 948 620C949.2 621.3 950 629.3 949 632C948 634.7 943.5 636 942 636C940.5 636 940 634 940 632C940 630 940.7 626 942 624Z" fill="#2a3ab4"/></g>
</g>
<path d="M653.37 673.6v-3.6M653.37 466.8v3.6M668.94 673.6v-3.6M668.94 466.8v3.6M684.51 673.6v-3.6M684.51 466.8v3.6M700.08 673.6v-7.2M700.08 466.8v7.2M715.65 673.6v-3.6M715.65 466.8v3.6M731.22 673.6v-3.6M731.22 466.8v3.6M746.79 673.6v-3.6M746.79 466.8v3.6M762.36 673.6v-7.2M762.36 466.8v7.2M777.93 673.6v-3.6M777.93 466.8v3.6M793.5 673.6v-3.6M793.5 466.8v3.6M809.07 673.6v-3.6M809.07 466.8v3.6M824.64 673.6v-7.2M824.64 466.8v7.2M840.21 673.6v-3.6M840.21 466.8v3.6M855.78 673.6v-3.6M855.78 466.8v3.6M871.35 673.6v-3.6M871.35 466.8v3.6M886.92 673.6v-7.2M886.92 466.8v7.2M902.49 673.6v-3.6M902.49 466.8v3.6M918.06 673.6v-3.6M918.06 466.8v3.6M933.63 673.6v-3.6M933.63 466.8v3.6M637.8 660.68h3.6M949.2 660.68h-3.6M637.8 647.75h3.6M949.2 647.75h-3.6M637.8 634.83h3.6M949.2 634.83h-3.6M637.8 621.9h7.2M949.2 621.9h-7.2M637.8 608.98h3.6M949.2 608.98h-3.6M637.8 596.05h3.6M949.2 596.05h-3.6M637.8 583.12h3.6M949.2 583.12h-3.6M637.8 570.2h7.2M949.2 570.2h-7.2M637.8 557.27h3.6M949.2 557.27h-3.6M637.8 544.35h3.6M949.2 544.35h-3.6M637.8 531.42h3.6M949.2 531.42h-3.6M637.8 518.5h7.2M949.2 518.5h-7.2M637.8 505.58h3.6M949.2 505.58h-3.6M637.8 492.65h3.6M949.2 492.65h-3.6M637.8 479.73h3.6M949.2 479.73h-3.6" stroke="#000" stroke-width="1.6" fill="none"/>
<rect x="637.8" y="466.8" width="311.4" height="206.8" fill="none" stroke="#000" stroke-width="1.7" stroke-linejoin="round"/>
<circle cx="517.1" cy="29.4" r="7.4" fill="#fff" stroke="#000" stroke-width="2.2"/><path d="M511.9 24.2L522.3 34.6M511.9 34.6L522.3 24.2" stroke="#000" stroke-width="1.9"/><circle cx="517.1" cy="112.4" r="7.4" fill="#fff" stroke="#000" stroke-width="2.2"/><circle cx="517.1" cy="112.4" r="1.7" fill="#000"/><circle cx="517.1" cy="195" r="7.4" fill="#fff" stroke="#000" stroke-width="2.2"/><path d="M511.9 189.8L522.3 200.2M511.9 200.2L522.3 189.8" stroke="#000" stroke-width="1.9"/><path d="M812.3 31.6H786.1" stroke="#111" stroke-width="2.3" stroke-linecap="round"/><path d="M771.9 31.6L786.1 27.7L786.1 35.5Z" fill="#111"/><path d="M771.3 113.1H798" stroke="#111" stroke-width="2.3" stroke-linecap="round"/><path d="M811.7 113.1L798 109.2L798 117Z" fill="#111"/><path d="M811.1 195H787" stroke="#111" stroke-width="2.3" stroke-linecap="round"/><path d="M773 195L787 191.1L787 198.9Z" fill="#111"/>
<text x="410.9" y="221.6" font-size="18.5" text-anchor="end">0</text>
<text x="410.9" y="170.62" font-size="18.5" text-anchor="end">20</text>
<text x="410.9" y="119.65" font-size="18.5" text-anchor="end">40</text>
<text x="410.9" y="68.67" font-size="18.5" text-anchor="end">60</text>
<text x="410.9" y="17.7" font-size="18.5" text-anchor="end">80</text>
<text transform="translate(378.5 114.05) rotate(-90)" font-size="20.5" text-anchor="middle">x<tspan font-size="13" dy="4">3</tspan><tspan dy="-4"> [c/</tspan><tspan font-family="Liberation Serif, serif" font-style="italic">ω</tspan><tspan font-size="13" dy="4">p</tspan><tspan dy="-4">]</tspan></text>
<text x="410.9" y="450.7" font-size="18.5" text-anchor="end">0</text>
<text x="410.9" y="399.68" font-size="18.5" text-anchor="end">20</text>
<text x="410.9" y="348.65" font-size="18.5" text-anchor="end">40</text>
<text x="410.9" y="297.62" font-size="18.5" text-anchor="end">60</text>
<text x="410.9" y="246.6" font-size="18.5" text-anchor="end">80</text>
<text transform="translate(378.5 343.05) rotate(-90)" font-size="20.5" text-anchor="middle">x<tspan font-size="13" dy="4">3</tspan><tspan dy="-4"> [c/</tspan><tspan font-family="Liberation Serif, serif" font-style="italic">ω</tspan><tspan font-size="13" dy="4">p</tspan><tspan dy="-4">]</tspan></text>
<text x="410.9" y="678.7" font-size="18.5" text-anchor="end">0</text>
<text x="410.9" y="627.75" font-size="18.5" text-anchor="end">20</text>
<text x="410.9" y="576.8" font-size="18.5" text-anchor="end">40</text>
<text x="410.9" y="525.85" font-size="18.5" text-anchor="end">60</text>
<text x="410.9" y="474.9" font-size="18.5" text-anchor="end">80</text>
<text transform="translate(378.5 571.2) rotate(-90)" font-size="20.5" text-anchor="middle">x<tspan font-size="13" dy="4">3</tspan><tspan dy="-4"> [c/</tspan><tspan font-family="Liberation Serif, serif" font-style="italic">ω</tspan><tspan font-size="13" dy="4">p</tspan><tspan dy="-4">]</tspan></text>
<text x="417.4" y="693.5" font-size="18.5" text-anchor="middle">0</text>
<text x="518.8" y="693.5" font-size="18.5" text-anchor="middle">40</text>
<text x="620.2" y="693.5" font-size="18.5" text-anchor="middle">80</text>
<text x="638.3" y="693.5" font-size="18.5" text-anchor="middle">0</text>
<text x="700.56" y="693.5" font-size="18.5" text-anchor="middle">50</text>
<text x="762.82" y="693.5" font-size="18.5" text-anchor="middle">100</text>
<text x="825.08" y="693.5" font-size="18.5" text-anchor="middle">150</text>
<text x="887.34" y="693.5" font-size="18.5" text-anchor="middle">200</text>
<text x="949.6" y="693.5" font-size="18.5" text-anchor="middle">250</text>
<text x="41.2" y="693.5" font-size="18.5" text-anchor="middle">0</text>
<text x="98.84" y="693.5" font-size="18.5" text-anchor="middle">50</text>
<text x="156.48" y="693.5" font-size="18.5" text-anchor="middle">100</text>
<text x="214.12" y="693.5" font-size="18.5" text-anchor="middle">150</text>
<text x="271.76" y="693.5" font-size="18.5" text-anchor="middle">200</text>
<text x="329.4" y="693.5" font-size="18.5" text-anchor="middle">250</text>
<text x="517.6" y="714.6" font-size="20.5" text-anchor="middle">x<tspan font-size="13" dy="4">2</tspan><tspan dy="-4"> [c/</tspan><tspan font-family="Liberation Serif, serif" font-style="italic">ω</tspan><tspan font-size="13" dy="4">p</tspan><tspan dy="-4">]</tspan></text>
<text x="794.5" y="714.6" font-size="20.5" text-anchor="middle">x<tspan font-size="13" dy="4">1</tspan><tspan dy="-4"> [c/</tspan><tspan font-family="Liberation Serif, serif" font-style="italic">ω</tspan><tspan font-size="13" dy="4">p</tspan><tspan dy="-4">]</tspan></text>
<text x="184.9" y="714.6" font-size="20.5" text-anchor="middle">x<tspan font-size="13" dy="4">1</tspan><tspan dy="-4"> [c/</tspan><tspan font-family="Liberation Serif, serif" font-style="italic">ω</tspan><tspan font-size="13" dy="4">p</tspan><tspan dy="-4">]</tspan></text>
<text x="27.1" y="47.9" font-size="22.4" font-weight="bold" letter-spacing="0.9">(a)</text>
<text x="425.1" y="37" font-size="22.4" font-weight="bold" letter-spacing="0.9">(b)</text>
<text x="650.9" y="36.1" font-size="22.4" font-weight="bold" letter-spacing="0.9">(c)</text>
<text x="24.1" y="276.1" font-size="22.4" font-weight="bold" letter-spacing="0.9">(d)</text>
<text x="425.1" y="263.3" font-size="22.4" font-weight="bold" letter-spacing="0.9">(e)</text>
<text x="648.1" y="265.1" font-size="22.4" font-weight="bold" letter-spacing="0.9">(f)</text>
<text x="24.1" y="504.7" font-size="22.4" font-weight="bold" letter-spacing="0.9">(g)</text>
<text x="422.2" y="491.3" font-size="22.4" font-weight="bold" letter-spacing="0.9">(h)</text>
<text x="648.1" y="496.1" font-size="22.4" font-weight="bold" letter-spacing="0.9">(i)</text>
<text x="0.1" y="121.6" font-size="22.4" font-weight="bold">B<tspan font-size="12.3" font-weight="normal" dy="3.7">1</tspan></text>
<text x="0.1" y="349.5" font-size="22.4" font-weight="bold">B<tspan font-size="12.3" font-weight="normal" dy="4.4">2</tspan></text>
<text x="0.1" y="579.1" font-size="22.4" font-weight="bold">B<tspan font-size="12.3" font-weight="normal" dy="4.5">3</tspan></text>
<rect x="964.8" y="9.7" width="15.6" height="206.8" fill="url(#cbar)" stroke="#000" stroke-width="1.7"/><path d="M964.8 22.62h3M980.4 22.62h-3M964.8 35.55h3M980.4 35.55h-3M964.8 48.48h3M980.4 48.48h-3M964.8 61.4h5M980.4 61.4h-5M964.8 74.33h3M980.4 74.33h-3M964.8 87.25h3M980.4 87.25h-3M964.8 100.18h3M980.4 100.18h-3M964.8 113.1h5M980.4 113.1h-5M964.8 126.03h3M980.4 126.03h-3M964.8 138.95h3M980.4 138.95h-3M964.8 151.88h3M980.4 151.88h-3M964.8 164.8h5M980.4 164.8h-5M964.8 177.72h3M980.4 177.72h-3M964.8 190.65h3M980.4 190.65h-3M964.8 203.57h3M980.4 203.57h-3" stroke="#000" stroke-width="1.5"/><text x="984.1" y="17.65" font-size="18.5">2</text><text x="984.1" y="68.55" font-size="18.5">1</text><text x="984.1" y="119.6" font-size="18.5">0</text><text x="985" y="170.2" font-size="18.5">-1</text><text x="985" y="222.7" font-size="18.5">-2</text><text transform="translate(1025.5 111.3) rotate(-90)" font-size="20.7" text-anchor="middle">B-Field <tspan dx="5">[m</tspan><tspan font-size="13.5" dy="4.5">e</tspan><tspan dy="-4.5">c</tspan><tspan font-family="Liberation Serif, serif" font-style="italic">ω</tspan><tspan font-size="13.5" dy="4.5">p</tspan><tspan dy="-4.5">/e]</tspan></text>
</svg></body></html>
